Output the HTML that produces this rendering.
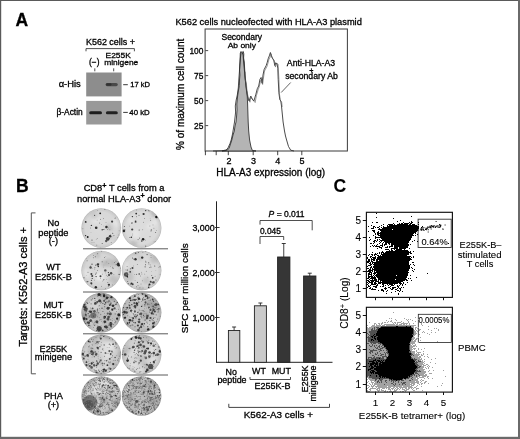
<!DOCTYPE html>
<html><head><meta charset="utf-8"><style>
html,body{margin:0;padding:0;background:#fff;}
body{width:520px;height:439px;overflow:hidden;}
svg{display:block;font-family:"Liberation Sans", Arial, Helvetica, sans-serif;}
text{fill:#000;stroke:#000;stroke-width:0.3px;}
text.lt{stroke-width:0.1px;}
</style></head><body>
<svg width="520" height="439" viewBox="0 0 520 439">
<rect x="0" y="0" width="520" height="439" fill="#fff"/>
<text x="15.6" y="25.7" font-size="17.5" text-anchor="start" font-weight="bold" >A</text><text x="86" y="44.8" font-size="8.95" text-anchor="start" font-weight="normal" >K562 cells +</text><polyline points="86.00,51.30 86.00,48.60 134.40,48.60 134.40,51.30" stroke="#222" stroke-width="0.8" fill="none" stroke-linejoin="round"/><text transform="translate(118.2,57.7) scale(1,0.92)" font-size="8.4" text-anchor="middle" font-weight="normal" >E255K</text><text transform="translate(121.2,64.8) scale(1,0.88)" font-size="8.4" text-anchor="middle" font-weight="normal" >minigene</text><text x="94.2" y="65.0" font-size="8.4" text-anchor="middle" font-weight="normal" >(−)</text><line x1="94.8" y1="68.3" x2="94.8" y2="71.3" stroke="#222" stroke-width="0.8"/><line x1="113.7" y1="68.3" x2="113.7" y2="71.3" stroke="#222" stroke-width="0.8"/><rect x="86.2" y="72.5" width="35.4" height="23.9" fill="#8d8d8d"/><rect x="86.2" y="100.9" width="35.4" height="23.6" fill="#999"/><defs><radialGradient id="band" cx="0.5" cy="0.5" r="0.5"><stop offset="0" stop-color="#1a1a1a"/><stop offset="0.6" stop-color="#2a2a2a"/><stop offset="1" stop-color="#2a2a2a" stop-opacity="0"/></radialGradient><radialGradient id="band2" cx="0.5" cy="0.5" r="0.5"><stop offset="0" stop-color="#3a3a3a"/><stop offset="0.6" stop-color="#505050"/><stop offset="1" stop-color="#555" stop-opacity="0"/></radialGradient></defs><filter id="bb" x="-20%" y="-50%" width="140%" height="200%"><feGaussianBlur stdDeviation="0.7"/></filter><g filter="url(#bb)"><rect x="105.6" y="82.9" width="12.2" height="3.3" rx="1.6" fill="#4a4a4a"/><rect x="106" y="83.3" width="5.5" height="2.5" rx="1.2" fill="#333"/><rect x="89.2" y="111.2" width="12.8" height="3.1" rx="1.5" fill="#1c1c1c"/><rect x="105.9" y="111.3" width="11.9" height="3.0" rx="1.5" fill="#222"/></g><text x="80.8" y="87.2" font-size="9.4" text-anchor="end" font-weight="normal" >α-His</text><text x="82.7" y="115.4" font-size="8.4" text-anchor="end" font-weight="normal" >β-Actin</text><line x1="123.2" y1="84.7" x2="127.8" y2="84.7" stroke="#222" stroke-width="0.9"/><line x1="123.2" y1="112.4" x2="127.8" y2="112.4" stroke="#222" stroke-width="0.9"/><text x="130.2" y="87.3" font-size="7.6" text-anchor="start" font-weight="normal" >17 kD</text><text x="129.3" y="115.2" font-size="7.8" text-anchor="start" font-weight="normal" >40 kD</text><text x="175.4" y="24.5" font-size="9.28" text-anchor="start" font-weight="normal" >K562 cells nucleofected with HLA-A3 plasmid</text><rect x="205.1" y="29.0" width="142.3" height="122.0" fill="none" stroke="#444" stroke-width="1.05"/><text transform="translate(183.5,94.3) rotate(-90)" font-size="10" text-anchor="middle" font-weight="normal">% of maximum cell count</text><line x1="205.4" y1="50.6" x2="208.2" y2="50.6" stroke="#222" stroke-width="0.8"/><text x="203.4" y="53.7" font-size="8.4" text-anchor="end" font-weight="normal" >100</text><line x1="205.4" y1="75.6" x2="208.2" y2="75.6" stroke="#222" stroke-width="0.8"/><text x="203.4" y="78.69999999999999" font-size="8.4" text-anchor="end" font-weight="normal" >75</text><line x1="205.4" y1="100.6" x2="208.2" y2="100.6" stroke="#222" stroke-width="0.8"/><text x="203.4" y="103.69999999999999" font-size="8.4" text-anchor="end" font-weight="normal" >50</text><line x1="205.4" y1="125.6" x2="208.2" y2="125.6" stroke="#222" stroke-width="0.8"/><text x="203.4" y="128.7" font-size="8.4" text-anchor="end" font-weight="normal" >25</text><line x1="205.4" y1="151" x2="205.4" y2="155.2" stroke="#222" stroke-width="0.85"/><line x1="216.2" y1="151" x2="216.2" y2="155.2" stroke="#222" stroke-width="0.85"/><line x1="228.3" y1="151" x2="228.3" y2="155.2" stroke="#222" stroke-width="0.85"/><line x1="253.2" y1="151" x2="253.2" y2="155.2" stroke="#222" stroke-width="0.85"/><line x1="277.7" y1="151" x2="277.7" y2="155.2" stroke="#222" stroke-width="0.85"/><line x1="301.8" y1="151" x2="301.8" y2="155.2" stroke="#222" stroke-width="0.85"/><text x="228.9" y="163.8" font-size="9.0" text-anchor="middle" font-weight="normal" >2</text><text x="253.5" y="163.8" font-size="9.0" text-anchor="middle" font-weight="normal" >3</text><text x="277.8" y="163.8" font-size="9.0" text-anchor="middle" font-weight="normal" >4</text><text x="302" y="163.8" font-size="9.0" text-anchor="middle" font-weight="normal" >5</text><text x="216.25" y="175.5" font-size="10" text-anchor="start" font-weight="normal" >HLA-A3 expression (log)</text><text x="241.8" y="39.5" font-size="8.5" text-anchor="middle" font-weight="normal" >Secondary</text><text transform="translate(241.8,47.6) scale(1,0.93)" font-size="8.5" text-anchor="middle" font-weight="normal" >Ab only</text><text x="311" y="65.5" font-size="8.7" text-anchor="middle" font-weight="normal" >Anti-HLA-A3</text><text x="311.3" y="72.6" font-size="7.2" text-anchor="middle" font-weight="normal" >+</text><text x="311.5" y="78.9" font-size="8.7" text-anchor="middle" font-weight="normal" >secondary Ab</text><line x1="290.7" y1="82.5" x2="281.2" y2="92.5" stroke="#222" stroke-width="0.7"/><polygon points="222,151 226.4,150.6 229,148.5 231.8,140 233,135 234.3,131 235,126 236,122 236.6,116 237,110 236.8,104 237.5,97 238.2,92 239.3,85.7 239.5,80 239.9,75 239.6,70 240,62 240.3,53 241,51.5 242,52.5 243.3,51.5 243.8,54 243.6,58 244.3,62 244.6,68 245,75 245.6,80 246,85.7 246.8,91 247.3,97 247.6,104 247.8,110 248.2,122 248.7,131 249.6,140 251,147 252.4,150.5 256,151" fill="#b4b4b4" stroke="#2a2a2a" stroke-width="0.85"/><polyline points="213.00,151.00 222.00,150.80 226.00,150.00 228.00,148.00 230.00,143.50 231.20,140.00 232.50,134.00 233.20,130.00 234.50,122.00 235.20,116.00 235.60,112.00 235.30,106.00 236.20,100.00 237.30,95.00 238.30,88.00 238.80,80.00 239.40,72.00 239.80,65.00 240.40,58.00 241.00,53.50 241.60,52.50 242.30,53.00 243.10,55.00 243.60,62.00 244.40,70.00 245.00,78.00 245.80,84.00 246.40,90.10 247.70,96.90 249.10,101.00 250.70,96.20 252.10,99.00 253.90,101.00 255.90,94.20 257.30,88.70 258.70,86.00 260.00,79.20 261.10,77.50 262.10,83.30 263.00,75.00 264.10,69.60 266.20,65.50 267.10,62.80 268.20,58.70 269.30,55.90 270.40,52.50 271.40,55.90 272.30,58.00 273.70,60.00 274.80,65.50 275.70,62.80 277.10,64.10 277.80,68.20 278.20,79.20 278.90,92.80 279.80,99.60 280.80,101.00 281.50,106.00 282.30,114.00 283.10,122.00 284.50,131.00 285.50,136.00 286.60,140.00 288.50,146.50 290.70,150.20 294.00,151.00" stroke="#2a2a2a" stroke-width="0.85" fill="none" stroke-linejoin="round"/><polyline points="245.19,71.66 245.25,79.74 246.49,84.50 246.90,90.46 248.34,98.22 249.95,102.22 250.98,96.31 253.19,100.38 255.15,102.50 256.34,95.74 258.16,89.71 259.20,86.90 260.66,80.55 261.83,79.19 262.61,84.44 263.82,75.47 264.50,71.01 267.03,66.32 267.90,63.36 268.96,59.30 270.05,57.29 271.02,53.82 271.84,56.66 272.66,58.85 274.42,60.80 275.43,67.07 276.76,63.09 278.09,64.14 278.32,69.01 278.93,79.58 279.42,93.74 280.33,100.18 281.67,102.37 282.18,106.91" stroke="#555" stroke-width="0.6" fill="none" stroke-linejoin="round"/><text x="16.1" y="192.1" font-size="17.5" text-anchor="start" font-weight="bold" >B</text><text x="124.1" y="190.9" font-size="9.3" text-anchor="middle" font-weight="normal" >CD8<tspan font-size="7.2" font-weight="bold" dy="-3.1">+</tspan><tspan dy="3.1"> T cells from a</tspan></text><text x="124.1" y="201.5" font-size="9.3" text-anchor="middle" font-weight="normal" >normal HLA-A3<tspan font-size="7.2" font-weight="bold" dy="-3.1">+</tspan><tspan dy="3.1"> donor</tspan></text><text transform="translate(26.8,286.8) rotate(-90)" font-size="11" text-anchor="middle" font-weight="normal">Targets: K562-A3 cells +</text><polyline points="35.50,212.90 31.30,212.90 31.30,373.80 35.90,373.80" stroke="#555" stroke-width="1.0" fill="none" stroke-linejoin="round"/><text x="53.4" y="225.9" font-size="9.2" text-anchor="middle" font-weight="normal" >No</text><text x="53.4" y="235.7" font-size="9.2" text-anchor="middle" font-weight="normal" >peptide</text><text x="53.4" y="244.2" font-size="9.2" text-anchor="middle" font-weight="normal" >(-)</text><text x="53.4" y="269.6" font-size="9.2" text-anchor="middle" font-weight="normal" >WT</text><text x="53.4" y="279.7" font-size="9.2" text-anchor="middle" font-weight="normal" >E255K-B</text><text x="53.4" y="307.5" font-size="9.2" text-anchor="middle" font-weight="normal" >MUT</text><text x="53.4" y="317.9" font-size="9.2" text-anchor="middle" font-weight="normal" >E255K-B</text><text x="53.4" y="352.3" font-size="9.2" text-anchor="middle" font-weight="normal" >E255K</text><text x="53.4" y="360.3" font-size="9.2" text-anchor="middle" font-weight="normal" >minigene</text><text x="53.4" y="398.8" font-size="9.2" text-anchor="middle" font-weight="normal" >PHA</text><text x="53.4" y="407.8" font-size="9.2" text-anchor="middle" font-weight="normal" >(+)</text><defs><radialGradient id="well" cx="0.5" cy="0.5" r="0.5"><stop offset="0" stop-color="#fff" stop-opacity="0.12"/><stop offset="0.8" stop-color="#fff" stop-opacity="0.05"/><stop offset="0.95" stop-color="#000" stop-opacity="0.05"/><stop offset="1" stop-color="#000" stop-opacity="0.18"/></radialGradient><filter id="blur1" x="-10%" y="-10%" width="120%" height="120%"><feGaussianBlur stdDeviation="0.55"/></filter><filter id="blur2" x="-20%" y="-20%" width="140%" height="140%"><feGaussianBlur stdDeviation="1.6"/></filter><clipPath id="wc"><rect x="0" y="0" width="1" height="1"/></clipPath></defs><circle cx="101.2" cy="228.0" r="19.8" fill="#d6d6d6"/><clipPath id="c00"><circle cx="101.2" cy="228.0" r="19.5"/></clipPath><g clip-path="url(#c00)"><g filter="url(#blur2)"><circle cx="110.9" cy="238.1" r="2.6" fill="#000" fill-opacity="0.1"/><circle cx="112.6" cy="243.3" r="2.8" fill="#fff" fill-opacity="0.28"/><circle cx="116.0" cy="223.0" r="3.8" fill="#fff" fill-opacity="0.28"/><circle cx="95.8" cy="219.1" r="4.5" fill="#fff" fill-opacity="0.28"/><circle cx="94.4" cy="215.6" r="3.9" fill="#000" fill-opacity="0.1"/><circle cx="110.1" cy="226.9" r="3.7" fill="#000" fill-opacity="0.1"/></g><g filter="url(#blur1)"><circle cx="107.7" cy="238.8" r="1.9" fill="#111" fill-opacity="0.85"/><circle cx="106.2" cy="241.0" r="1.2" fill="#333" fill-opacity="0.85"/><circle cx="92.0" cy="240.1" r="0.54" fill="rgb(66,66,66)"/><circle cx="106.0" cy="222.7" r="0.38" fill="rgb(82,82,82)"/><circle cx="117.4" cy="237.3" r="0.34" fill="rgb(80,80,80)"/><circle cx="97.1" cy="220.1" r="0.37" fill="rgb(113,113,113)"/><circle cx="109.9" cy="229.8" r="0.44" fill="rgb(74,74,74)"/><circle cx="114.9" cy="218.8" r="0.31" fill="rgb(73,73,73)"/><circle cx="111.8" cy="244.7" r="0.51" fill="rgb(82,82,82)"/><circle cx="104.6" cy="229.2" r="0.48" fill="rgb(109,109,109)"/><circle cx="97.2" cy="238.4" r="0.35" fill="rgb(56,56,56)"/><circle cx="119.1" cy="230.8" r="0.34" fill="rgb(82,82,82)"/><circle cx="100.6" cy="219.3" r="0.48" fill="rgb(54,54,54)"/><circle cx="103.8" cy="226.0" r="0.36" fill="rgb(106,106,106)"/><circle cx="103.4" cy="229.5" r="0.52" fill="rgb(70,70,70)"/><circle cx="82.9" cy="228.8" r="0.39" fill="rgb(65,65,65)"/><circle cx="100.2" cy="247.6" r="0.40" fill="rgb(115,115,115)"/><circle cx="91.0" cy="232.3" r="0.31" fill="rgb(102,102,102)"/><circle cx="112.7" cy="233.2" r="0.55" fill="rgb(67,67,67)"/><circle cx="100.4" cy="213.4" r="0.51" fill="rgb(96,96,96)"/><circle cx="104.9" cy="209.3" r="0.49" fill="rgb(60,60,60)"/><circle cx="109.4" cy="238.3" r="0.57" fill="rgb(105,105,105)"/><circle cx="101.4" cy="224.3" r="0.35" fill="rgb(75,75,75)"/><circle cx="108.7" cy="227.9" r="0.41" fill="rgb(67,67,67)"/><circle cx="118.3" cy="234.9" r="0.35" fill="rgb(94,94,94)"/><circle cx="95.6" cy="228.1" r="0.37" fill="rgb(92,92,92)"/><circle cx="107.7" cy="229.6" r="0.49" fill="rgb(88,88,88)"/><circle cx="94.0" cy="242.2" r="0.34" fill="rgb(74,74,74)"/><circle cx="96.2" cy="239.4" r="0.33" fill="rgb(113,113,113)"/><circle cx="113.9" cy="235.6" r="0.57" fill="rgb(117,117,117)"/><circle cx="99.6" cy="223.1" r="0.51" fill="rgb(106,106,106)"/><circle cx="109.5" cy="238.6" r="0.54" fill="rgb(53,53,53)"/><circle cx="97.7" cy="210.6" r="0.38" fill="rgb(103,103,103)"/><circle cx="103.6" cy="218.4" r="0.42" fill="rgb(59,59,59)"/><circle cx="90.6" cy="228.1" r="0.48" fill="rgb(92,92,92)"/><circle cx="102.2" cy="243.6" r="0.52" fill="rgb(75,75,75)"/><circle cx="96.8" cy="245.1" r="0.47" fill="rgb(79,79,79)"/><circle cx="94.6" cy="215.4" r="0.59" fill="rgb(68,68,68)"/><circle cx="110.5" cy="234.4" r="0.31" fill="rgb(88,88,88)"/><circle cx="111.2" cy="242.6" r="0.49" fill="rgb(104,104,104)"/><circle cx="115.2" cy="218.0" r="0.49" fill="rgb(70,70,70)"/><circle cx="92.0" cy="242.5" r="0.35" fill="rgb(76,76,76)"/><circle cx="85.7" cy="221.9" r="0.9" fill="rgb(32,32,32)"/><circle cx="85.6" cy="235.6" r="0.7" fill="rgb(34,34,34)"/><circle cx="102.2" cy="229.8" r="0.7" fill="rgb(28,28,28)"/><circle cx="110.1" cy="236.3" r="1.3" fill="rgb(38,38,38)"/><circle cx="91.4" cy="225.4" r="0.7" fill="rgb(44,44,44)"/><circle cx="106.4" cy="227.0" r="1.3" fill="rgb(24,24,24)"/><circle cx="96.2" cy="227.8" r="1.3" fill="rgb(18,18,18)"/><circle cx="100.2" cy="213.3" r="0.9" fill="rgb(11,11,11)"/><circle cx="87.7" cy="237.0" r="0.9" fill="rgb(16,16,16)"/><circle cx="112.1" cy="221.6" r="1.1" fill="rgb(46,46,46)"/></g></g><circle cx="101.2" cy="228.0" r="19.8" fill="url(#well)"/><circle cx="141.6" cy="228.0" r="19.8" fill="#d8d8d8"/><clipPath id="c01"><circle cx="141.6" cy="228.0" r="19.5"/></clipPath><g clip-path="url(#c01)"><g filter="url(#blur2)"><circle cx="155.0" cy="213.8" r="4.2" fill="#000" fill-opacity="0.1"/><circle cx="135.7" cy="234.1" r="4.3" fill="#fff" fill-opacity="0.28"/><circle cx="134.1" cy="242.7" r="3.6" fill="#000" fill-opacity="0.1"/><circle cx="149.5" cy="226.4" r="2.9" fill="#fff" fill-opacity="0.28"/><circle cx="154.4" cy="222.7" r="2.9" fill="#fff" fill-opacity="0.28"/><circle cx="131.2" cy="221.0" r="2.6" fill="#fff" fill-opacity="0.28"/></g><g filter="url(#blur1)"><circle cx="129.9" cy="237.5" r="0.57" fill="rgb(86,86,86)"/><circle cx="157.9" cy="217.9" r="0.44" fill="rgb(105,105,105)"/><circle cx="129.3" cy="226.1" r="0.31" fill="rgb(77,77,77)"/><circle cx="144.6" cy="218.6" r="0.44" fill="rgb(52,52,52)"/><circle cx="139.0" cy="215.2" r="0.50" fill="rgb(75,75,75)"/><circle cx="142.7" cy="229.8" r="0.46" fill="rgb(91,91,91)"/><circle cx="150.1" cy="218.5" r="0.31" fill="rgb(105,105,105)"/><circle cx="156.7" cy="230.6" r="0.32" fill="rgb(65,65,65)"/><circle cx="150.0" cy="236.7" r="0.47" fill="rgb(73,73,73)"/><circle cx="150.7" cy="220.2" r="0.47" fill="rgb(62,62,62)"/><circle cx="153.9" cy="228.2" r="0.42" fill="rgb(72,72,72)"/><circle cx="155.6" cy="232.6" r="0.52" fill="rgb(93,93,93)"/><circle cx="153.0" cy="224.9" r="0.43" fill="rgb(95,95,95)"/><circle cx="145.7" cy="246.2" r="0.58" fill="rgb(102,102,102)"/><circle cx="149.8" cy="210.9" r="0.30" fill="rgb(58,58,58)"/><circle cx="145.6" cy="240.1" r="0.43" fill="rgb(98,98,98)"/><circle cx="124.4" cy="226.6" r="0.50" fill="rgb(54,54,54)"/><circle cx="151.0" cy="231.0" r="0.50" fill="rgb(100,100,100)"/><circle cx="132.7" cy="234.0" r="0.38" fill="rgb(107,107,107)"/><circle cx="151.3" cy="229.9" r="0.54" fill="rgb(51,51,51)"/><circle cx="155.7" cy="241.6" r="0.39" fill="rgb(64,64,64)"/><circle cx="132.1" cy="222.4" r="0.33" fill="rgb(76,76,76)"/><circle cx="139.2" cy="230.0" r="0.57" fill="rgb(65,65,65)"/><circle cx="139.6" cy="238.1" r="0.56" fill="rgb(97,97,97)"/><circle cx="138.1" cy="239.6" r="0.54" fill="rgb(100,100,100)"/><circle cx="135.3" cy="222.5" r="0.53" fill="rgb(62,62,62)"/><circle cx="136.6" cy="209.9" r="0.43" fill="rgb(104,104,104)"/><circle cx="154.1" cy="241.9" r="0.47" fill="rgb(98,98,98)"/><circle cx="136.5" cy="216.8" r="0.47" fill="rgb(74,74,74)"/><circle cx="125.0" cy="229.8" r="0.55" fill="rgb(115,115,115)"/><circle cx="132.4" cy="235.8" r="0.42" fill="rgb(114,114,114)"/><circle cx="143.5" cy="222.3" r="0.45" fill="rgb(81,81,81)"/><circle cx="148.3" cy="210.7" r="0.49" fill="rgb(60,60,60)"/><circle cx="136.3" cy="222.4" r="0.47" fill="rgb(108,108,108)"/><circle cx="149.9" cy="226.0" r="0.40" fill="rgb(86,86,86)"/><circle cx="132.4" cy="216.6" r="0.7" fill="rgb(22,22,22)"/><circle cx="132.2" cy="229.5" r="1.1" fill="rgb(48,48,48)"/><circle cx="143.6" cy="214.0" r="1.1" fill="rgb(38,38,38)"/><circle cx="135.6" cy="221.3" r="0.9" fill="rgb(37,37,37)"/><circle cx="123.9" cy="230.9" r="1.3" fill="rgb(42,42,42)"/><circle cx="156.4" cy="217.0" r="1.3" fill="rgb(16,16,16)"/><circle cx="143.1" cy="239.2" r="1.3" fill="rgb(16,16,16)"/><circle cx="131.4" cy="237.2" r="0.7" fill="rgb(21,21,21)"/><circle cx="131.9" cy="223.1" r="0.7" fill="rgb(43,43,43)"/><circle cx="141.8" cy="241.0" r="0.7" fill="rgb(21,21,21)"/><circle cx="145.7" cy="210.6" r="0.7" fill="rgb(49,49,49)"/><circle cx="136.2" cy="213.6" r="0.9" fill="rgb(35,35,35)"/></g></g><circle cx="141.6" cy="228.0" r="19.8" fill="url(#well)"/><circle cx="101.2" cy="270.5" r="19.8" fill="#d4d4d4"/><clipPath id="c10"><circle cx="101.2" cy="270.5" r="19.5"/></clipPath><g clip-path="url(#c10)"><g filter="url(#blur2)"><circle cx="115.5" cy="262.8" r="3.8" fill="#000" fill-opacity="0.1"/><circle cx="103.9" cy="263.6" r="3.6" fill="#000" fill-opacity="0.1"/><circle cx="109.2" cy="262.7" r="4.6" fill="#000" fill-opacity="0.1"/><circle cx="97.5" cy="255.4" r="2.7" fill="#000" fill-opacity="0.1"/><circle cx="113.0" cy="279.3" r="4.2" fill="#000" fill-opacity="0.1"/><circle cx="98.8" cy="276.5" r="3.7" fill="#fff" fill-opacity="0.28"/><circle cx="85.9" cy="273.6" r="4.7" fill="#fff" fill-opacity="0.28"/><circle cx="99.7" cy="276.8" r="4.8" fill="#fff" fill-opacity="0.28"/></g><g filter="url(#blur1)"><circle cx="118.7" cy="264.5" r="1.9" fill="#111" fill-opacity="0.85"/><circle cx="106.8" cy="279.3" r="0.40" fill="rgb(114,114,114)"/><circle cx="103.5" cy="267.0" r="0.37" fill="rgb(112,112,112)"/><circle cx="108.4" cy="286.0" r="0.59" fill="rgb(119,119,119)"/><circle cx="101.5" cy="251.6" r="0.47" fill="rgb(119,119,119)"/><circle cx="112.4" cy="284.9" r="0.39" fill="rgb(77,77,77)"/><circle cx="97.5" cy="270.5" r="0.38" fill="rgb(51,51,51)"/><circle cx="87.1" cy="260.8" r="0.55" fill="rgb(117,117,117)"/><circle cx="115.9" cy="264.8" r="0.48" fill="rgb(101,101,101)"/><circle cx="105.5" cy="272.9" r="0.36" fill="rgb(103,103,103)"/><circle cx="104.5" cy="257.4" r="0.47" fill="rgb(50,50,50)"/><circle cx="96.2" cy="272.4" r="0.39" fill="rgb(68,68,68)"/><circle cx="91.8" cy="284.2" r="0.43" fill="rgb(61,61,61)"/><circle cx="86.1" cy="258.5" r="0.32" fill="rgb(58,58,58)"/><circle cx="104.5" cy="279.2" r="0.32" fill="rgb(61,61,61)"/><circle cx="103.6" cy="279.6" r="0.49" fill="rgb(83,83,83)"/><circle cx="95.9" cy="276.6" r="0.38" fill="rgb(56,56,56)"/><circle cx="107.8" cy="282.6" r="0.51" fill="rgb(110,110,110)"/><circle cx="102.3" cy="274.1" r="0.43" fill="rgb(54,54,54)"/><circle cx="90.5" cy="282.9" r="0.38" fill="rgb(55,55,55)"/><circle cx="95.3" cy="256.8" r="0.57" fill="rgb(86,86,86)"/><circle cx="107.8" cy="276.2" r="0.47" fill="rgb(89,89,89)"/><circle cx="120.6" cy="268.1" r="0.53" fill="rgb(91,91,91)"/><circle cx="98.9" cy="263.7" r="0.39" fill="rgb(92,92,92)"/><circle cx="96.2" cy="276.6" r="0.56" fill="rgb(50,50,50)"/><circle cx="97.7" cy="253.7" r="0.43" fill="rgb(70,70,70)"/><circle cx="108.1" cy="284.2" r="0.53" fill="rgb(108,108,108)"/><circle cx="110.4" cy="266.4" r="0.34" fill="rgb(99,99,99)"/><circle cx="94.8" cy="269.0" r="0.46" fill="rgb(87,87,87)"/><circle cx="94.5" cy="280.1" r="0.44" fill="rgb(99,99,99)"/><circle cx="95.6" cy="274.1" r="0.55" fill="rgb(69,69,69)"/><circle cx="113.1" cy="268.4" r="0.56" fill="rgb(110,110,110)"/><circle cx="103.3" cy="280.7" r="0.39" fill="rgb(98,98,98)"/><circle cx="112.7" cy="267.2" r="0.51" fill="rgb(101,101,101)"/><circle cx="105.4" cy="288.4" r="0.33" fill="rgb(73,73,73)"/><circle cx="113.9" cy="274.6" r="0.38" fill="rgb(94,94,94)"/><circle cx="106.8" cy="261.9" r="0.31" fill="rgb(109,109,109)"/><circle cx="100.6" cy="278.4" r="0.41" fill="rgb(81,81,81)"/><circle cx="86.8" cy="281.7" r="0.48" fill="rgb(90,90,90)"/><circle cx="87.5" cy="281.8" r="0.52" fill="rgb(85,85,85)"/><circle cx="114.5" cy="262.5" r="0.38" fill="rgb(80,80,80)"/><circle cx="115.9" cy="261.4" r="0.37" fill="rgb(105,105,105)"/><circle cx="84.0" cy="277.7" r="0.54" fill="rgb(67,67,67)"/><circle cx="92.2" cy="268.3" r="0.32" fill="rgb(76,76,76)"/><circle cx="93.4" cy="255.6" r="0.39" fill="rgb(52,52,52)"/><circle cx="102.2" cy="261.7" r="0.54" fill="rgb(87,87,87)"/><circle cx="94.9" cy="267.6" r="0.52" fill="rgb(113,113,113)"/><circle cx="90.7" cy="266.0" r="0.42" fill="rgb(90,90,90)"/><circle cx="106.3" cy="275.2" r="0.35" fill="rgb(53,53,53)"/><circle cx="101.6" cy="286.3" r="0.48" fill="rgb(90,90,90)"/><circle cx="103.9" cy="265.0" r="0.32" fill="rgb(77,77,77)"/><circle cx="96.4" cy="273.2" r="0.33" fill="rgb(54,54,54)"/><circle cx="87.9" cy="281.5" r="0.52" fill="rgb(69,69,69)"/><circle cx="102.3" cy="281.1" r="0.32" fill="rgb(82,82,82)"/><circle cx="86.8" cy="275.3" r="0.32" fill="rgb(107,107,107)"/><circle cx="105.8" cy="256.3" r="0.32" fill="rgb(90,90,90)"/><circle cx="108.8" cy="263.4" r="0.46" fill="rgb(88,88,88)"/><circle cx="114.2" cy="262.3" r="0.37" fill="rgb(119,119,119)"/><circle cx="93.3" cy="257.7" r="0.49" fill="rgb(85,85,85)"/><circle cx="90.3" cy="266.9" r="0.33" fill="rgb(94,94,94)"/><circle cx="88.0" cy="272.3" r="0.47" fill="rgb(64,64,64)"/><circle cx="98.0" cy="264.7" r="0.6" fill="rgb(23,23,23)"/><circle cx="109.0" cy="274.9" r="1.0" fill="rgb(42,42,42)"/><circle cx="119.1" cy="274.3" r="0.6" fill="rgb(50,50,50)"/><circle cx="92.0" cy="264.2" r="0.6" fill="rgb(43,43,43)"/><circle cx="100.5" cy="276.2" r="1.0" fill="rgb(36,36,36)"/><circle cx="92.2" cy="275.9" r="1.0" fill="rgb(49,49,49)"/><circle cx="95.8" cy="265.2" r="0.6" fill="rgb(67,67,67)"/><circle cx="91.5" cy="280.3" r="0.6" fill="rgb(68,68,68)"/><circle cx="111.1" cy="273.3" r="1.2" fill="rgb(59,59,59)"/><circle cx="91.4" cy="274.0" r="1.0" fill="rgb(46,46,46)"/><circle cx="105.3" cy="270.4" r="1.2" fill="rgb(69,69,69)"/><circle cx="97.9" cy="264.4" r="1.2" fill="rgb(32,32,32)"/><circle cx="117.1" cy="264.7" r="0.6" fill="rgb(58,58,58)"/><circle cx="95.8" cy="287.2" r="1.2" fill="rgb(36,36,36)"/><circle cx="108.4" cy="272.6" r="0.6" fill="rgb(21,21,21)"/><circle cx="109.0" cy="284.8" r="1.0" fill="rgb(30,30,30)"/><circle cx="90.6" cy="267.5" r="1.2" fill="rgb(63,63,63)"/><circle cx="98.3" cy="266.5" r="0.8" fill="rgb(25,25,25)"/><circle cx="91.4" cy="283.3" r="1.0" fill="rgb(54,54,54)"/><circle cx="92.2" cy="278.5" r="0.6" fill="rgb(31,31,31)"/></g></g><circle cx="101.2" cy="270.5" r="19.8" fill="url(#well)"/><circle cx="141.6" cy="270.5" r="19.8" fill="#d6d6d6"/><clipPath id="c11"><circle cx="141.6" cy="270.5" r="19.5"/></clipPath><g clip-path="url(#c11)"><g filter="url(#blur2)"><circle cx="135.7" cy="252.9" r="2.6" fill="#000" fill-opacity="0.1"/><circle cx="130.0" cy="271.4" r="2.7" fill="#000" fill-opacity="0.1"/><circle cx="140.0" cy="257.8" r="2.5" fill="#000" fill-opacity="0.1"/><circle cx="129.6" cy="277.3" r="4.4" fill="#000" fill-opacity="0.1"/><circle cx="146.2" cy="280.5" r="3.5" fill="#000" fill-opacity="0.1"/><circle cx="140.0" cy="289.5" r="3.4" fill="#000" fill-opacity="0.1"/><circle cx="123.4" cy="264.7" r="4.8" fill="#fff" fill-opacity="0.28"/><circle cx="154.2" cy="259.3" r="4.2" fill="#000" fill-opacity="0.1"/></g><g filter="url(#blur1)"><circle cx="126.1" cy="274.5" r="2.2" fill="#333" fill-opacity="0.85"/><circle cx="127.1" cy="266.4" r="0.47" fill="rgb(63,63,63)"/><circle cx="135.2" cy="258.3" r="0.44" fill="rgb(97,97,97)"/><circle cx="147.1" cy="254.6" r="0.53" fill="rgb(56,56,56)"/><circle cx="140.4" cy="276.0" r="0.40" fill="rgb(58,58,58)"/><circle cx="130.4" cy="268.7" r="0.53" fill="rgb(64,64,64)"/><circle cx="128.6" cy="283.7" r="0.51" fill="rgb(67,67,67)"/><circle cx="130.2" cy="284.7" r="0.50" fill="rgb(95,95,95)"/><circle cx="155.9" cy="280.0" r="0.52" fill="rgb(74,74,74)"/><circle cx="145.5" cy="264.8" r="0.53" fill="rgb(51,51,51)"/><circle cx="160.0" cy="266.8" r="0.55" fill="rgb(80,80,80)"/><circle cx="146.3" cy="271.2" r="0.46" fill="rgb(90,90,90)"/><circle cx="145.9" cy="262.0" r="0.60" fill="rgb(82,82,82)"/><circle cx="137.5" cy="282.4" r="0.60" fill="rgb(92,92,92)"/><circle cx="148.4" cy="285.5" r="0.42" fill="rgb(78,78,78)"/><circle cx="141.0" cy="284.0" r="0.42" fill="rgb(90,90,90)"/><circle cx="125.8" cy="269.9" r="0.47" fill="rgb(109,109,109)"/><circle cx="127.2" cy="283.6" r="0.31" fill="rgb(62,62,62)"/><circle cx="150.2" cy="264.9" r="0.42" fill="rgb(60,60,60)"/><circle cx="135.1" cy="280.3" r="0.39" fill="rgb(109,109,109)"/><circle cx="147.8" cy="277.3" r="0.43" fill="rgb(116,116,116)"/><circle cx="130.4" cy="283.9" r="0.45" fill="rgb(115,115,115)"/><circle cx="145.6" cy="261.1" r="0.47" fill="rgb(74,74,74)"/><circle cx="142.5" cy="280.8" r="0.38" fill="rgb(63,63,63)"/><circle cx="151.0" cy="255.6" r="0.40" fill="rgb(57,57,57)"/><circle cx="138.4" cy="252.4" r="0.52" fill="rgb(89,89,89)"/><circle cx="143.0" cy="288.0" r="0.42" fill="rgb(107,107,107)"/><circle cx="141.9" cy="274.1" r="0.49" fill="rgb(94,94,94)"/><circle cx="155.9" cy="270.6" r="0.31" fill="rgb(115,115,115)"/><circle cx="144.7" cy="274.1" r="0.42" fill="rgb(80,80,80)"/><circle cx="145.1" cy="266.8" r="0.58" fill="rgb(64,64,64)"/><circle cx="151.6" cy="271.7" r="0.30" fill="rgb(77,77,77)"/><circle cx="138.0" cy="285.5" r="0.48" fill="rgb(93,93,93)"/><circle cx="132.5" cy="257.9" r="0.50" fill="rgb(52,52,52)"/><circle cx="133.6" cy="265.9" r="0.37" fill="rgb(79,79,79)"/><circle cx="148.7" cy="262.8" r="0.54" fill="rgb(61,61,61)"/><circle cx="142.9" cy="252.3" r="0.43" fill="rgb(97,97,97)"/><circle cx="127.0" cy="272.8" r="0.58" fill="rgb(91,91,91)"/><circle cx="139.9" cy="287.8" r="0.36" fill="rgb(51,51,51)"/><circle cx="150.9" cy="267.1" r="0.57" fill="rgb(85,85,85)"/><circle cx="133.8" cy="259.1" r="0.59" fill="rgb(99,99,99)"/><circle cx="149.5" cy="267.5" r="0.39" fill="rgb(59,59,59)"/><circle cx="152.2" cy="284.2" r="0.34" fill="rgb(108,108,108)"/><circle cx="151.7" cy="275.5" r="0.53" fill="rgb(98,98,98)"/><circle cx="126.3" cy="274.4" r="0.56" fill="rgb(114,114,114)"/><circle cx="154.0" cy="281.8" r="0.57" fill="rgb(104,104,104)"/><circle cx="134.8" cy="274.3" r="0.41" fill="rgb(83,83,83)"/><circle cx="127.7" cy="281.5" r="0.50" fill="rgb(95,95,95)"/><circle cx="137.3" cy="264.4" r="0.42" fill="rgb(54,54,54)"/><circle cx="151.0" cy="257.6" r="0.49" fill="rgb(105,105,105)"/><circle cx="145.8" cy="251.2" r="0.56" fill="rgb(99,99,99)"/><circle cx="158.4" cy="267.6" r="0.32" fill="rgb(106,106,106)"/><circle cx="160.1" cy="274.8" r="0.39" fill="rgb(66,66,66)"/><circle cx="152.0" cy="282.3" r="0.54" fill="rgb(52,52,52)"/><circle cx="136.5" cy="286.8" r="0.51" fill="rgb(113,113,113)"/><circle cx="127.7" cy="277.6" r="0.51" fill="rgb(109,109,109)"/><circle cx="141.6" cy="272.2" r="0.49" fill="rgb(111,111,111)"/><circle cx="155.1" cy="276.2" r="0.39" fill="rgb(91,91,91)"/><circle cx="148.9" cy="264.1" r="0.39" fill="rgb(60,60,60)"/><circle cx="131.8" cy="286.3" r="0.34" fill="rgb(95,95,95)"/><circle cx="136.6" cy="274.4" r="0.56" fill="rgb(99,99,99)"/><circle cx="152.7" cy="277.9" r="0.8" fill="rgb(34,34,34)"/><circle cx="150.7" cy="281.8" r="1.0" fill="rgb(58,58,58)"/><circle cx="131.5" cy="283.6" r="1.0" fill="rgb(42,42,42)"/><circle cx="132.7" cy="284.3" r="1.0" fill="rgb(57,57,57)"/><circle cx="135.7" cy="253.2" r="0.6" fill="rgb(37,37,37)"/><circle cx="135.5" cy="259.2" r="1.2" fill="rgb(34,34,34)"/><circle cx="127.3" cy="270.0" r="0.6" fill="rgb(26,26,26)"/><circle cx="148.7" cy="287.2" r="0.8" fill="rgb(39,39,39)"/><circle cx="132.5" cy="268.0" r="1.0" fill="rgb(47,47,47)"/><circle cx="154.7" cy="266.0" r="0.6" fill="rgb(69,69,69)"/><circle cx="149.5" cy="284.5" r="1.0" fill="rgb(32,32,32)"/><circle cx="130.2" cy="271.9" r="0.8" fill="rgb(40,40,40)"/><circle cx="127.3" cy="276.6" r="0.8" fill="rgb(22,22,22)"/><circle cx="153.4" cy="282.4" r="1.2" fill="rgb(68,68,68)"/><circle cx="139.2" cy="274.0" r="0.8" fill="rgb(47,47,47)"/><circle cx="142.2" cy="257.6" r="1.2" fill="rgb(26,26,26)"/></g></g><circle cx="141.6" cy="270.5" r="19.8" fill="url(#well)"/><circle cx="101.2" cy="312.6" r="19.8" fill="#b9b9b9"/><clipPath id="c20"><circle cx="101.2" cy="312.6" r="19.5"/></clipPath><g clip-path="url(#c20)"><g filter="url(#blur2)"><circle cx="102.7" cy="321.3" r="3.5" fill="#000" fill-opacity="0.1"/><circle cx="113.0" cy="323.2" r="2.6" fill="#fff" fill-opacity="0.28"/><circle cx="120.3" cy="310.2" r="4.6" fill="#fff" fill-opacity="0.28"/><circle cx="85.6" cy="317.1" r="4.3" fill="#000" fill-opacity="0.1"/><circle cx="94.1" cy="315.4" r="3.6" fill="#000" fill-opacity="0.1"/><circle cx="85.1" cy="318.7" r="5.0" fill="#000" fill-opacity="0.1"/><circle cx="89.2" cy="322.8" r="2.8" fill="#fff" fill-opacity="0.28"/><circle cx="100.9" cy="323.1" r="3.1" fill="#fff" fill-opacity="0.28"/><circle cx="113.1" cy="307.5" r="4.8" fill="#fff" fill-opacity="0.28"/><circle cx="106.1" cy="295.9" r="4.3" fill="#000" fill-opacity="0.1"/><circle cx="94.6" cy="330.8" r="4.7" fill="#fff" fill-opacity="0.28"/><circle cx="91.1" cy="318.2" r="3.5" fill="#fff" fill-opacity="0.28"/><circle cx="112.6" cy="298.9" r="3.1" fill="#000" fill-opacity="0.1"/><circle cx="96.2" cy="314.6" r="2.6" fill="#000" fill-opacity="0.1"/><circle cx="93.2" cy="304.6" r="7" fill="#fff" fill-opacity="0.3"/></g><g filter="url(#blur1)"><circle cx="99.2" cy="328.6" r="2.6" fill="#222" fill-opacity="0.85"/><circle cx="93.2" cy="315.6" r="3" fill="#555" fill-opacity="0.85"/><circle cx="95.1" cy="317.3" r="0.58" fill="rgb(109,109,109)"/><circle cx="96.7" cy="330.5" r="0.51" fill="rgb(62,62,62)"/><circle cx="101.1" cy="325.8" r="0.41" fill="rgb(92,92,92)"/><circle cx="106.1" cy="327.0" r="0.60" fill="rgb(105,105,105)"/><circle cx="96.8" cy="321.6" r="0.36" fill="rgb(55,55,55)"/><circle cx="111.0" cy="314.2" r="0.33" fill="rgb(100,100,100)"/><circle cx="94.7" cy="304.0" r="0.45" fill="rgb(66,66,66)"/><circle cx="89.0" cy="317.8" r="0.47" fill="rgb(58,58,58)"/><circle cx="102.8" cy="311.5" r="0.48" fill="rgb(55,55,55)"/><circle cx="97.1" cy="321.6" r="0.39" fill="rgb(119,119,119)"/><circle cx="114.9" cy="305.2" r="0.38" fill="rgb(52,52,52)"/><circle cx="114.1" cy="319.3" r="0.32" fill="rgb(113,113,113)"/><circle cx="104.5" cy="313.2" r="0.35" fill="rgb(69,69,69)"/><circle cx="118.3" cy="309.1" r="0.47" fill="rgb(115,115,115)"/><circle cx="108.4" cy="297.6" r="0.50" fill="rgb(70,70,70)"/><circle cx="97.9" cy="325.7" r="0.37" fill="rgb(107,107,107)"/><circle cx="109.5" cy="328.9" r="0.35" fill="rgb(82,82,82)"/><circle cx="96.9" cy="322.1" r="0.44" fill="rgb(112,112,112)"/><circle cx="113.1" cy="306.1" r="0.57" fill="rgb(115,115,115)"/><circle cx="85.2" cy="305.4" r="0.33" fill="rgb(70,70,70)"/><circle cx="97.5" cy="309.8" r="0.49" fill="rgb(82,82,82)"/><circle cx="103.3" cy="294.0" r="0.56" fill="rgb(64,64,64)"/><circle cx="85.6" cy="313.0" r="0.55" fill="rgb(82,82,82)"/><circle cx="100.6" cy="314.3" r="0.50" fill="rgb(108,108,108)"/><circle cx="99.7" cy="305.8" r="0.49" fill="rgb(64,64,64)"/><circle cx="100.9" cy="296.5" r="0.50" fill="rgb(91,91,91)"/><circle cx="109.2" cy="323.2" r="0.52" fill="rgb(73,73,73)"/><circle cx="84.5" cy="310.8" r="0.57" fill="rgb(98,98,98)"/><circle cx="104.0" cy="309.1" r="0.41" fill="rgb(96,96,96)"/><circle cx="112.2" cy="320.7" r="0.54" fill="rgb(109,109,109)"/><circle cx="108.2" cy="318.1" r="0.59" fill="rgb(98,98,98)"/><circle cx="106.4" cy="315.3" r="0.48" fill="rgb(98,98,98)"/><circle cx="104.5" cy="304.4" r="0.54" fill="rgb(84,84,84)"/><circle cx="91.9" cy="321.0" r="0.54" fill="rgb(52,52,52)"/><circle cx="89.7" cy="316.6" r="0.56" fill="rgb(95,95,95)"/><circle cx="108.9" cy="304.0" r="0.42" fill="rgb(92,92,92)"/><circle cx="110.5" cy="297.6" r="0.55" fill="rgb(96,96,96)"/><circle cx="86.3" cy="311.7" r="0.51" fill="rgb(61,61,61)"/><circle cx="97.7" cy="327.0" r="0.42" fill="rgb(50,50,50)"/><circle cx="89.5" cy="302.1" r="0.38" fill="rgb(89,89,89)"/><circle cx="92.1" cy="299.3" r="0.41" fill="rgb(91,91,91)"/><circle cx="109.7" cy="324.7" r="0.57" fill="rgb(53,53,53)"/><circle cx="94.9" cy="321.0" r="0.33" fill="rgb(81,81,81)"/><circle cx="115.8" cy="299.6" r="0.47" fill="rgb(107,107,107)"/><circle cx="111.8" cy="308.5" r="0.35" fill="rgb(82,82,82)"/><circle cx="84.2" cy="321.3" r="0.46" fill="rgb(96,96,96)"/><circle cx="85.8" cy="309.1" r="0.44" fill="rgb(92,92,92)"/><circle cx="94.9" cy="312.2" r="0.50" fill="rgb(81,81,81)"/><circle cx="102.9" cy="322.9" r="0.34" fill="rgb(106,106,106)"/><circle cx="107.2" cy="329.5" r="0.39" fill="rgb(58,58,58)"/><circle cx="112.0" cy="305.8" r="0.53" fill="rgb(107,107,107)"/><circle cx="110.4" cy="313.8" r="0.40" fill="rgb(113,113,113)"/><circle cx="85.4" cy="323.5" r="0.59" fill="rgb(57,57,57)"/><circle cx="91.7" cy="300.1" r="0.49" fill="rgb(50,50,50)"/><circle cx="106.6" cy="301.4" r="0.34" fill="rgb(55,55,55)"/><circle cx="112.5" cy="318.6" r="0.32" fill="rgb(107,107,107)"/><circle cx="90.8" cy="319.6" r="0.46" fill="rgb(77,77,77)"/><circle cx="92.5" cy="310.6" r="0.46" fill="rgb(105,105,105)"/><circle cx="89.6" cy="328.2" r="0.35" fill="rgb(99,99,99)"/><circle cx="116.0" cy="309.7" r="0.37" fill="rgb(73,73,73)"/><circle cx="110.1" cy="316.6" r="0.40" fill="rgb(70,70,70)"/><circle cx="116.4" cy="311.4" r="0.41" fill="rgb(63,63,63)"/><circle cx="96.0" cy="315.0" r="0.45" fill="rgb(82,82,82)"/><circle cx="112.2" cy="305.6" r="0.50" fill="rgb(98,98,98)"/><circle cx="108.0" cy="325.9" r="0.35" fill="rgb(81,81,81)"/><circle cx="120.7" cy="315.6" r="0.57" fill="rgb(56,56,56)"/><circle cx="97.4" cy="316.8" r="0.50" fill="rgb(117,117,117)"/><circle cx="86.2" cy="322.8" r="0.42" fill="rgb(99,99,99)"/><circle cx="97.8" cy="295.9" r="0.51" fill="rgb(62,62,62)"/><circle cx="115.4" cy="304.4" r="0.60" fill="rgb(105,105,105)"/><circle cx="105.1" cy="299.6" r="0.53" fill="rgb(89,89,89)"/><circle cx="97.6" cy="308.7" r="0.38" fill="rgb(54,54,54)"/><circle cx="105.1" cy="304.1" r="0.55" fill="rgb(72,72,72)"/><circle cx="108.4" cy="320.2" r="0.31" fill="rgb(67,67,67)"/><circle cx="100.7" cy="301.4" r="0.40" fill="rgb(78,78,78)"/><circle cx="117.9" cy="319.9" r="0.39" fill="rgb(59,59,59)"/><circle cx="99.1" cy="301.1" r="0.40" fill="rgb(85,85,85)"/><circle cx="90.8" cy="308.5" r="0.30" fill="rgb(81,81,81)"/><circle cx="115.2" cy="313.9" r="0.60" fill="rgb(107,107,107)"/><circle cx="105.9" cy="299.1" r="0.50" fill="rgb(95,95,95)"/><circle cx="98.7" cy="293.0" r="0.43" fill="rgb(74,74,74)"/><circle cx="102.9" cy="303.5" r="0.57" fill="rgb(56,56,56)"/><circle cx="119.8" cy="314.5" r="0.35" fill="rgb(114,114,114)"/><circle cx="101.5" cy="302.0" r="0.60" fill="rgb(68,68,68)"/><circle cx="114.3" cy="301.3" r="0.60" fill="rgb(80,80,80)"/><circle cx="83.5" cy="304.2" r="0.31" fill="rgb(100,100,100)"/><circle cx="106.6" cy="295.3" r="0.49" fill="rgb(111,111,111)"/><circle cx="119.1" cy="316.9" r="0.36" fill="rgb(79,79,79)"/><circle cx="103.5" cy="321.2" r="0.32" fill="rgb(107,107,107)"/><circle cx="103.4" cy="311.3" r="0.37" fill="rgb(100,100,100)"/><circle cx="92.9" cy="311.8" r="0.35" fill="rgb(112,112,112)"/><circle cx="86.1" cy="315.8" r="0.36" fill="rgb(81,81,81)"/><circle cx="96.4" cy="331.1" r="0.31" fill="rgb(58,58,58)"/><circle cx="116.9" cy="302.5" r="0.44" fill="rgb(97,97,97)"/><circle cx="113.4" cy="308.8" r="0.43" fill="rgb(50,50,50)"/><circle cx="86.8" cy="309.9" r="0.32" fill="rgb(112,112,112)"/><circle cx="109.9" cy="301.2" r="0.42" fill="rgb(101,101,101)"/><circle cx="97.9" cy="323.6" r="0.44" fill="rgb(69,69,69)"/><circle cx="86.5" cy="302.2" r="0.44" fill="rgb(62,62,62)"/><circle cx="83.7" cy="309.0" r="0.49" fill="rgb(99,99,99)"/><circle cx="95.1" cy="300.8" r="0.55" fill="rgb(106,106,106)"/><circle cx="95.0" cy="309.9" r="0.38" fill="rgb(79,79,79)"/><circle cx="105.1" cy="322.7" r="0.40" fill="rgb(107,107,107)"/><circle cx="90.1" cy="317.8" r="0.47" fill="rgb(62,62,62)"/><circle cx="84.6" cy="322.2" r="0.59" fill="rgb(93,93,93)"/><circle cx="110.0" cy="301.9" r="0.36" fill="rgb(51,51,51)"/><circle cx="113.6" cy="324.2" r="0.49" fill="rgb(59,59,59)"/><circle cx="95.2" cy="324.9" r="0.39" fill="rgb(102,102,102)"/><circle cx="106.2" cy="322.0" r="0.47" fill="rgb(116,116,116)"/><circle cx="99.5" cy="320.0" r="0.40" fill="rgb(54,54,54)"/><circle cx="91.1" cy="303.8" r="0.60" fill="rgb(106,106,106)"/><circle cx="90.7" cy="307.6" r="0.33" fill="rgb(105,105,105)"/><circle cx="102.3" cy="294.0" r="0.33" fill="rgb(104,104,104)"/><circle cx="85.7" cy="304.0" r="0.55" fill="rgb(78,78,78)"/><circle cx="108.5" cy="325.0" r="0.54" fill="rgb(89,89,89)"/><circle cx="92.6" cy="317.9" r="0.33" fill="rgb(99,99,99)"/><circle cx="92.1" cy="322.6" r="0.43" fill="rgb(105,105,105)"/><circle cx="86.1" cy="306.4" r="0.59" fill="rgb(97,97,97)"/><circle cx="86.6" cy="316.0" r="0.36" fill="rgb(51,51,51)"/><circle cx="101.3" cy="321.7" r="0.36" fill="rgb(86,86,86)"/><circle cx="84.9" cy="304.9" r="0.37" fill="rgb(55,55,55)"/><circle cx="96.9" cy="312.7" r="0.47" fill="rgb(60,60,60)"/><circle cx="86.0" cy="323.7" r="0.53" fill="rgb(89,89,89)"/><circle cx="94.3" cy="322.6" r="0.48" fill="rgb(109,109,109)"/><circle cx="109.7" cy="307.5" r="0.50" fill="rgb(58,58,58)"/><circle cx="105.1" cy="316.5" r="0.51" fill="rgb(77,77,77)"/><circle cx="90.2" cy="325.8" r="0.39" fill="rgb(81,81,81)"/><circle cx="86.2" cy="309.3" r="0.48" fill="rgb(60,60,60)"/><circle cx="110.7" cy="329.6" r="0.36" fill="rgb(87,87,87)"/><circle cx="110.0" cy="315.0" r="0.47" fill="rgb(72,72,72)"/><circle cx="92.6" cy="298.3" r="0.49" fill="rgb(80,80,80)"/><circle cx="91.0" cy="309.0" r="0.42" fill="rgb(65,65,65)"/><circle cx="98.5" cy="305.9" r="0.31" fill="rgb(94,94,94)"/><circle cx="107.8" cy="327.4" r="0.53" fill="rgb(106,106,106)"/><circle cx="97.1" cy="303.5" r="0.48" fill="rgb(119,119,119)"/><circle cx="117.4" cy="302.3" r="0.59" fill="rgb(66,66,66)"/><circle cx="115.0" cy="320.3" r="0.33" fill="rgb(67,67,67)"/><circle cx="92.9" cy="308.7" r="0.44" fill="rgb(105,105,105)"/><circle cx="100.9" cy="314.7" r="0.49" fill="rgb(98,98,98)"/><circle cx="105.4" cy="301.1" r="0.31" fill="rgb(114,114,114)"/><circle cx="116.3" cy="304.1" r="0.60" fill="rgb(57,57,57)"/><circle cx="115.7" cy="321.8" r="0.51" fill="rgb(67,67,67)"/><circle cx="104.7" cy="306.8" r="0.57" fill="rgb(72,72,72)"/><circle cx="93.5" cy="313.7" r="0.34" fill="rgb(56,56,56)"/><circle cx="110.5" cy="319.9" r="0.44" fill="rgb(104,104,104)"/><circle cx="110.8" cy="319.4" r="0.43" fill="rgb(83,83,83)"/><circle cx="90.9" cy="299.9" r="0.46" fill="rgb(102,102,102)"/><circle cx="118.3" cy="315.8" r="0.52" fill="rgb(104,104,104)"/><circle cx="84.0" cy="319.7" r="0.52" fill="rgb(56,56,56)"/><circle cx="87.6" cy="303.2" r="0.59" fill="rgb(54,54,54)"/><circle cx="109.4" cy="314.2" r="0.47" fill="rgb(86,86,86)"/><circle cx="105.8" cy="322.1" r="0.40" fill="rgb(114,114,114)"/><circle cx="95.0" cy="314.8" r="0.51" fill="rgb(89,89,89)"/><circle cx="100.7" cy="303.1" r="0.50" fill="rgb(75,75,75)"/><circle cx="118.3" cy="309.7" r="0.32" fill="rgb(65,65,65)"/><circle cx="94.4" cy="325.3" r="0.54" fill="rgb(69,69,69)"/><circle cx="100.9" cy="319.6" r="0.53" fill="rgb(92,92,92)"/><circle cx="104.4" cy="323.6" r="0.31" fill="rgb(68,68,68)"/><circle cx="99.4" cy="308.5" r="0.49" fill="rgb(92,92,92)"/><circle cx="97.2" cy="311.8" r="0.45" fill="rgb(52,52,52)"/><circle cx="98.7" cy="312.7" r="0.53" fill="rgb(50,50,50)"/><circle cx="93.6" cy="327.6" r="0.38" fill="rgb(63,63,63)"/><circle cx="108.3" cy="307.3" r="0.45" fill="rgb(78,78,78)"/><circle cx="98.5" cy="301.7" r="0.37" fill="rgb(95,95,95)"/><circle cx="100.0" cy="310.0" r="0.32" fill="rgb(63,63,63)"/><circle cx="114.9" cy="322.8" r="0.53" fill="rgb(82,82,82)"/><circle cx="109.6" cy="311.3" r="0.59" fill="rgb(103,103,103)"/><circle cx="99.2" cy="317.7" r="0.46" fill="rgb(82,82,82)"/><circle cx="95.5" cy="298.8" r="0.35" fill="rgb(71,71,71)"/><circle cx="93.9" cy="324.0" r="0.39" fill="rgb(62,62,62)"/><circle cx="110.3" cy="304.5" r="1.1" fill="rgb(61,61,61)"/><circle cx="89.5" cy="311.5" r="0.9" fill="rgb(65,65,65)"/><circle cx="84.2" cy="304.8" r="1.1" fill="rgb(56,56,56)"/><circle cx="86.5" cy="319.0" r="1.1" fill="rgb(46,46,46)"/><circle cx="110.7" cy="323.1" r="1.1" fill="rgb(27,27,27)"/><circle cx="90.3" cy="321.0" r="0.9" fill="rgb(59,59,59)"/><circle cx="105.7" cy="302.7" r="0.7" fill="rgb(33,33,33)"/><circle cx="94.4" cy="311.2" r="1.3" fill="rgb(70,70,70)"/><circle cx="94.5" cy="298.4" r="0.7" fill="rgb(79,79,79)"/><circle cx="111.1" cy="326.5" r="0.9" fill="rgb(74,74,74)"/><circle cx="113.0" cy="305.8" r="1.3" fill="rgb(36,36,36)"/><circle cx="111.0" cy="303.1" r="0.7" fill="rgb(34,34,34)"/><circle cx="85.1" cy="307.4" r="1.1" fill="rgb(33,33,33)"/><circle cx="100.6" cy="294.9" r="0.9" fill="rgb(79,79,79)"/><circle cx="108.0" cy="308.2" r="1.5" fill="rgb(41,41,41)"/><circle cx="97.4" cy="310.0" r="0.7" fill="rgb(67,67,67)"/><circle cx="96.9" cy="321.8" r="1.5" fill="rgb(51,51,51)"/><circle cx="118.8" cy="314.7" r="1.5" fill="rgb(40,40,40)"/><circle cx="109.7" cy="305.4" r="0.7" fill="rgb(47,47,47)"/><circle cx="108.0" cy="301.9" r="0.7" fill="rgb(59,59,59)"/><circle cx="106.9" cy="297.9" r="1.3" fill="rgb(41,41,41)"/><circle cx="84.6" cy="309.2" r="0.9" fill="rgb(58,58,58)"/><circle cx="109.0" cy="300.9" r="0.7" fill="rgb(51,51,51)"/><circle cx="87.9" cy="322.5" r="1.1" fill="rgb(55,55,55)"/><circle cx="104.8" cy="321.7" r="1.3" fill="rgb(32,32,32)"/><circle cx="111.2" cy="323.9" r="1.3" fill="rgb(63,63,63)"/><circle cx="98.8" cy="331.2" r="0.9" fill="rgb(79,79,79)"/><circle cx="85.8" cy="314.8" r="0.9" fill="rgb(47,47,47)"/><circle cx="83.7" cy="306.7" r="1.1" fill="rgb(58,58,58)"/><circle cx="104.1" cy="295.9" r="1.3" fill="rgb(27,27,27)"/><circle cx="84.1" cy="318.6" r="1.3" fill="rgb(32,32,32)"/><circle cx="111.5" cy="297.2" r="1.1" fill="rgb(45,45,45)"/><circle cx="104.1" cy="300.7" r="0.9" fill="rgb(66,66,66)"/><circle cx="104.3" cy="294.5" r="0.7" fill="rgb(68,68,68)"/><circle cx="107.8" cy="313.6" r="1.1" fill="rgb(79,79,79)"/><circle cx="89.2" cy="316.0" r="0.7" fill="rgb(78,78,78)"/><circle cx="102.7" cy="330.4" r="0.9" fill="rgb(64,64,64)"/><circle cx="104.7" cy="317.0" r="1.3" fill="rgb(30,30,30)"/><circle cx="104.4" cy="318.2" r="0.9" fill="rgb(65,65,65)"/><circle cx="86.2" cy="308.7" r="1.5" fill="rgb(51,51,51)"/><circle cx="108.6" cy="317.1" r="1.3" fill="rgb(56,56,56)"/><circle cx="98.4" cy="301.1" r="0.7" fill="rgb(77,77,77)"/><circle cx="95.4" cy="303.4" r="1.3" fill="rgb(51,51,51)"/><circle cx="90.8" cy="311.8" r="1.3" fill="rgb(37,37,37)"/><circle cx="99.7" cy="300.8" r="1.5" fill="rgb(50,50,50)"/><circle cx="108.0" cy="318.9" r="1.5" fill="rgb(64,64,64)"/><circle cx="114.6" cy="308.3" r="1.1" fill="rgb(78,78,78)"/><circle cx="112.3" cy="309.7" r="1.1" fill="rgb(28,28,28)"/><circle cx="90.7" cy="320.5" r="1.3" fill="rgb(60,60,60)"/><circle cx="106.0" cy="326.8" r="1.5" fill="rgb(71,71,71)"/><circle cx="99.0" cy="294.6" r="1.5" fill="rgb(34,34,34)"/><circle cx="117.1" cy="318.7" r="1.1" fill="rgb(32,32,32)"/><circle cx="110.6" cy="325.2" r="1.1" fill="rgb(48,48,48)"/><circle cx="102.0" cy="308.3" r="0.7" fill="rgb(67,67,67)"/><circle cx="97.2" cy="302.0" r="1.1" fill="rgb(61,61,61)"/><circle cx="85.9" cy="309.9" r="1.5" fill="rgb(68,68,68)"/><circle cx="88.9" cy="325.3" r="0.7" fill="rgb(25,25,25)"/><circle cx="104.8" cy="326.7" r="0.9" fill="rgb(37,37,37)"/><circle cx="106.6" cy="327.4" r="1.1" fill="rgb(45,45,45)"/><circle cx="93.5" cy="316.1" r="0.7" fill="rgb(49,49,49)"/><circle cx="88.8" cy="322.8" r="1.3" fill="rgb(59,59,59)"/><circle cx="88.2" cy="313.6" r="0.7" fill="rgb(68,68,68)"/><circle cx="104.2" cy="301.3" r="0.7" fill="rgb(79,79,79)"/><circle cx="92.6" cy="308.4" r="0.9" fill="rgb(67,67,67)"/><circle cx="110.3" cy="313.8" r="1.5" fill="rgb(67,67,67)"/></g></g><circle cx="101.2" cy="312.6" r="19.8" fill="url(#well)"/><circle cx="141.6" cy="312.6" r="19.8" fill="#bfbfbf"/><clipPath id="c21"><circle cx="141.6" cy="312.6" r="19.5"/></clipPath><g clip-path="url(#c21)"><g filter="url(#blur2)"><circle cx="157.7" cy="318.3" r="2.8" fill="#000" fill-opacity="0.1"/><circle cx="139.4" cy="297.1" r="3.9" fill="#fff" fill-opacity="0.28"/><circle cx="124.0" cy="312.3" r="3.4" fill="#000" fill-opacity="0.1"/><circle cx="151.7" cy="319.0" r="3.1" fill="#000" fill-opacity="0.1"/><circle cx="146.7" cy="320.1" r="4.3" fill="#000" fill-opacity="0.1"/><circle cx="149.2" cy="320.3" r="2.8" fill="#fff" fill-opacity="0.28"/><circle cx="147.2" cy="303.6" r="3.5" fill="#000" fill-opacity="0.1"/><circle cx="145.0" cy="314.2" r="4.1" fill="#000" fill-opacity="0.1"/><circle cx="133.3" cy="313.0" r="3.8" fill="#fff" fill-opacity="0.28"/><circle cx="144.8" cy="327.3" r="2.9" fill="#000" fill-opacity="0.1"/><circle cx="154.4" cy="306.7" r="4.9" fill="#000" fill-opacity="0.1"/><circle cx="156.6" cy="319.0" r="4.1" fill="#fff" fill-opacity="0.28"/><circle cx="151.9" cy="304.0" r="4.2" fill="#000" fill-opacity="0.1"/><circle cx="146.5" cy="324.5" r="3.7" fill="#fff" fill-opacity="0.28"/></g><g filter="url(#blur1)"><circle cx="142.2" cy="305.1" r="0.45" fill="rgb(88,88,88)"/><circle cx="128.0" cy="324.6" r="0.54" fill="rgb(74,74,74)"/><circle cx="153.5" cy="318.2" r="0.55" fill="rgb(57,57,57)"/><circle cx="136.9" cy="304.8" r="0.34" fill="rgb(76,76,76)"/><circle cx="155.6" cy="300.2" r="0.48" fill="rgb(112,112,112)"/><circle cx="140.4" cy="325.9" r="0.43" fill="rgb(96,96,96)"/><circle cx="155.0" cy="317.7" r="0.37" fill="rgb(56,56,56)"/><circle cx="147.9" cy="298.4" r="0.50" fill="rgb(105,105,105)"/><circle cx="136.2" cy="304.4" r="0.34" fill="rgb(99,99,99)"/><circle cx="153.1" cy="313.9" r="0.51" fill="rgb(60,60,60)"/><circle cx="140.8" cy="316.2" r="0.58" fill="rgb(104,104,104)"/><circle cx="136.9" cy="293.8" r="0.58" fill="rgb(104,104,104)"/><circle cx="133.4" cy="297.1" r="0.34" fill="rgb(105,105,105)"/><circle cx="135.0" cy="326.7" r="0.56" fill="rgb(72,72,72)"/><circle cx="148.3" cy="315.0" r="0.40" fill="rgb(72,72,72)"/><circle cx="142.8" cy="310.5" r="0.59" fill="rgb(107,107,107)"/><circle cx="160.0" cy="318.5" r="0.34" fill="rgb(96,96,96)"/><circle cx="144.9" cy="306.6" r="0.37" fill="rgb(76,76,76)"/><circle cx="136.0" cy="317.6" r="0.47" fill="rgb(76,76,76)"/><circle cx="127.7" cy="315.8" r="0.56" fill="rgb(112,112,112)"/><circle cx="154.5" cy="323.7" r="0.57" fill="rgb(105,105,105)"/><circle cx="126.7" cy="324.5" r="0.44" fill="rgb(88,88,88)"/><circle cx="128.9" cy="311.9" r="0.46" fill="rgb(98,98,98)"/><circle cx="151.4" cy="303.2" r="0.35" fill="rgb(53,53,53)"/><circle cx="130.0" cy="319.7" r="0.48" fill="rgb(106,106,106)"/><circle cx="146.9" cy="322.1" r="0.54" fill="rgb(87,87,87)"/><circle cx="137.5" cy="297.3" r="0.47" fill="rgb(67,67,67)"/><circle cx="141.7" cy="317.7" r="0.50" fill="rgb(103,103,103)"/><circle cx="158.7" cy="311.3" r="0.31" fill="rgb(67,67,67)"/><circle cx="131.1" cy="317.5" r="0.41" fill="rgb(86,86,86)"/><circle cx="146.5" cy="314.1" r="0.48" fill="rgb(75,75,75)"/><circle cx="145.4" cy="320.1" r="0.52" fill="rgb(66,66,66)"/><circle cx="142.8" cy="298.8" r="0.58" fill="rgb(53,53,53)"/><circle cx="149.0" cy="304.6" r="0.45" fill="rgb(50,50,50)"/><circle cx="147.6" cy="323.2" r="0.39" fill="rgb(77,77,77)"/><circle cx="152.2" cy="306.2" r="0.47" fill="rgb(57,57,57)"/><circle cx="148.9" cy="306.4" r="0.41" fill="rgb(85,85,85)"/><circle cx="136.6" cy="302.7" r="0.59" fill="rgb(67,67,67)"/><circle cx="149.0" cy="297.7" r="0.58" fill="rgb(95,95,95)"/><circle cx="153.9" cy="317.2" r="0.34" fill="rgb(93,93,93)"/><circle cx="158.0" cy="312.1" r="0.59" fill="rgb(103,103,103)"/><circle cx="124.9" cy="303.7" r="0.58" fill="rgb(76,76,76)"/><circle cx="124.2" cy="311.8" r="0.44" fill="rgb(69,69,69)"/><circle cx="128.3" cy="307.7" r="0.44" fill="rgb(114,114,114)"/><circle cx="146.3" cy="308.0" r="0.35" fill="rgb(64,64,64)"/><circle cx="147.8" cy="326.4" r="0.50" fill="rgb(57,57,57)"/><circle cx="154.8" cy="298.9" r="0.37" fill="rgb(53,53,53)"/><circle cx="139.4" cy="313.5" r="0.44" fill="rgb(97,97,97)"/><circle cx="134.6" cy="316.1" r="0.57" fill="rgb(54,54,54)"/><circle cx="132.1" cy="305.8" r="0.34" fill="rgb(111,111,111)"/><circle cx="137.3" cy="315.8" r="0.56" fill="rgb(105,105,105)"/><circle cx="137.7" cy="330.1" r="0.37" fill="rgb(116,116,116)"/><circle cx="152.8" cy="310.2" r="0.46" fill="rgb(99,99,99)"/><circle cx="132.6" cy="325.1" r="0.45" fill="rgb(50,50,50)"/><circle cx="125.8" cy="312.7" r="0.56" fill="rgb(103,103,103)"/><circle cx="147.5" cy="295.1" r="0.33" fill="rgb(76,76,76)"/><circle cx="139.1" cy="309.2" r="0.44" fill="rgb(116,116,116)"/><circle cx="141.5" cy="316.1" r="0.55" fill="rgb(109,109,109)"/><circle cx="153.2" cy="325.6" r="0.51" fill="rgb(56,56,56)"/><circle cx="126.1" cy="309.3" r="0.54" fill="rgb(59,59,59)"/><circle cx="145.8" cy="294.9" r="0.38" fill="rgb(78,78,78)"/><circle cx="125.9" cy="307.5" r="0.43" fill="rgb(103,103,103)"/><circle cx="129.3" cy="302.5" r="0.52" fill="rgb(91,91,91)"/><circle cx="138.1" cy="321.5" r="0.54" fill="rgb(70,70,70)"/><circle cx="152.5" cy="310.4" r="0.47" fill="rgb(95,95,95)"/><circle cx="143.4" cy="310.9" r="0.56" fill="rgb(93,93,93)"/><circle cx="154.1" cy="309.8" r="0.55" fill="rgb(83,83,83)"/><circle cx="150.4" cy="308.8" r="0.34" fill="rgb(112,112,112)"/><circle cx="145.0" cy="313.7" r="0.33" fill="rgb(55,55,55)"/><circle cx="142.6" cy="323.2" r="0.54" fill="rgb(117,117,117)"/><circle cx="148.5" cy="317.9" r="0.48" fill="rgb(98,98,98)"/><circle cx="129.4" cy="316.9" r="0.45" fill="rgb(102,102,102)"/><circle cx="141.2" cy="310.5" r="0.36" fill="rgb(57,57,57)"/><circle cx="129.0" cy="304.3" r="0.57" fill="rgb(110,110,110)"/><circle cx="145.7" cy="302.0" r="0.57" fill="rgb(54,54,54)"/><circle cx="144.4" cy="311.3" r="0.35" fill="rgb(50,50,50)"/><circle cx="130.9" cy="325.4" r="0.50" fill="rgb(81,81,81)"/><circle cx="144.8" cy="304.9" r="0.59" fill="rgb(71,71,71)"/><circle cx="128.2" cy="309.1" r="0.46" fill="rgb(88,88,88)"/><circle cx="138.7" cy="294.4" r="0.49" fill="rgb(93,93,93)"/><circle cx="133.1" cy="308.0" r="0.36" fill="rgb(103,103,103)"/><circle cx="141.1" cy="324.1" r="0.55" fill="rgb(86,86,86)"/><circle cx="132.1" cy="324.7" r="0.43" fill="rgb(80,80,80)"/><circle cx="157.2" cy="309.3" r="0.56" fill="rgb(51,51,51)"/><circle cx="122.2" cy="312.5" r="0.59" fill="rgb(58,58,58)"/><circle cx="132.9" cy="299.7" r="0.59" fill="rgb(84,84,84)"/><circle cx="149.0" cy="300.3" r="0.42" fill="rgb(76,76,76)"/><circle cx="133.3" cy="313.8" r="0.50" fill="rgb(66,66,66)"/><circle cx="144.1" cy="293.9" r="0.39" fill="rgb(61,61,61)"/><circle cx="147.8" cy="327.0" r="0.40" fill="rgb(71,71,71)"/><circle cx="157.5" cy="319.8" r="0.34" fill="rgb(115,115,115)"/><circle cx="124.1" cy="313.7" r="0.41" fill="rgb(110,110,110)"/><circle cx="157.7" cy="319.0" r="0.42" fill="rgb(99,99,99)"/><circle cx="158.3" cy="310.8" r="0.48" fill="rgb(89,89,89)"/><circle cx="158.6" cy="321.9" r="0.35" fill="rgb(119,119,119)"/><circle cx="143.4" cy="297.6" r="0.48" fill="rgb(77,77,77)"/><circle cx="150.1" cy="320.7" r="0.50" fill="rgb(73,73,73)"/><circle cx="138.4" cy="312.0" r="0.42" fill="rgb(70,70,70)"/><circle cx="130.1" cy="325.9" r="0.59" fill="rgb(108,108,108)"/><circle cx="154.5" cy="307.6" r="0.48" fill="rgb(89,89,89)"/><circle cx="137.7" cy="312.4" r="0.54" fill="rgb(57,57,57)"/><circle cx="141.8" cy="301.6" r="0.47" fill="rgb(63,63,63)"/><circle cx="144.3" cy="308.8" r="0.37" fill="rgb(95,95,95)"/><circle cx="141.1" cy="325.7" r="0.52" fill="rgb(61,61,61)"/><circle cx="153.1" cy="320.5" r="0.55" fill="rgb(96,96,96)"/><circle cx="134.9" cy="310.3" r="0.58" fill="rgb(106,106,106)"/><circle cx="160.2" cy="316.2" r="0.48" fill="rgb(93,93,93)"/><circle cx="135.5" cy="317.8" r="0.57" fill="rgb(92,92,92)"/><circle cx="156.2" cy="314.8" r="0.58" fill="rgb(94,94,94)"/><circle cx="153.6" cy="313.7" r="0.39" fill="rgb(58,58,58)"/><circle cx="148.6" cy="308.0" r="0.55" fill="rgb(75,75,75)"/><circle cx="141.5" cy="293.6" r="0.32" fill="rgb(58,58,58)"/><circle cx="144.0" cy="326.3" r="0.34" fill="rgb(97,97,97)"/><circle cx="135.1" cy="305.9" r="0.47" fill="rgb(117,117,117)"/><circle cx="153.1" cy="326.5" r="0.53" fill="rgb(84,84,84)"/><circle cx="123.6" cy="307.7" r="0.59" fill="rgb(69,69,69)"/><circle cx="153.7" cy="314.0" r="0.60" fill="rgb(61,61,61)"/><circle cx="152.2" cy="313.9" r="0.32" fill="rgb(77,77,77)"/><circle cx="156.7" cy="304.1" r="0.42" fill="rgb(87,87,87)"/><circle cx="144.4" cy="320.1" r="0.48" fill="rgb(78,78,78)"/><circle cx="147.5" cy="304.8" r="0.50" fill="rgb(110,110,110)"/><circle cx="143.5" cy="315.6" r="0.59" fill="rgb(51,51,51)"/><circle cx="141.7" cy="317.7" r="0.38" fill="rgb(96,96,96)"/><circle cx="156.7" cy="307.0" r="0.50" fill="rgb(112,112,112)"/><circle cx="140.1" cy="299.2" r="0.53" fill="rgb(79,79,79)"/><circle cx="143.7" cy="317.2" r="0.42" fill="rgb(113,113,113)"/><circle cx="130.0" cy="308.1" r="0.53" fill="rgb(102,102,102)"/><circle cx="148.7" cy="328.5" r="0.47" fill="rgb(72,72,72)"/><circle cx="123.5" cy="314.5" r="0.55" fill="rgb(79,79,79)"/><circle cx="155.6" cy="307.2" r="0.57" fill="rgb(107,107,107)"/><circle cx="143.4" cy="325.8" r="0.53" fill="rgb(113,113,113)"/><circle cx="150.4" cy="300.0" r="0.54" fill="rgb(76,76,76)"/><circle cx="133.1" cy="325.1" r="0.42" fill="rgb(64,64,64)"/><circle cx="135.3" cy="314.7" r="0.57" fill="rgb(57,57,57)"/><circle cx="149.5" cy="311.9" r="0.50" fill="rgb(75,75,75)"/><circle cx="144.8" cy="316.6" r="0.38" fill="rgb(113,113,113)"/><circle cx="155.3" cy="308.7" r="0.46" fill="rgb(91,91,91)"/><circle cx="131.4" cy="312.1" r="0.43" fill="rgb(93,93,93)"/><circle cx="147.8" cy="303.9" r="0.56" fill="rgb(63,63,63)"/><circle cx="132.4" cy="310.5" r="0.39" fill="rgb(104,104,104)"/><circle cx="138.5" cy="296.9" r="0.49" fill="rgb(70,70,70)"/><circle cx="138.2" cy="312.8" r="0.38" fill="rgb(118,118,118)"/><circle cx="127.7" cy="325.0" r="0.35" fill="rgb(98,98,98)"/><circle cx="139.8" cy="310.3" r="0.48" fill="rgb(102,102,102)"/><circle cx="133.8" cy="299.9" r="0.50" fill="rgb(74,74,74)"/><circle cx="125.0" cy="316.9" r="0.38" fill="rgb(52,52,52)"/><circle cx="149.5" cy="324.4" r="0.37" fill="rgb(93,93,93)"/><circle cx="153.0" cy="308.6" r="0.52" fill="rgb(50,50,50)"/><circle cx="143.4" cy="314.1" r="0.44" fill="rgb(70,70,70)"/><circle cx="142.3" cy="324.0" r="0.41" fill="rgb(59,59,59)"/><circle cx="144.8" cy="302.0" r="0.36" fill="rgb(90,90,90)"/><circle cx="149.5" cy="320.5" r="0.44" fill="rgb(52,52,52)"/><circle cx="138.0" cy="300.2" r="0.40" fill="rgb(65,65,65)"/><circle cx="145.7" cy="303.8" r="0.51" fill="rgb(73,73,73)"/><circle cx="141.7" cy="331.7" r="0.31" fill="rgb(62,62,62)"/><circle cx="128.6" cy="319.1" r="0.40" fill="rgb(89,89,89)"/><circle cx="145.1" cy="294.7" r="0.55" fill="rgb(84,84,84)"/><circle cx="144.4" cy="304.7" r="0.34" fill="rgb(59,59,59)"/><circle cx="156.6" cy="321.6" r="0.34" fill="rgb(76,76,76)"/><circle cx="131.3" cy="309.3" r="0.42" fill="rgb(53,53,53)"/><circle cx="149.3" cy="297.8" r="0.44" fill="rgb(118,118,118)"/><circle cx="153.5" cy="309.8" r="0.52" fill="rgb(84,84,84)"/><circle cx="133.8" cy="314.7" r="0.57" fill="rgb(99,99,99)"/><circle cx="133.7" cy="322.6" r="0.51" fill="rgb(71,71,71)"/><circle cx="132.1" cy="313.1" r="0.30" fill="rgb(112,112,112)"/><circle cx="151.0" cy="296.7" r="0.31" fill="rgb(56,56,56)"/><circle cx="132.5" cy="300.5" r="0.43" fill="rgb(62,62,62)"/><circle cx="152.1" cy="319.8" r="0.57" fill="rgb(86,86,86)"/><circle cx="136.0" cy="318.2" r="0.49" fill="rgb(116,116,116)"/><circle cx="144.8" cy="316.2" r="0.37" fill="rgb(76,76,76)"/><circle cx="147.5" cy="298.3" r="0.9" fill="rgb(68,68,68)"/><circle cx="127.6" cy="323.1" r="0.9" fill="rgb(33,33,33)"/><circle cx="135.2" cy="322.8" r="0.7" fill="rgb(31,31,31)"/><circle cx="134.4" cy="303.2" r="1.1" fill="rgb(79,79,79)"/><circle cx="136.1" cy="316.5" r="0.7" fill="rgb(27,27,27)"/><circle cx="142.8" cy="299.9" r="0.7" fill="rgb(41,41,41)"/><circle cx="125.3" cy="317.7" r="0.9" fill="rgb(34,34,34)"/><circle cx="145.0" cy="299.6" r="0.7" fill="rgb(27,27,27)"/><circle cx="135.3" cy="307.6" r="0.9" fill="rgb(46,46,46)"/><circle cx="129.9" cy="320.3" r="1.3" fill="rgb(34,34,34)"/><circle cx="142.6" cy="294.0" r="0.9" fill="rgb(73,73,73)"/><circle cx="127.2" cy="307.7" r="0.9" fill="rgb(43,43,43)"/><circle cx="153.5" cy="301.2" r="0.7" fill="rgb(62,62,62)"/><circle cx="137.9" cy="325.5" r="1.1" fill="rgb(49,49,49)"/><circle cx="131.0" cy="310.8" r="1.1" fill="rgb(50,50,50)"/><circle cx="154.3" cy="322.3" r="0.9" fill="rgb(70,70,70)"/><circle cx="126.6" cy="312.5" r="1.3" fill="rgb(61,61,61)"/><circle cx="152.4" cy="312.0" r="0.9" fill="rgb(78,78,78)"/><circle cx="136.1" cy="299.4" r="0.7" fill="rgb(76,76,76)"/><circle cx="151.2" cy="313.0" r="0.7" fill="rgb(48,48,48)"/><circle cx="150.5" cy="309.9" r="1.1" fill="rgb(65,65,65)"/><circle cx="138.4" cy="330.1" r="1.3" fill="rgb(76,76,76)"/><circle cx="153.5" cy="327.0" r="1.3" fill="rgb(51,51,51)"/><circle cx="151.9" cy="313.5" r="0.9" fill="rgb(29,29,29)"/><circle cx="136.9" cy="303.7" r="1.3" fill="rgb(29,29,29)"/><circle cx="134.6" cy="316.6" r="0.7" fill="rgb(68,68,68)"/><circle cx="129.8" cy="307.9" r="0.9" fill="rgb(72,72,72)"/><circle cx="152.7" cy="299.5" r="0.9" fill="rgb(48,48,48)"/><circle cx="154.8" cy="311.5" r="1.1" fill="rgb(51,51,51)"/><circle cx="124.5" cy="317.8" r="0.9" fill="rgb(41,41,41)"/><circle cx="129.8" cy="298.2" r="1.1" fill="rgb(27,27,27)"/><circle cx="134.9" cy="296.1" r="0.9" fill="rgb(41,41,41)"/><circle cx="155.3" cy="304.8" r="1.1" fill="rgb(64,64,64)"/><circle cx="138.8" cy="302.1" r="0.7" fill="rgb(58,58,58)"/><circle cx="147.7" cy="297.3" r="0.7" fill="rgb(43,43,43)"/><circle cx="138.9" cy="298.8" r="1.3" fill="rgb(34,34,34)"/><circle cx="135.0" cy="306.3" r="1.3" fill="rgb(51,51,51)"/><circle cx="130.7" cy="300.3" r="0.9" fill="rgb(38,38,38)"/><circle cx="146.9" cy="318.3" r="1.1" fill="rgb(55,55,55)"/><circle cx="145.5" cy="302.4" r="0.9" fill="rgb(64,64,64)"/><circle cx="150.5" cy="318.0" r="1.1" fill="rgb(57,57,57)"/><circle cx="141.1" cy="327.1" r="1.1" fill="rgb(54,54,54)"/><circle cx="129.4" cy="322.7" r="0.7" fill="rgb(33,33,33)"/><circle cx="153.6" cy="309.9" r="1.1" fill="rgb(48,48,48)"/><circle cx="135.1" cy="300.0" r="0.9" fill="rgb(60,60,60)"/><circle cx="141.6" cy="306.4" r="0.7" fill="rgb(34,34,34)"/><circle cx="137.2" cy="315.1" r="0.7" fill="rgb(25,25,25)"/><circle cx="124.5" cy="312.1" r="1.3" fill="rgb(44,44,44)"/><circle cx="153.3" cy="306.5" r="0.9" fill="rgb(75,75,75)"/><circle cx="158.8" cy="308.8" r="0.9" fill="rgb(74,74,74)"/><circle cx="134.9" cy="311.6" r="1.1" fill="rgb(72,72,72)"/><circle cx="132.4" cy="320.7" r="1.1" fill="rgb(74,74,74)"/><circle cx="145.8" cy="296.1" r="1.1" fill="rgb(43,43,43)"/><circle cx="144.3" cy="323.8" r="0.7" fill="rgb(40,40,40)"/><circle cx="147.1" cy="317.5" r="0.9" fill="rgb(46,46,46)"/><circle cx="158.1" cy="304.4" r="0.9" fill="rgb(57,57,57)"/><circle cx="134.1" cy="299.7" r="0.7" fill="rgb(40,40,40)"/><circle cx="139.4" cy="328.0" r="0.7" fill="rgb(33,33,33)"/><circle cx="148.2" cy="329.5" r="1.3" fill="rgb(42,42,42)"/><circle cx="147.1" cy="296.3" r="0.7" fill="rgb(58,58,58)"/><circle cx="139.1" cy="322.0" r="1.3" fill="rgb(62,62,62)"/><circle cx="129.5" cy="305.6" r="0.9" fill="rgb(63,63,63)"/><circle cx="131.8" cy="304.6" r="0.7" fill="rgb(53,53,53)"/><circle cx="153.1" cy="323.4" r="1.1" fill="rgb(41,41,41)"/><circle cx="133.0" cy="317.6" r="0.7" fill="rgb(44,44,44)"/><circle cx="147.4" cy="316.0" r="1.3" fill="rgb(55,55,55)"/><circle cx="145.9" cy="295.5" r="0.7" fill="rgb(35,35,35)"/><circle cx="141.0" cy="313.7" r="1.3" fill="rgb(59,59,59)"/><circle cx="137.2" cy="305.1" r="1.1" fill="rgb(64,64,64)"/><circle cx="149.0" cy="307.4" r="0.7" fill="rgb(28,28,28)"/><circle cx="139.8" cy="314.3" r="0.7" fill="rgb(72,72,72)"/><circle cx="139.2" cy="319.5" r="1.1" fill="rgb(55,55,55)"/><circle cx="133.2" cy="318.3" r="0.9" fill="rgb(40,40,40)"/><circle cx="142.1" cy="324.2" r="1.1" fill="rgb(48,48,48)"/><circle cx="156.1" cy="304.6" r="1.3" fill="rgb(66,66,66)"/></g></g><circle cx="141.6" cy="312.6" r="19.8" fill="url(#well)"/><circle cx="101.2" cy="354.4" r="19.8" fill="#c8c8c8"/><clipPath id="c30"><circle cx="101.2" cy="354.4" r="19.5"/></clipPath><g clip-path="url(#c30)"><g filter="url(#blur2)"><circle cx="94.9" cy="343.3" r="2.5" fill="#000" fill-opacity="0.1"/><circle cx="82.6" cy="353.8" r="3.5" fill="#000" fill-opacity="0.1"/><circle cx="107.9" cy="359.8" r="5.0" fill="#fff" fill-opacity="0.28"/><circle cx="90.7" cy="351.1" r="4.0" fill="#000" fill-opacity="0.1"/><circle cx="96.8" cy="369.8" r="3.8" fill="#fff" fill-opacity="0.28"/><circle cx="96.1" cy="353.5" r="2.6" fill="#000" fill-opacity="0.1"/><circle cx="107.1" cy="370.4" r="4.3" fill="#fff" fill-opacity="0.28"/><circle cx="88.1" cy="351.1" r="2.6" fill="#000" fill-opacity="0.1"/><circle cx="120.4" cy="354.8" r="3.0" fill="#000" fill-opacity="0.1"/><circle cx="94.5" cy="336.5" r="4.1" fill="#000" fill-opacity="0.1"/><circle cx="85.8" cy="352.0" r="3.6" fill="#fff" fill-opacity="0.28"/><circle cx="109.7" cy="346.0" r="3.8" fill="#fff" fill-opacity="0.28"/><circle cx="108.3" cy="337.2" r="4.9" fill="#000" fill-opacity="0.1"/><circle cx="111.6" cy="362.8" r="4.2" fill="#000" fill-opacity="0.1"/><circle cx="107.2" cy="348.4" r="8" fill="#fff" fill-opacity="0.3"/></g><g filter="url(#blur1)"><circle cx="110.3" cy="362.1" r="0.48" fill="rgb(76,76,76)"/><circle cx="93.6" cy="362.5" r="0.50" fill="rgb(63,63,63)"/><circle cx="98.0" cy="362.8" r="0.42" fill="rgb(113,113,113)"/><circle cx="99.9" cy="360.2" r="0.40" fill="rgb(86,86,86)"/><circle cx="91.7" cy="348.8" r="0.34" fill="rgb(82,82,82)"/><circle cx="118.9" cy="361.7" r="0.43" fill="rgb(101,101,101)"/><circle cx="106.3" cy="369.7" r="0.49" fill="rgb(92,92,92)"/><circle cx="112.8" cy="352.8" r="0.43" fill="rgb(114,114,114)"/><circle cx="120.5" cy="351.4" r="0.45" fill="rgb(79,79,79)"/><circle cx="116.0" cy="342.9" r="0.45" fill="rgb(56,56,56)"/><circle cx="116.1" cy="364.9" r="0.40" fill="rgb(68,68,68)"/><circle cx="94.1" cy="369.6" r="0.43" fill="rgb(72,72,72)"/><circle cx="110.4" cy="345.0" r="0.58" fill="rgb(114,114,114)"/><circle cx="92.1" cy="357.1" r="0.47" fill="rgb(115,115,115)"/><circle cx="98.2" cy="358.2" r="0.31" fill="rgb(82,82,82)"/><circle cx="92.5" cy="345.5" r="0.37" fill="rgb(70,70,70)"/><circle cx="102.0" cy="335.6" r="0.46" fill="rgb(50,50,50)"/><circle cx="104.5" cy="356.2" r="0.39" fill="rgb(118,118,118)"/><circle cx="82.8" cy="350.4" r="0.40" fill="rgb(94,94,94)"/><circle cx="96.0" cy="337.7" r="0.42" fill="rgb(95,95,95)"/><circle cx="101.6" cy="342.3" r="0.38" fill="rgb(75,75,75)"/><circle cx="108.0" cy="353.3" r="0.39" fill="rgb(53,53,53)"/><circle cx="109.8" cy="362.8" r="0.58" fill="rgb(115,115,115)"/><circle cx="102.7" cy="365.1" r="0.58" fill="rgb(78,78,78)"/><circle cx="99.6" cy="371.6" r="0.56" fill="rgb(94,94,94)"/><circle cx="98.0" cy="373.2" r="0.42" fill="rgb(119,119,119)"/><circle cx="116.8" cy="347.7" r="0.43" fill="rgb(65,65,65)"/><circle cx="101.1" cy="373.2" r="0.56" fill="rgb(66,66,66)"/><circle cx="98.0" cy="372.8" r="0.52" fill="rgb(105,105,105)"/><circle cx="99.2" cy="371.0" r="0.40" fill="rgb(93,93,93)"/><circle cx="120.5" cy="352.7" r="0.57" fill="rgb(95,95,95)"/><circle cx="97.1" cy="361.4" r="0.47" fill="rgb(73,73,73)"/><circle cx="116.0" cy="343.9" r="0.55" fill="rgb(66,66,66)"/><circle cx="112.5" cy="344.4" r="0.44" fill="rgb(84,84,84)"/><circle cx="104.5" cy="363.9" r="0.45" fill="rgb(85,85,85)"/><circle cx="88.2" cy="351.8" r="0.35" fill="rgb(109,109,109)"/><circle cx="109.6" cy="371.6" r="0.49" fill="rgb(90,90,90)"/><circle cx="88.4" cy="356.7" r="0.46" fill="rgb(74,74,74)"/><circle cx="103.1" cy="350.7" r="0.36" fill="rgb(115,115,115)"/><circle cx="83.2" cy="355.6" r="0.50" fill="rgb(59,59,59)"/><circle cx="89.6" cy="345.3" r="0.34" fill="rgb(108,108,108)"/><circle cx="104.7" cy="373.0" r="0.34" fill="rgb(116,116,116)"/><circle cx="98.2" cy="349.0" r="0.58" fill="rgb(115,115,115)"/><circle cx="96.2" cy="341.6" r="0.47" fill="rgb(95,95,95)"/><circle cx="109.4" cy="338.3" r="0.55" fill="rgb(110,110,110)"/><circle cx="102.8" cy="363.2" r="0.47" fill="rgb(98,98,98)"/><circle cx="105.8" cy="353.5" r="0.56" fill="rgb(78,78,78)"/><circle cx="94.3" cy="356.7" r="0.59" fill="rgb(72,72,72)"/><circle cx="103.6" cy="336.4" r="0.54" fill="rgb(68,68,68)"/><circle cx="110.5" cy="354.7" r="0.50" fill="rgb(93,93,93)"/><circle cx="82.6" cy="359.7" r="0.38" fill="rgb(75,75,75)"/><circle cx="106.1" cy="370.8" r="0.55" fill="rgb(107,107,107)"/><circle cx="98.5" cy="351.8" r="0.35" fill="rgb(79,79,79)"/><circle cx="100.5" cy="357.6" r="0.38" fill="rgb(98,98,98)"/><circle cx="83.3" cy="346.9" r="0.39" fill="rgb(66,66,66)"/><circle cx="101.0" cy="359.5" r="0.47" fill="rgb(89,89,89)"/><circle cx="85.4" cy="343.1" r="0.48" fill="rgb(90,90,90)"/><circle cx="115.5" cy="342.6" r="0.48" fill="rgb(86,86,86)"/><circle cx="91.8" cy="364.8" r="0.46" fill="rgb(83,83,83)"/><circle cx="102.6" cy="369.7" r="0.39" fill="rgb(69,69,69)"/><circle cx="95.1" cy="370.8" r="0.60" fill="rgb(54,54,54)"/><circle cx="109.1" cy="367.8" r="0.51" fill="rgb(66,66,66)"/><circle cx="109.3" cy="344.2" r="0.60" fill="rgb(82,82,82)"/><circle cx="91.1" cy="348.0" r="0.55" fill="rgb(66,66,66)"/><circle cx="97.7" cy="343.9" r="0.34" fill="rgb(85,85,85)"/><circle cx="104.4" cy="335.9" r="0.51" fill="rgb(100,100,100)"/><circle cx="114.1" cy="368.2" r="0.57" fill="rgb(91,91,91)"/><circle cx="100.8" cy="335.7" r="0.52" fill="rgb(106,106,106)"/><circle cx="92.7" cy="348.3" r="0.57" fill="rgb(67,67,67)"/><circle cx="104.1" cy="344.9" r="0.56" fill="rgb(57,57,57)"/><circle cx="116.8" cy="355.7" r="0.43" fill="rgb(99,99,99)"/><circle cx="114.8" cy="346.2" r="0.51" fill="rgb(119,119,119)"/><circle cx="96.0" cy="352.4" r="0.34" fill="rgb(111,111,111)"/><circle cx="98.6" cy="370.1" r="0.58" fill="rgb(97,97,97)"/><circle cx="119.1" cy="348.1" r="0.41" fill="rgb(105,105,105)"/><circle cx="99.9" cy="346.7" r="0.60" fill="rgb(72,72,72)"/><circle cx="89.0" cy="339.7" r="0.48" fill="rgb(61,61,61)"/><circle cx="107.9" cy="369.6" r="0.43" fill="rgb(114,114,114)"/><circle cx="112.6" cy="355.7" r="0.44" fill="rgb(56,56,56)"/><circle cx="107.5" cy="335.8" r="0.34" fill="rgb(69,69,69)"/><circle cx="111.7" cy="357.6" r="0.36" fill="rgb(68,68,68)"/><circle cx="109.1" cy="347.4" r="0.35" fill="rgb(61,61,61)"/><circle cx="99.2" cy="341.6" r="0.51" fill="rgb(77,77,77)"/><circle cx="92.1" cy="344.5" r="0.39" fill="rgb(93,93,93)"/><circle cx="86.4" cy="361.1" r="0.42" fill="rgb(51,51,51)"/><circle cx="92.9" cy="362.0" r="0.51" fill="rgb(85,85,85)"/><circle cx="100.0" cy="337.1" r="0.30" fill="rgb(93,93,93)"/><circle cx="101.5" cy="370.6" r="0.47" fill="rgb(58,58,58)"/><circle cx="119.3" cy="356.1" r="0.43" fill="rgb(61,61,61)"/><circle cx="107.2" cy="360.1" r="0.46" fill="rgb(82,82,82)"/><circle cx="107.1" cy="347.6" r="0.37" fill="rgb(111,111,111)"/><circle cx="86.0" cy="366.4" r="0.38" fill="rgb(85,85,85)"/><circle cx="84.0" cy="359.6" r="0.33" fill="rgb(110,110,110)"/><circle cx="89.1" cy="353.2" r="0.43" fill="rgb(55,55,55)"/><circle cx="96.5" cy="370.7" r="0.44" fill="rgb(51,51,51)"/><circle cx="94.0" cy="365.0" r="0.59" fill="rgb(80,80,80)"/><circle cx="96.4" cy="343.1" r="0.43" fill="rgb(73,73,73)"/><circle cx="115.2" cy="348.2" r="0.36" fill="rgb(116,116,116)"/><circle cx="84.5" cy="352.2" r="0.33" fill="rgb(107,107,107)"/><circle cx="85.8" cy="364.7" r="0.34" fill="rgb(92,92,92)"/><circle cx="88.9" cy="361.1" r="0.43" fill="rgb(50,50,50)"/><circle cx="82.0" cy="357.5" r="0.46" fill="rgb(86,86,86)"/><circle cx="104.6" cy="356.2" r="0.49" fill="rgb(82,82,82)"/><circle cx="104.2" cy="369.1" r="0.38" fill="rgb(56,56,56)"/><circle cx="90.3" cy="352.9" r="0.51" fill="rgb(81,81,81)"/><circle cx="108.2" cy="368.8" r="0.55" fill="rgb(117,117,117)"/><circle cx="90.0" cy="365.6" r="0.52" fill="rgb(57,57,57)"/><circle cx="101.1" cy="345.1" r="0.48" fill="rgb(76,76,76)"/><circle cx="92.7" cy="341.3" r="0.56" fill="rgb(102,102,102)"/><circle cx="98.8" cy="354.9" r="0.33" fill="rgb(106,106,106)"/><circle cx="84.8" cy="351.3" r="0.46" fill="rgb(106,106,106)"/><circle cx="88.2" cy="340.0" r="0.39" fill="rgb(103,103,103)"/><circle cx="116.2" cy="347.9" r="0.38" fill="rgb(71,71,71)"/><circle cx="88.0" cy="359.4" r="0.44" fill="rgb(109,109,109)"/><circle cx="98.4" cy="343.3" r="0.40" fill="rgb(82,82,82)"/><circle cx="88.3" cy="364.8" r="0.45" fill="rgb(66,66,66)"/><circle cx="101.1" cy="352.4" r="0.53" fill="rgb(78,78,78)"/><circle cx="91.3" cy="339.5" r="0.48" fill="rgb(67,67,67)"/><circle cx="99.1" cy="359.8" r="0.39" fill="rgb(105,105,105)"/><circle cx="99.3" cy="337.1" r="0.39" fill="rgb(106,106,106)"/><circle cx="104.3" cy="345.1" r="0.30" fill="rgb(96,96,96)"/><circle cx="102.3" cy="349.6" r="0.49" fill="rgb(100,100,100)"/><circle cx="115.2" cy="360.2" r="0.54" fill="rgb(99,99,99)"/><circle cx="110.8" cy="353.3" r="0.41" fill="rgb(79,79,79)"/><circle cx="96.7" cy="347.1" r="0.37" fill="rgb(89,89,89)"/><circle cx="105.7" cy="371.0" r="0.53" fill="rgb(88,88,88)"/><circle cx="91.7" cy="338.8" r="0.30" fill="rgb(83,83,83)"/><circle cx="110.7" cy="354.4" r="0.36" fill="rgb(107,107,107)"/><circle cx="90.6" cy="353.7" r="0.32" fill="rgb(95,95,95)"/><circle cx="113.3" cy="360.3" r="0.44" fill="rgb(109,109,109)"/><circle cx="115.8" cy="367.7" r="0.39" fill="rgb(57,57,57)"/><circle cx="91.8" cy="350.3" r="0.43" fill="rgb(98,98,98)"/><circle cx="102.8" cy="348.9" r="0.57" fill="rgb(107,107,107)"/><circle cx="101.0" cy="364.0" r="0.42" fill="rgb(111,111,111)"/><circle cx="89.1" cy="363.5" r="0.54" fill="rgb(88,88,88)"/><circle cx="93.2" cy="339.8" r="0.45" fill="rgb(80,80,80)"/><circle cx="112.5" cy="339.8" r="0.48" fill="rgb(92,92,92)"/><circle cx="96.7" cy="367.4" r="0.45" fill="rgb(63,63,63)"/><circle cx="110.5" cy="358.1" r="0.44" fill="rgb(69,69,69)"/><circle cx="98.6" cy="348.8" r="0.53" fill="rgb(94,94,94)"/><circle cx="104.9" cy="360.8" r="0.49" fill="rgb(57,57,57)"/><circle cx="98.1" cy="356.8" r="0.41" fill="rgb(58,58,58)"/><circle cx="117.9" cy="360.1" r="0.54" fill="rgb(63,63,63)"/><circle cx="112.4" cy="356.9" r="0.35" fill="rgb(115,115,115)"/><circle cx="118.8" cy="358.5" r="0.45" fill="rgb(105,105,105)"/><circle cx="108.7" cy="362.0" r="0.59" fill="rgb(81,81,81)"/><circle cx="104.8" cy="370.1" r="0.56" fill="rgb(99,99,99)"/><circle cx="95.6" cy="343.6" r="0.44" fill="rgb(80,80,80)"/><circle cx="88.9" cy="346.8" r="0.53" fill="rgb(57,57,57)"/><circle cx="90.9" cy="366.2" r="0.43" fill="rgb(71,71,71)"/><circle cx="83.1" cy="353.7" r="0.9" fill="rgb(91,91,91)"/><circle cx="87.6" cy="355.4" r="1.3" fill="rgb(51,51,51)"/><circle cx="94.0" cy="364.4" r="0.7" fill="rgb(87,87,87)"/><circle cx="88.6" cy="341.3" r="0.9" fill="rgb(39,39,39)"/><circle cx="92.8" cy="354.6" r="0.9" fill="rgb(92,92,92)"/><circle cx="103.6" cy="369.7" r="0.9" fill="rgb(38,38,38)"/><circle cx="89.7" cy="366.0" r="1.1" fill="rgb(81,81,81)"/><circle cx="96.2" cy="354.7" r="0.9" fill="rgb(74,74,74)"/><circle cx="113.2" cy="364.1" r="1.1" fill="rgb(37,37,37)"/><circle cx="111.9" cy="351.5" r="0.9" fill="rgb(94,94,94)"/><circle cx="97.7" cy="347.8" r="1.1" fill="rgb(39,39,39)"/><circle cx="113.1" cy="344.1" r="0.7" fill="rgb(61,61,61)"/><circle cx="93.1" cy="353.6" r="0.9" fill="rgb(67,67,67)"/><circle cx="97.7" cy="348.5" r="0.7" fill="rgb(57,57,57)"/><circle cx="82.7" cy="353.8" r="0.9" fill="rgb(56,56,56)"/><circle cx="103.5" cy="371.4" r="1.1" fill="rgb(80,80,80)"/><circle cx="91.6" cy="351.5" r="1.3" fill="rgb(41,41,41)"/><circle cx="96.4" cy="354.0" r="1.1" fill="rgb(54,54,54)"/><circle cx="97.8" cy="342.0" r="1.1" fill="rgb(92,92,92)"/><circle cx="109.4" cy="351.1" r="1.1" fill="rgb(79,79,79)"/><circle cx="99.7" cy="362.0" r="0.7" fill="rgb(53,53,53)"/><circle cx="97.8" cy="363.8" r="1.1" fill="rgb(81,81,81)"/><circle cx="113.1" cy="344.3" r="0.7" fill="rgb(51,51,51)"/><circle cx="95.9" cy="354.5" r="1.1" fill="rgb(59,59,59)"/><circle cx="82.6" cy="354.0" r="1.3" fill="rgb(66,66,66)"/><circle cx="90.0" cy="342.0" r="0.7" fill="rgb(38,38,38)"/><circle cx="86.5" cy="362.2" r="0.9" fill="rgb(58,58,58)"/><circle cx="96.5" cy="372.5" r="1.1" fill="rgb(74,74,74)"/><circle cx="106.5" cy="360.7" r="0.7" fill="rgb(73,73,73)"/><circle cx="85.1" cy="356.1" r="0.7" fill="rgb(46,46,46)"/><circle cx="83.8" cy="358.5" r="0.9" fill="rgb(63,63,63)"/><circle cx="107.4" cy="365.2" r="0.9" fill="rgb(43,43,43)"/><circle cx="115.1" cy="357.5" r="0.7" fill="rgb(45,45,45)"/><circle cx="105.4" cy="353.0" r="0.9" fill="rgb(87,87,87)"/><circle cx="104.3" cy="369.4" r="0.9" fill="rgb(37,37,37)"/><circle cx="110.4" cy="368.8" r="1.1" fill="rgb(68,68,68)"/><circle cx="91.9" cy="354.2" r="0.9" fill="rgb(59,59,59)"/><circle cx="110.7" cy="354.0" r="0.9" fill="rgb(57,57,57)"/><circle cx="102.2" cy="363.2" r="0.7" fill="rgb(60,60,60)"/><circle cx="96.7" cy="361.0" r="0.7" fill="rgb(58,58,58)"/><circle cx="100.8" cy="338.6" r="1.1" fill="rgb(65,65,65)"/><circle cx="100.8" cy="360.5" r="0.9" fill="rgb(72,72,72)"/><circle cx="86.5" cy="365.2" r="1.1" fill="rgb(67,67,67)"/><circle cx="96.5" cy="365.4" r="0.9" fill="rgb(43,43,43)"/><circle cx="97.7" cy="363.3" r="1.1" fill="rgb(63,63,63)"/><circle cx="109.7" cy="358.9" r="0.9" fill="rgb(64,64,64)"/><circle cx="91.7" cy="363.4" r="1.1" fill="rgb(37,37,37)"/><circle cx="91.6" cy="367.4" r="1.3" fill="rgb(80,80,80)"/><circle cx="105.8" cy="370.5" r="0.9" fill="rgb(47,47,47)"/><circle cx="105.7" cy="370.7" r="0.9" fill="rgb(55,55,55)"/><circle cx="93.2" cy="352.5" r="1.1" fill="rgb(71,71,71)"/><circle cx="104.2" cy="363.5" r="0.7" fill="rgb(88,88,88)"/><circle cx="95.2" cy="351.9" r="0.7" fill="rgb(56,56,56)"/><circle cx="94.2" cy="365.6" r="1.1" fill="rgb(72,72,72)"/><circle cx="96.8" cy="342.3" r="0.7" fill="rgb(87,87,87)"/></g></g><circle cx="101.2" cy="354.4" r="19.8" fill="url(#well)"/><circle cx="141.6" cy="354.4" r="19.8" fill="#cdcdcd"/><clipPath id="c31"><circle cx="141.6" cy="354.4" r="19.5"/></clipPath><g clip-path="url(#c31)"><g filter="url(#blur2)"><circle cx="146.0" cy="337.6" r="4.7" fill="#000" fill-opacity="0.1"/><circle cx="129.4" cy="356.4" r="2.8" fill="#fff" fill-opacity="0.28"/><circle cx="147.5" cy="369.7" r="4.2" fill="#000" fill-opacity="0.1"/><circle cx="134.7" cy="350.7" r="4.9" fill="#fff" fill-opacity="0.28"/><circle cx="151.9" cy="351.2" r="3.0" fill="#fff" fill-opacity="0.28"/><circle cx="133.2" cy="364.7" r="4.8" fill="#fff" fill-opacity="0.28"/><circle cx="153.2" cy="360.5" r="3.4" fill="#fff" fill-opacity="0.28"/><circle cx="142.1" cy="348.1" r="3.9" fill="#000" fill-opacity="0.1"/><circle cx="128.9" cy="348.5" r="3.2" fill="#000" fill-opacity="0.1"/><circle cx="140.0" cy="371.8" r="4.6" fill="#fff" fill-opacity="0.28"/><circle cx="153.6" cy="345.4" r="3.6" fill="#fff" fill-opacity="0.28"/><circle cx="125.1" cy="353.2" r="3.6" fill="#000" fill-opacity="0.1"/><circle cx="144.6" cy="365.0" r="3.0" fill="#000" fill-opacity="0.1"/><circle cx="141.5" cy="357.9" r="3.7" fill="#000" fill-opacity="0.1"/></g><g filter="url(#blur1)"><circle cx="150.6" cy="366.4" r="2.6" fill="#333" fill-opacity="0.85"/><circle cx="148.8" cy="340.3" r="0.51" fill="rgb(95,95,95)"/><circle cx="131.2" cy="357.2" r="0.42" fill="rgb(51,51,51)"/><circle cx="150.7" cy="355.1" r="0.46" fill="rgb(76,76,76)"/><circle cx="134.9" cy="360.7" r="0.40" fill="rgb(102,102,102)"/><circle cx="135.9" cy="361.8" r="0.53" fill="rgb(54,54,54)"/><circle cx="127.5" cy="358.5" r="0.56" fill="rgb(111,111,111)"/><circle cx="124.7" cy="345.2" r="0.56" fill="rgb(87,87,87)"/><circle cx="131.6" cy="356.3" r="0.35" fill="rgb(84,84,84)"/><circle cx="134.7" cy="360.9" r="0.33" fill="rgb(81,81,81)"/><circle cx="127.9" cy="360.4" r="0.60" fill="rgb(119,119,119)"/><circle cx="134.4" cy="343.2" r="0.58" fill="rgb(102,102,102)"/><circle cx="138.5" cy="346.3" r="0.45" fill="rgb(92,92,92)"/><circle cx="155.5" cy="346.2" r="0.31" fill="rgb(117,117,117)"/><circle cx="138.7" cy="345.7" r="0.55" fill="rgb(82,82,82)"/><circle cx="150.9" cy="354.1" r="0.34" fill="rgb(110,110,110)"/><circle cx="138.5" cy="363.1" r="0.33" fill="rgb(118,118,118)"/><circle cx="146.2" cy="340.8" r="0.33" fill="rgb(100,100,100)"/><circle cx="127.3" cy="357.9" r="0.50" fill="rgb(70,70,70)"/><circle cx="146.5" cy="357.2" r="0.38" fill="rgb(95,95,95)"/><circle cx="151.0" cy="342.8" r="0.56" fill="rgb(111,111,111)"/><circle cx="136.2" cy="335.5" r="0.47" fill="rgb(67,67,67)"/><circle cx="153.1" cy="366.5" r="0.57" fill="rgb(107,107,107)"/><circle cx="122.9" cy="350.9" r="0.41" fill="rgb(76,76,76)"/><circle cx="139.7" cy="335.5" r="0.45" fill="rgb(55,55,55)"/><circle cx="138.2" cy="355.6" r="0.55" fill="rgb(57,57,57)"/><circle cx="155.7" cy="349.5" r="0.59" fill="rgb(66,66,66)"/><circle cx="135.2" cy="357.8" r="0.51" fill="rgb(105,105,105)"/><circle cx="137.1" cy="343.0" r="0.37" fill="rgb(69,69,69)"/><circle cx="132.7" cy="347.7" r="0.57" fill="rgb(100,100,100)"/><circle cx="143.7" cy="351.4" r="0.32" fill="rgb(95,95,95)"/><circle cx="138.4" cy="364.7" r="0.31" fill="rgb(88,88,88)"/><circle cx="144.0" cy="373.4" r="0.40" fill="rgb(52,52,52)"/><circle cx="135.1" cy="354.8" r="0.49" fill="rgb(70,70,70)"/><circle cx="134.4" cy="367.3" r="0.33" fill="rgb(116,116,116)"/><circle cx="140.1" cy="351.7" r="0.52" fill="rgb(77,77,77)"/><circle cx="154.6" cy="350.8" r="0.45" fill="rgb(94,94,94)"/><circle cx="146.0" cy="358.4" r="0.56" fill="rgb(88,88,88)"/><circle cx="140.9" cy="371.5" r="0.40" fill="rgb(93,93,93)"/><circle cx="138.8" cy="350.2" r="0.41" fill="rgb(67,67,67)"/><circle cx="139.2" cy="351.5" r="0.58" fill="rgb(52,52,52)"/><circle cx="123.2" cy="350.9" r="0.35" fill="rgb(119,119,119)"/><circle cx="127.5" cy="368.1" r="0.59" fill="rgb(50,50,50)"/><circle cx="158.8" cy="354.4" r="0.50" fill="rgb(77,77,77)"/><circle cx="153.2" cy="355.9" r="0.43" fill="rgb(52,52,52)"/><circle cx="140.5" cy="351.8" r="0.33" fill="rgb(112,112,112)"/><circle cx="142.6" cy="366.7" r="0.52" fill="rgb(57,57,57)"/><circle cx="135.1" cy="340.7" r="0.48" fill="rgb(80,80,80)"/><circle cx="130.1" cy="365.8" r="0.53" fill="rgb(112,112,112)"/><circle cx="129.1" cy="368.3" r="0.50" fill="rgb(71,71,71)"/><circle cx="140.8" cy="341.7" r="0.59" fill="rgb(110,110,110)"/><circle cx="144.7" cy="357.3" r="0.31" fill="rgb(70,70,70)"/><circle cx="151.8" cy="353.6" r="0.48" fill="rgb(60,60,60)"/><circle cx="159.4" cy="349.3" r="0.36" fill="rgb(111,111,111)"/><circle cx="140.9" cy="360.2" r="0.41" fill="rgb(98,98,98)"/><circle cx="139.7" cy="351.3" r="0.34" fill="rgb(101,101,101)"/><circle cx="151.8" cy="353.6" r="0.55" fill="rgb(84,84,84)"/><circle cx="137.8" cy="350.3" r="0.52" fill="rgb(114,114,114)"/><circle cx="141.9" cy="340.2" r="0.50" fill="rgb(61,61,61)"/><circle cx="134.9" cy="371.2" r="0.50" fill="rgb(72,72,72)"/><circle cx="134.1" cy="352.4" r="0.59" fill="rgb(97,97,97)"/><circle cx="155.7" cy="360.0" r="0.55" fill="rgb(95,95,95)"/><circle cx="134.1" cy="370.8" r="0.36" fill="rgb(101,101,101)"/><circle cx="141.3" cy="341.1" r="0.37" fill="rgb(64,64,64)"/><circle cx="133.0" cy="369.1" r="0.49" fill="rgb(60,60,60)"/><circle cx="147.4" cy="341.4" r="0.52" fill="rgb(113,113,113)"/><circle cx="122.2" cy="352.5" r="0.34" fill="rgb(88,88,88)"/><circle cx="145.6" cy="371.9" r="0.42" fill="rgb(109,109,109)"/><circle cx="135.9" cy="361.3" r="0.60" fill="rgb(109,109,109)"/><circle cx="153.9" cy="349.5" r="0.36" fill="rgb(112,112,112)"/><circle cx="155.0" cy="360.8" r="0.44" fill="rgb(74,74,74)"/><circle cx="149.0" cy="358.0" r="0.45" fill="rgb(84,84,84)"/><circle cx="137.9" cy="337.8" r="0.44" fill="rgb(76,76,76)"/><circle cx="140.0" cy="362.1" r="0.47" fill="rgb(78,78,78)"/><circle cx="158.6" cy="354.2" r="0.55" fill="rgb(106,106,106)"/><circle cx="158.9" cy="346.7" r="0.40" fill="rgb(62,62,62)"/><circle cx="139.8" cy="372.0" r="0.58" fill="rgb(84,84,84)"/><circle cx="138.6" cy="352.9" r="0.42" fill="rgb(66,66,66)"/><circle cx="151.5" cy="365.5" r="0.37" fill="rgb(53,53,53)"/><circle cx="148.4" cy="354.9" r="0.45" fill="rgb(99,99,99)"/><circle cx="148.6" cy="352.6" r="0.32" fill="rgb(63,63,63)"/><circle cx="145.0" cy="364.6" r="0.37" fill="rgb(80,80,80)"/><circle cx="147.5" cy="365.1" r="0.55" fill="rgb(53,53,53)"/><circle cx="128.8" cy="348.4" r="0.47" fill="rgb(82,82,82)"/><circle cx="153.8" cy="353.9" r="0.36" fill="rgb(89,89,89)"/><circle cx="136.8" cy="358.1" r="0.50" fill="rgb(110,110,110)"/><circle cx="143.6" cy="337.2" r="0.49" fill="rgb(59,59,59)"/><circle cx="151.0" cy="366.8" r="0.35" fill="rgb(59,59,59)"/><circle cx="151.9" cy="364.6" r="0.41" fill="rgb(58,58,58)"/><circle cx="124.1" cy="363.3" r="0.48" fill="rgb(104,104,104)"/><circle cx="141.4" cy="352.3" r="0.39" fill="rgb(75,75,75)"/><circle cx="137.8" cy="348.4" r="0.40" fill="rgb(116,116,116)"/><circle cx="154.4" cy="341.4" r="0.30" fill="rgb(82,82,82)"/><circle cx="150.6" cy="362.8" r="0.44" fill="rgb(101,101,101)"/><circle cx="159.0" cy="347.1" r="0.60" fill="rgb(72,72,72)"/><circle cx="136.3" cy="353.5" r="0.41" fill="rgb(52,52,52)"/><circle cx="134.4" cy="358.7" r="0.39" fill="rgb(113,113,113)"/><circle cx="142.9" cy="345.3" r="0.41" fill="rgb(80,80,80)"/><circle cx="142.8" cy="342.5" r="0.55" fill="rgb(65,65,65)"/><circle cx="136.8" cy="347.8" r="0.33" fill="rgb(66,66,66)"/><circle cx="148.0" cy="343.3" r="0.48" fill="rgb(108,108,108)"/><circle cx="146.3" cy="337.8" r="0.38" fill="rgb(82,82,82)"/><circle cx="130.5" cy="363.6" r="0.39" fill="rgb(119,119,119)"/><circle cx="140.7" cy="344.4" r="0.52" fill="rgb(94,94,94)"/><circle cx="158.5" cy="354.5" r="0.57" fill="rgb(110,110,110)"/><circle cx="150.2" cy="345.7" r="0.40" fill="rgb(60,60,60)"/><circle cx="153.5" cy="343.3" r="0.30" fill="rgb(85,85,85)"/><circle cx="154.9" cy="360.8" r="0.48" fill="rgb(110,110,110)"/><circle cx="140.6" cy="355.6" r="0.48" fill="rgb(64,64,64)"/><circle cx="137.8" cy="368.4" r="0.46" fill="rgb(52,52,52)"/><circle cx="138.8" cy="355.1" r="0.54" fill="rgb(107,107,107)"/><circle cx="153.3" cy="364.8" r="0.45" fill="rgb(110,110,110)"/><circle cx="141.7" cy="347.5" r="0.37" fill="rgb(54,54,54)"/><circle cx="142.7" cy="343.8" r="0.32" fill="rgb(109,109,109)"/><circle cx="128.6" cy="355.9" r="0.50" fill="rgb(106,106,106)"/><circle cx="140.9" cy="339.0" r="0.53" fill="rgb(61,61,61)"/><circle cx="138.4" cy="337.8" r="0.43" fill="rgb(82,82,82)"/><circle cx="152.3" cy="368.7" r="0.59" fill="rgb(80,80,80)"/><circle cx="139.7" cy="368.0" r="0.48" fill="rgb(74,74,74)"/><circle cx="150.7" cy="352.5" r="0.39" fill="rgb(76,76,76)"/><circle cx="144.7" cy="356.5" r="0.40" fill="rgb(119,119,119)"/><circle cx="136.9" cy="337.5" r="0.38" fill="rgb(94,94,94)"/><circle cx="132.5" cy="337.7" r="0.57" fill="rgb(82,82,82)"/><circle cx="152.8" cy="341.1" r="0.59" fill="rgb(98,98,98)"/><circle cx="122.6" cy="354.3" r="0.51" fill="rgb(56,56,56)"/><circle cx="150.4" cy="362.6" r="0.51" fill="rgb(90,90,90)"/><circle cx="138.1" cy="346.8" r="0.34" fill="rgb(56,56,56)"/><circle cx="135.4" cy="348.7" r="0.50" fill="rgb(114,114,114)"/><circle cx="136.6" cy="369.3" r="0.48" fill="rgb(55,55,55)"/><circle cx="150.5" cy="367.4" r="0.47" fill="rgb(69,69,69)"/><circle cx="138.9" cy="345.5" r="0.34" fill="rgb(54,54,54)"/><circle cx="151.7" cy="337.9" r="0.33" fill="rgb(90,90,90)"/><circle cx="132.2" cy="347.7" r="0.52" fill="rgb(62,62,62)"/><circle cx="151.2" cy="343.6" r="0.58" fill="rgb(90,90,90)"/><circle cx="159.9" cy="354.7" r="0.55" fill="rgb(115,115,115)"/><circle cx="123.9" cy="348.5" r="0.41" fill="rgb(84,84,84)"/><circle cx="137.5" cy="354.4" r="0.46" fill="rgb(52,52,52)"/><circle cx="137.2" cy="351.6" r="0.35" fill="rgb(103,103,103)"/><circle cx="144.7" cy="367.7" r="0.45" fill="rgb(104,104,104)"/><circle cx="155.6" cy="344.3" r="0.56" fill="rgb(89,89,89)"/><circle cx="133.0" cy="366.8" r="0.33" fill="rgb(95,95,95)"/><circle cx="145.2" cy="352.1" r="1.3" fill="rgb(48,48,48)"/><circle cx="157.6" cy="354.6" r="1.3" fill="rgb(70,70,70)"/><circle cx="129.8" cy="348.5" r="0.7" fill="rgb(82,82,82)"/><circle cx="149.4" cy="356.6" r="1.3" fill="rgb(72,72,72)"/><circle cx="145.9" cy="357.9" r="1.3" fill="rgb(86,86,86)"/><circle cx="135.4" cy="336.8" r="0.7" fill="rgb(46,46,46)"/><circle cx="131.3" cy="339.0" r="0.9" fill="rgb(40,40,40)"/><circle cx="146.7" cy="348.4" r="0.7" fill="rgb(43,43,43)"/><circle cx="148.0" cy="348.6" r="1.1" fill="rgb(36,36,36)"/><circle cx="138.8" cy="347.8" r="0.9" fill="rgb(68,68,68)"/><circle cx="142.1" cy="351.0" r="0.9" fill="rgb(46,46,46)"/><circle cx="149.5" cy="352.5" r="1.3" fill="rgb(52,52,52)"/><circle cx="148.4" cy="342.8" r="1.1" fill="rgb(75,75,75)"/><circle cx="134.0" cy="362.4" r="0.9" fill="rgb(87,87,87)"/><circle cx="151.1" cy="343.5" r="1.1" fill="rgb(37,37,37)"/><circle cx="146.8" cy="364.6" r="0.9" fill="rgb(56,56,56)"/><circle cx="140.5" cy="344.9" r="1.3" fill="rgb(55,55,55)"/><circle cx="138.2" cy="345.1" r="0.7" fill="rgb(61,61,61)"/><circle cx="133.4" cy="347.0" r="1.3" fill="rgb(42,42,42)"/><circle cx="143.9" cy="346.5" r="1.3" fill="rgb(54,54,54)"/><circle cx="140.6" cy="338.3" r="1.1" fill="rgb(39,39,39)"/><circle cx="138.5" cy="352.1" r="0.7" fill="rgb(50,50,50)"/><circle cx="127.6" cy="360.6" r="1.3" fill="rgb(35,35,35)"/><circle cx="154.1" cy="362.7" r="0.9" fill="rgb(84,84,84)"/><circle cx="136.1" cy="337.6" r="1.3" fill="rgb(36,36,36)"/><circle cx="141.0" cy="356.2" r="0.9" fill="rgb(88,88,88)"/><circle cx="137.2" cy="346.2" r="0.9" fill="rgb(45,45,45)"/><circle cx="134.6" cy="350.2" r="0.7" fill="rgb(61,61,61)"/><circle cx="133.6" cy="346.8" r="0.7" fill="rgb(76,76,76)"/><circle cx="140.8" cy="360.7" r="1.1" fill="rgb(48,48,48)"/><circle cx="155.8" cy="355.2" r="0.9" fill="rgb(85,85,85)"/><circle cx="143.1" cy="341.8" r="1.1" fill="rgb(91,91,91)"/><circle cx="145.7" cy="350.7" r="1.3" fill="rgb(63,63,63)"/><circle cx="139.1" cy="362.9" r="0.7" fill="rgb(45,45,45)"/><circle cx="153.7" cy="345.8" r="1.3" fill="rgb(94,94,94)"/><circle cx="125.2" cy="354.5" r="1.3" fill="rgb(60,60,60)"/><circle cx="135.4" cy="336.8" r="0.7" fill="rgb(51,51,51)"/><circle cx="139.0" cy="337.9" r="1.3" fill="rgb(63,63,63)"/><circle cx="159.9" cy="351.4" r="1.3" fill="rgb(57,57,57)"/><circle cx="153.8" cy="361.9" r="1.1" fill="rgb(51,51,51)"/><circle cx="146.1" cy="371.5" r="1.1" fill="rgb(57,57,57)"/><circle cx="153.8" cy="353.1" r="1.3" fill="rgb(54,54,54)"/><circle cx="147.3" cy="369.9" r="1.3" fill="rgb(49,49,49)"/><circle cx="138.9" cy="342.3" r="1.1" fill="rgb(46,46,46)"/><circle cx="144.7" cy="353.2" r="1.3" fill="rgb(61,61,61)"/></g></g><circle cx="141.6" cy="354.4" r="19.8" fill="url(#well)"/><circle cx="101.2" cy="396.0" r="19.8" fill="#bcbcbc"/><clipPath id="c40"><circle cx="101.2" cy="396.0" r="19.5"/></clipPath><g clip-path="url(#c40)"><g filter="url(#blur2)"><circle cx="103.1" cy="399.1" r="4.6" fill="#000" fill-opacity="0.1"/><circle cx="109.3" cy="388.8" r="4.9" fill="#000" fill-opacity="0.1"/><circle cx="104.5" cy="384.8" r="3.8" fill="#fff" fill-opacity="0.28"/><circle cx="113.2" cy="388.8" r="2.7" fill="#fff" fill-opacity="0.28"/><circle cx="97.1" cy="404.1" r="3.7" fill="#fff" fill-opacity="0.28"/><circle cx="103.2" cy="401.4" r="3.1" fill="#000" fill-opacity="0.1"/><circle cx="93.5" cy="383.2" r="3.2" fill="#000" fill-opacity="0.1"/><circle cx="119.1" cy="392.8" r="3.4" fill="#fff" fill-opacity="0.28"/><circle cx="105.0" cy="410.4" r="3.4" fill="#fff" fill-opacity="0.28"/><circle cx="116.1" cy="402.3" r="4.2" fill="#000" fill-opacity="0.1"/><circle cx="109.4" cy="383.8" r="3.1" fill="#fff" fill-opacity="0.28"/><circle cx="88.2" cy="394.3" r="3.2" fill="#fff" fill-opacity="0.28"/><circle cx="107.0" cy="412.7" r="4.2" fill="#000" fill-opacity="0.1"/><circle cx="94.7" cy="391.0" r="4.9" fill="#fff" fill-opacity="0.28"/><circle cx="101.2" cy="386.0" r="9" fill="#fff" fill-opacity="0.3"/></g><g filter="url(#blur1)"><circle cx="89.8" cy="402.6" r="7.5" fill="#5a5a5a" fill-opacity="0.85"/><circle cx="89.2" cy="404.0" r="4" fill="#444" fill-opacity="0.85"/><circle cx="106.4" cy="394.7" r="0.37" fill="rgb(127,127,127)"/><circle cx="110.1" cy="392.8" r="0.59" fill="rgb(121,121,121)"/><circle cx="103.3" cy="396.6" r="0.43" fill="rgb(102,102,102)"/><circle cx="111.2" cy="392.1" r="0.56" fill="rgb(61,61,61)"/><circle cx="89.8" cy="387.5" r="0.57" fill="rgb(110,110,110)"/><circle cx="100.4" cy="405.9" r="0.46" fill="rgb(139,139,139)"/><circle cx="118.1" cy="399.7" r="0.31" fill="rgb(105,105,105)"/><circle cx="90.5" cy="406.8" r="0.50" fill="rgb(129,129,129)"/><circle cx="90.1" cy="383.0" r="0.54" fill="rgb(93,93,93)"/><circle cx="100.2" cy="390.0" r="0.57" fill="rgb(117,117,117)"/><circle cx="113.5" cy="391.4" r="0.47" fill="rgb(69,69,69)"/><circle cx="113.4" cy="404.7" r="0.48" fill="rgb(119,119,119)"/><circle cx="95.3" cy="379.9" r="0.38" fill="rgb(98,98,98)"/><circle cx="104.5" cy="382.3" r="0.42" fill="rgb(115,115,115)"/><circle cx="111.5" cy="389.0" r="0.49" fill="rgb(108,108,108)"/><circle cx="83.8" cy="392.8" r="0.32" fill="rgb(81,81,81)"/><circle cx="108.5" cy="406.7" r="0.35" fill="rgb(116,116,116)"/><circle cx="87.4" cy="403.6" r="0.49" fill="rgb(76,76,76)"/><circle cx="95.6" cy="388.3" r="0.59" fill="rgb(131,131,131)"/><circle cx="109.7" cy="392.0" r="0.46" fill="rgb(85,85,85)"/><circle cx="102.4" cy="393.2" r="0.50" fill="rgb(80,80,80)"/><circle cx="102.6" cy="405.2" r="0.48" fill="rgb(139,139,139)"/><circle cx="99.0" cy="390.5" r="0.34" fill="rgb(83,83,83)"/><circle cx="101.3" cy="403.2" r="0.53" fill="rgb(69,69,69)"/><circle cx="98.1" cy="414.5" r="0.40" fill="rgb(60,60,60)"/><circle cx="97.2" cy="407.9" r="0.45" fill="rgb(106,106,106)"/><circle cx="94.6" cy="405.4" r="0.39" fill="rgb(116,116,116)"/><circle cx="96.5" cy="382.8" r="0.53" fill="rgb(79,79,79)"/><circle cx="85.9" cy="392.1" r="0.44" fill="rgb(66,66,66)"/><circle cx="88.5" cy="394.9" r="0.34" fill="rgb(89,89,89)"/><circle cx="83.8" cy="396.4" r="0.39" fill="rgb(106,106,106)"/><circle cx="105.4" cy="407.3" r="0.36" fill="rgb(85,85,85)"/><circle cx="91.2" cy="402.3" r="0.55" fill="rgb(102,102,102)"/><circle cx="91.0" cy="408.7" r="0.37" fill="rgb(73,73,73)"/><circle cx="112.1" cy="382.8" r="0.55" fill="rgb(117,117,117)"/><circle cx="116.2" cy="384.1" r="0.58" fill="rgb(118,118,118)"/><circle cx="99.6" cy="409.6" r="0.33" fill="rgb(75,75,75)"/><circle cx="92.0" cy="403.0" r="0.42" fill="rgb(110,110,110)"/><circle cx="109.0" cy="407.6" r="0.53" fill="rgb(86,86,86)"/><circle cx="93.9" cy="378.1" r="0.47" fill="rgb(137,137,137)"/><circle cx="100.2" cy="410.8" r="0.46" fill="rgb(83,83,83)"/><circle cx="102.2" cy="379.2" r="0.39" fill="rgb(96,96,96)"/><circle cx="119.2" cy="399.4" r="0.48" fill="rgb(126,126,126)"/><circle cx="104.3" cy="387.9" r="0.39" fill="rgb(112,112,112)"/><circle cx="106.6" cy="384.7" r="0.41" fill="rgb(98,98,98)"/><circle cx="84.6" cy="404.1" r="0.38" fill="rgb(137,137,137)"/><circle cx="107.4" cy="377.7" r="0.48" fill="rgb(101,101,101)"/><circle cx="108.3" cy="381.5" r="0.57" fill="rgb(102,102,102)"/><circle cx="84.9" cy="389.5" r="0.40" fill="rgb(133,133,133)"/><circle cx="105.5" cy="388.6" r="0.50" fill="rgb(103,103,103)"/><circle cx="108.2" cy="387.3" r="0.53" fill="rgb(137,137,137)"/><circle cx="110.1" cy="391.3" r="0.44" fill="rgb(103,103,103)"/><circle cx="118.5" cy="391.7" r="0.57" fill="rgb(73,73,73)"/><circle cx="92.4" cy="406.4" r="0.45" fill="rgb(64,64,64)"/><circle cx="112.4" cy="388.5" r="0.55" fill="rgb(62,62,62)"/><circle cx="95.0" cy="397.2" r="0.36" fill="rgb(115,115,115)"/><circle cx="91.3" cy="387.8" r="0.43" fill="rgb(79,79,79)"/><circle cx="97.1" cy="408.9" r="0.45" fill="rgb(106,106,106)"/><circle cx="115.3" cy="401.1" r="0.56" fill="rgb(135,135,135)"/><circle cx="85.8" cy="404.1" r="0.51" fill="rgb(73,73,73)"/><circle cx="103.7" cy="401.0" r="0.41" fill="rgb(113,113,113)"/><circle cx="96.8" cy="395.6" r="0.32" fill="rgb(78,78,78)"/><circle cx="107.3" cy="393.0" r="0.32" fill="rgb(133,133,133)"/><circle cx="106.1" cy="411.9" r="0.32" fill="rgb(110,110,110)"/><circle cx="97.7" cy="402.2" r="0.41" fill="rgb(86,86,86)"/><circle cx="84.5" cy="391.9" r="0.50" fill="rgb(62,62,62)"/><circle cx="111.6" cy="391.1" r="0.43" fill="rgb(112,112,112)"/><circle cx="97.2" cy="409.9" r="0.50" fill="rgb(64,64,64)"/><circle cx="91.3" cy="393.6" r="0.58" fill="rgb(62,62,62)"/><circle cx="98.8" cy="392.5" r="0.33" fill="rgb(123,123,123)"/><circle cx="94.6" cy="397.8" r="0.49" fill="rgb(133,133,133)"/><circle cx="96.7" cy="385.3" r="0.32" fill="rgb(86,86,86)"/><circle cx="106.5" cy="391.1" r="0.36" fill="rgb(108,108,108)"/><circle cx="104.8" cy="398.4" r="0.33" fill="rgb(86,86,86)"/><circle cx="109.5" cy="383.0" r="0.31" fill="rgb(74,74,74)"/><circle cx="83.3" cy="399.4" r="0.47" fill="rgb(79,79,79)"/><circle cx="102.1" cy="415.5" r="0.36" fill="rgb(79,79,79)"/><circle cx="93.2" cy="389.0" r="0.53" fill="rgb(129,129,129)"/><circle cx="94.4" cy="377.9" r="0.31" fill="rgb(94,94,94)"/><circle cx="97.3" cy="405.1" r="0.42" fill="rgb(74,74,74)"/><circle cx="102.1" cy="396.3" r="0.34" fill="rgb(102,102,102)"/><circle cx="104.2" cy="390.1" r="0.48" fill="rgb(67,67,67)"/><circle cx="107.1" cy="379.5" r="0.44" fill="rgb(128,128,128)"/><circle cx="101.2" cy="399.1" r="0.48" fill="rgb(135,135,135)"/><circle cx="118.1" cy="389.5" r="0.53" fill="rgb(112,112,112)"/><circle cx="110.2" cy="412.5" r="0.44" fill="rgb(128,128,128)"/><circle cx="88.3" cy="401.3" r="0.35" fill="rgb(105,105,105)"/><circle cx="112.4" cy="392.3" r="0.48" fill="rgb(62,62,62)"/><circle cx="113.5" cy="411.5" r="0.53" fill="rgb(134,134,134)"/><circle cx="117.8" cy="403.4" r="0.49" fill="rgb(74,74,74)"/><circle cx="109.1" cy="410.8" r="0.40" fill="rgb(116,116,116)"/><circle cx="102.4" cy="414.1" r="0.35" fill="rgb(135,135,135)"/><circle cx="116.1" cy="395.6" r="0.45" fill="rgb(85,85,85)"/><circle cx="114.2" cy="401.6" r="0.46" fill="rgb(108,108,108)"/><circle cx="117.9" cy="399.4" r="0.35" fill="rgb(99,99,99)"/><circle cx="109.1" cy="382.6" r="0.43" fill="rgb(61,61,61)"/><circle cx="102.5" cy="380.1" r="0.54" fill="rgb(90,90,90)"/><circle cx="93.4" cy="397.4" r="0.57" fill="rgb(71,71,71)"/><circle cx="100.1" cy="411.2" r="0.40" fill="rgb(79,79,79)"/><circle cx="100.1" cy="398.1" r="0.33" fill="rgb(60,60,60)"/><circle cx="99.6" cy="385.7" r="0.49" fill="rgb(95,95,95)"/><circle cx="82.5" cy="394.8" r="0.56" fill="rgb(122,122,122)"/><circle cx="94.6" cy="414.5" r="0.50" fill="rgb(136,136,136)"/><circle cx="103.9" cy="388.0" r="0.36" fill="rgb(137,137,137)"/><circle cx="102.2" cy="392.5" r="0.47" fill="rgb(121,121,121)"/><circle cx="92.7" cy="401.9" r="0.39" fill="rgb(97,97,97)"/><circle cx="88.5" cy="411.1" r="0.56" fill="rgb(89,89,89)"/><circle cx="83.8" cy="401.9" r="0.56" fill="rgb(116,116,116)"/><circle cx="98.6" cy="380.6" r="0.50" fill="rgb(131,131,131)"/><circle cx="109.2" cy="381.8" r="0.39" fill="rgb(96,96,96)"/><circle cx="93.2" cy="412.2" r="0.39" fill="rgb(80,80,80)"/><circle cx="117.3" cy="393.6" r="0.51" fill="rgb(86,86,86)"/><circle cx="96.5" cy="397.7" r="0.32" fill="rgb(132,132,132)"/><circle cx="113.2" cy="391.6" r="0.45" fill="rgb(103,103,103)"/><circle cx="83.5" cy="400.3" r="0.60" fill="rgb(86,86,86)"/><circle cx="85.4" cy="387.3" r="0.36" fill="rgb(73,73,73)"/><circle cx="94.3" cy="413.1" r="0.54" fill="rgb(92,92,92)"/><circle cx="97.6" cy="388.4" r="0.34" fill="rgb(99,99,99)"/><circle cx="93.1" cy="395.7" r="0.44" fill="rgb(113,113,113)"/><circle cx="90.1" cy="388.7" r="0.43" fill="rgb(105,105,105)"/><circle cx="95.3" cy="414.4" r="0.34" fill="rgb(102,102,102)"/><circle cx="90.8" cy="410.0" r="0.44" fill="rgb(103,103,103)"/><circle cx="86.1" cy="388.5" r="0.34" fill="rgb(138,138,138)"/><circle cx="113.6" cy="390.8" r="0.43" fill="rgb(109,109,109)"/><circle cx="89.1" cy="399.1" r="0.45" fill="rgb(121,121,121)"/><circle cx="102.0" cy="389.7" r="0.37" fill="rgb(62,62,62)"/><circle cx="102.3" cy="405.9" r="0.50" fill="rgb(95,95,95)"/><circle cx="117.4" cy="384.8" r="0.57" fill="rgb(111,111,111)"/><circle cx="84.2" cy="394.2" r="0.51" fill="rgb(131,131,131)"/><circle cx="86.3" cy="405.9" r="0.59" fill="rgb(121,121,121)"/><circle cx="107.5" cy="382.2" r="0.30" fill="rgb(78,78,78)"/><circle cx="103.1" cy="412.5" r="0.51" fill="rgb(71,71,71)"/><circle cx="100.5" cy="404.0" r="0.34" fill="rgb(129,129,129)"/><circle cx="110.4" cy="383.7" r="0.37" fill="rgb(81,81,81)"/><circle cx="92.6" cy="390.7" r="0.48" fill="rgb(108,108,108)"/><circle cx="111.2" cy="397.6" r="0.34" fill="rgb(118,118,118)"/><circle cx="101.2" cy="378.5" r="0.57" fill="rgb(125,125,125)"/><circle cx="88.7" cy="410.6" r="0.32" fill="rgb(63,63,63)"/><circle cx="97.0" cy="393.3" r="0.39" fill="rgb(101,101,101)"/><circle cx="96.0" cy="384.1" r="0.50" fill="rgb(86,86,86)"/><circle cx="110.6" cy="394.1" r="0.35" fill="rgb(65,65,65)"/><circle cx="115.7" cy="387.3" r="0.36" fill="rgb(60,60,60)"/><circle cx="102.1" cy="388.6" r="0.36" fill="rgb(98,98,98)"/><circle cx="98.4" cy="408.9" r="0.56" fill="rgb(98,98,98)"/><circle cx="82.0" cy="398.1" r="0.44" fill="rgb(101,101,101)"/><circle cx="98.1" cy="407.9" r="0.46" fill="rgb(137,137,137)"/><circle cx="104.1" cy="402.6" r="0.46" fill="rgb(111,111,111)"/><circle cx="85.7" cy="395.4" r="0.32" fill="rgb(65,65,65)"/><circle cx="99.2" cy="406.3" r="0.56" fill="rgb(117,117,117)"/><circle cx="85.4" cy="388.3" r="0.42" fill="rgb(123,123,123)"/><circle cx="85.0" cy="388.6" r="0.54" fill="rgb(136,136,136)"/><circle cx="95.9" cy="399.1" r="0.46" fill="rgb(79,79,79)"/><circle cx="105.5" cy="412.4" r="0.43" fill="rgb(81,81,81)"/><circle cx="85.3" cy="407.5" r="0.50" fill="rgb(93,93,93)"/><circle cx="117.6" cy="391.4" r="0.55" fill="rgb(117,117,117)"/><circle cx="93.3" cy="401.5" r="0.33" fill="rgb(78,78,78)"/><circle cx="117.6" cy="404.4" r="0.55" fill="rgb(133,133,133)"/><circle cx="101.8" cy="399.9" r="0.46" fill="rgb(118,118,118)"/><circle cx="90.4" cy="389.7" r="0.52" fill="rgb(107,107,107)"/><circle cx="88.2" cy="397.3" r="0.31" fill="rgb(95,95,95)"/><circle cx="92.8" cy="405.0" r="0.51" fill="rgb(80,80,80)"/><circle cx="105.2" cy="384.2" r="0.45" fill="rgb(118,118,118)"/><circle cx="100.0" cy="399.2" r="0.57" fill="rgb(84,84,84)"/><circle cx="111.1" cy="379.5" r="0.49" fill="rgb(123,123,123)"/><circle cx="106.2" cy="397.8" r="0.34" fill="rgb(127,127,127)"/><circle cx="114.5" cy="409.5" r="0.33" fill="rgb(93,93,93)"/><circle cx="102.6" cy="405.6" r="0.32" fill="rgb(99,99,99)"/><circle cx="90.0" cy="395.1" r="0.43" fill="rgb(66,66,66)"/><circle cx="91.9" cy="390.2" r="0.40" fill="rgb(86,86,86)"/><circle cx="118.9" cy="390.9" r="0.52" fill="rgb(85,85,85)"/><circle cx="110.5" cy="382.7" r="0.32" fill="rgb(115,115,115)"/><circle cx="102.9" cy="391.6" r="0.36" fill="rgb(138,138,138)"/><circle cx="103.5" cy="409.3" r="0.34" fill="rgb(90,90,90)"/><circle cx="111.1" cy="412.8" r="0.31" fill="rgb(76,76,76)"/><circle cx="95.6" cy="408.4" r="0.50" fill="rgb(65,65,65)"/><circle cx="83.4" cy="399.1" r="0.31" fill="rgb(79,79,79)"/><circle cx="82.5" cy="389.6" r="0.52" fill="rgb(62,62,62)"/><circle cx="85.7" cy="402.0" r="0.55" fill="rgb(88,88,88)"/><circle cx="90.7" cy="392.0" r="0.50" fill="rgb(86,86,86)"/><circle cx="98.9" cy="406.9" r="0.37" fill="rgb(135,135,135)"/><circle cx="98.2" cy="388.7" r="0.51" fill="rgb(75,75,75)"/><circle cx="91.5" cy="405.1" r="0.57" fill="rgb(78,78,78)"/><circle cx="99.2" cy="386.3" r="0.38" fill="rgb(88,88,88)"/><circle cx="105.1" cy="380.9" r="0.46" fill="rgb(85,85,85)"/><circle cx="102.6" cy="386.3" r="0.42" fill="rgb(91,91,91)"/><circle cx="97.3" cy="394.5" r="0.36" fill="rgb(86,86,86)"/><circle cx="108.8" cy="404.8" r="0.50" fill="rgb(78,78,78)"/><circle cx="115.6" cy="406.9" r="0.58" fill="rgb(129,129,129)"/><circle cx="105.2" cy="399.4" r="0.33" fill="rgb(136,136,136)"/><circle cx="107.4" cy="402.3" r="0.54" fill="rgb(108,108,108)"/><circle cx="112.0" cy="400.8" r="0.58" fill="rgb(90,90,90)"/><circle cx="91.2" cy="387.1" r="0.41" fill="rgb(90,90,90)"/><circle cx="100.8" cy="412.7" r="0.46" fill="rgb(72,72,72)"/><circle cx="103.5" cy="382.1" r="0.49" fill="rgb(95,95,95)"/><circle cx="106.4" cy="398.3" r="0.39" fill="rgb(67,67,67)"/><circle cx="92.0" cy="402.2" r="0.51" fill="rgb(87,87,87)"/><circle cx="106.2" cy="379.9" r="0.31" fill="rgb(116,116,116)"/><circle cx="94.9" cy="406.8" r="0.43" fill="rgb(109,109,109)"/><circle cx="86.6" cy="386.3" r="0.37" fill="rgb(105,105,105)"/><circle cx="116.6" cy="386.1" r="0.52" fill="rgb(98,98,98)"/><circle cx="115.2" cy="402.4" r="0.58" fill="rgb(107,107,107)"/><circle cx="100.7" cy="393.4" r="0.59" fill="rgb(99,99,99)"/><circle cx="111.8" cy="408.1" r="0.42" fill="rgb(88,88,88)"/><circle cx="116.6" cy="386.6" r="0.50" fill="rgb(88,88,88)"/><circle cx="99.1" cy="410.6" r="0.53" fill="rgb(74,74,74)"/><circle cx="104.6" cy="400.0" r="0.55" fill="rgb(61,61,61)"/><circle cx="95.1" cy="381.1" r="0.51" fill="rgb(133,133,133)"/><circle cx="106.3" cy="397.3" r="0.33" fill="rgb(64,64,64)"/><circle cx="108.9" cy="402.4" r="0.47" fill="rgb(85,85,85)"/><circle cx="84.6" cy="399.7" r="0.60" fill="rgb(93,93,93)"/><circle cx="101.1" cy="395.4" r="0.39" fill="rgb(93,93,93)"/><circle cx="102.0" cy="391.2" r="0.49" fill="rgb(129,129,129)"/><circle cx="109.3" cy="387.9" r="0.32" fill="rgb(133,133,133)"/><circle cx="99.9" cy="389.5" r="0.39" fill="rgb(132,132,132)"/><circle cx="93.0" cy="388.8" r="0.44" fill="rgb(111,111,111)"/><circle cx="101.1" cy="401.4" r="0.44" fill="rgb(133,133,133)"/><circle cx="90.7" cy="409.8" r="0.55" fill="rgb(116,116,116)"/><circle cx="102.8" cy="377.4" r="0.49" fill="rgb(122,122,122)"/><circle cx="104.6" cy="377.4" r="0.42" fill="rgb(73,73,73)"/><circle cx="85.2" cy="399.5" r="0.47" fill="rgb(77,77,77)"/><circle cx="95.2" cy="401.3" r="0.59" fill="rgb(77,77,77)"/><circle cx="102.6" cy="405.2" r="0.33" fill="rgb(89,89,89)"/><circle cx="95.7" cy="414.0" r="0.47" fill="rgb(91,91,91)"/><circle cx="83.1" cy="395.1" r="0.50" fill="rgb(117,117,117)"/><circle cx="92.6" cy="407.1" r="0.34" fill="rgb(63,63,63)"/><circle cx="83.6" cy="392.3" r="0.32" fill="rgb(92,92,92)"/><circle cx="99.3" cy="384.5" r="0.57" fill="rgb(86,86,86)"/><circle cx="82.2" cy="392.7" r="0.31" fill="rgb(139,139,139)"/><circle cx="100.5" cy="381.6" r="0.50" fill="rgb(63,63,63)"/><circle cx="88.5" cy="405.2" r="0.34" fill="rgb(68,68,68)"/><circle cx="95.5" cy="382.4" r="0.49" fill="rgb(71,71,71)"/><circle cx="93.9" cy="383.4" r="0.34" fill="rgb(115,115,115)"/><circle cx="108.4" cy="393.6" r="0.47" fill="rgb(66,66,66)"/><circle cx="109.2" cy="379.6" r="0.41" fill="rgb(95,95,95)"/><circle cx="99.0" cy="389.9" r="0.31" fill="rgb(113,113,113)"/><circle cx="116.1" cy="398.2" r="0.42" fill="rgb(105,105,105)"/><circle cx="101.2" cy="414.1" r="0.38" fill="rgb(110,110,110)"/><circle cx="111.4" cy="408.9" r="0.53" fill="rgb(136,136,136)"/><circle cx="102.6" cy="402.6" r="0.33" fill="rgb(108,108,108)"/><circle cx="102.6" cy="390.3" r="0.33" fill="rgb(84,84,84)"/><circle cx="110.6" cy="397.9" r="0.51" fill="rgb(82,82,82)"/><circle cx="82.6" cy="396.3" r="0.45" fill="rgb(91,91,91)"/><circle cx="93.3" cy="384.6" r="0.52" fill="rgb(90,90,90)"/><circle cx="107.2" cy="378.6" r="0.44" fill="rgb(76,76,76)"/><circle cx="84.4" cy="402.3" r="0.38" fill="rgb(78,78,78)"/><circle cx="97.0" cy="378.3" r="0.32" fill="rgb(125,125,125)"/><circle cx="89.8" cy="399.4" r="0.43" fill="rgb(121,121,121)"/><circle cx="101.7" cy="398.2" r="0.56" fill="rgb(135,135,135)"/><circle cx="86.3" cy="390.4" r="0.41" fill="rgb(104,104,104)"/><circle cx="96.7" cy="409.3" r="0.47" fill="rgb(84,84,84)"/><circle cx="88.2" cy="397.7" r="0.53" fill="rgb(64,64,64)"/><circle cx="98.7" cy="378.2" r="0.44" fill="rgb(74,74,74)"/><circle cx="89.2" cy="384.3" r="0.43" fill="rgb(97,97,97)"/><circle cx="114.1" cy="394.1" r="0.44" fill="rgb(137,137,137)"/><circle cx="100.7" cy="407.9" r="0.45" fill="rgb(118,118,118)"/><circle cx="103.5" cy="379.1" r="0.53" fill="rgb(101,101,101)"/><circle cx="100.4" cy="404.8" r="0.32" fill="rgb(122,122,122)"/><circle cx="106.9" cy="398.5" r="0.33" fill="rgb(90,90,90)"/><circle cx="108.1" cy="411.1" r="0.44" fill="rgb(70,70,70)"/><circle cx="84.5" cy="386.6" r="0.33" fill="rgb(86,86,86)"/><circle cx="104.1" cy="388.0" r="0.34" fill="rgb(121,121,121)"/><circle cx="119.5" cy="397.6" r="0.33" fill="rgb(112,112,112)"/><circle cx="100.5" cy="413.6" r="0.56" fill="rgb(68,68,68)"/><circle cx="112.4" cy="405.4" r="0.46" fill="rgb(74,74,74)"/><circle cx="104.2" cy="402.0" r="0.51" fill="rgb(89,89,89)"/><circle cx="86.7" cy="393.5" r="0.47" fill="rgb(100,100,100)"/><circle cx="109.4" cy="406.5" r="0.33" fill="rgb(66,66,66)"/><circle cx="101.6" cy="399.4" r="0.42" fill="rgb(72,72,72)"/><circle cx="120.6" cy="398.6" r="0.52" fill="rgb(130,130,130)"/><circle cx="100.2" cy="411.7" r="0.60" fill="rgb(74,74,74)"/><circle cx="98.4" cy="383.7" r="0.42" fill="rgb(96,96,96)"/><circle cx="111.1" cy="383.9" r="0.33" fill="rgb(68,68,68)"/><circle cx="104.1" cy="385.7" r="0.48" fill="rgb(94,94,94)"/><circle cx="96.6" cy="412.6" r="0.32" fill="rgb(116,116,116)"/><circle cx="84.8" cy="386.2" r="0.37" fill="rgb(112,112,112)"/><circle cx="98.8" cy="414.2" r="0.38" fill="rgb(122,122,122)"/><circle cx="89.7" cy="395.8" r="0.32" fill="rgb(125,125,125)"/><circle cx="120.7" cy="399.5" r="0.37" fill="rgb(78,78,78)"/><circle cx="111.3" cy="380.2" r="0.35" fill="rgb(107,107,107)"/><circle cx="101.6" cy="404.5" r="0.31" fill="rgb(60,60,60)"/><circle cx="87.0" cy="401.1" r="0.31" fill="rgb(70,70,70)"/><circle cx="103.7" cy="401.9" r="0.38" fill="rgb(66,66,66)"/><circle cx="100.7" cy="402.6" r="0.31" fill="rgb(69,69,69)"/><circle cx="96.1" cy="396.8" r="0.57" fill="rgb(111,111,111)"/><circle cx="103.6" cy="404.9" r="0.46" fill="rgb(118,118,118)"/><circle cx="119.3" cy="402.4" r="0.47" fill="rgb(62,62,62)"/><circle cx="106.4" cy="412.4" r="0.46" fill="rgb(71,71,71)"/><circle cx="88.6" cy="397.9" r="0.43" fill="rgb(97,97,97)"/><circle cx="98.8" cy="409.3" r="0.34" fill="rgb(71,71,71)"/><circle cx="89.0" cy="390.2" r="0.46" fill="rgb(106,106,106)"/><circle cx="92.9" cy="389.8" r="0.38" fill="rgb(138,138,138)"/><circle cx="101.1" cy="406.4" r="0.60" fill="rgb(62,62,62)"/><circle cx="112.5" cy="380.1" r="0.55" fill="rgb(96,96,96)"/><circle cx="103.7" cy="387.2" r="0.32" fill="rgb(103,103,103)"/><circle cx="105.2" cy="385.0" r="0.49" fill="rgb(126,126,126)"/><circle cx="91.7" cy="391.9" r="0.36" fill="rgb(122,122,122)"/><circle cx="108.7" cy="404.3" r="0.52" fill="rgb(113,113,113)"/><circle cx="117.7" cy="405.3" r="0.56" fill="rgb(76,76,76)"/><circle cx="82.7" cy="389.6" r="0.48" fill="rgb(66,66,66)"/><circle cx="92.6" cy="397.0" r="0.44" fill="rgb(119,119,119)"/><circle cx="113.1" cy="382.3" r="0.40" fill="rgb(78,78,78)"/><circle cx="100.4" cy="413.1" r="0.54" fill="rgb(126,126,126)"/><circle cx="116.6" cy="396.1" r="0.60" fill="rgb(62,62,62)"/><circle cx="110.5" cy="388.6" r="0.33" fill="rgb(87,87,87)"/><circle cx="86.0" cy="391.1" r="0.34" fill="rgb(118,118,118)"/><circle cx="85.4" cy="391.0" r="0.31" fill="rgb(125,125,125)"/><circle cx="90.4" cy="397.0" r="0.46" fill="rgb(103,103,103)"/><circle cx="85.9" cy="407.9" r="0.40" fill="rgb(110,110,110)"/><circle cx="112.0" cy="391.8" r="0.52" fill="rgb(122,122,122)"/><circle cx="108.8" cy="404.9" r="0.59" fill="rgb(78,78,78)"/><circle cx="84.2" cy="403.5" r="0.53" fill="rgb(109,109,109)"/><circle cx="102.6" cy="408.1" r="0.51" fill="rgb(125,125,125)"/><circle cx="116.8" cy="388.1" r="0.50" fill="rgb(113,113,113)"/><circle cx="100.1" cy="403.4" r="0.48" fill="rgb(107,107,107)"/><circle cx="107.9" cy="388.6" r="0.58" fill="rgb(79,79,79)"/><circle cx="87.5" cy="397.6" r="0.30" fill="rgb(111,111,111)"/><circle cx="108.7" cy="413.4" r="0.58" fill="rgb(70,70,70)"/><circle cx="105.5" cy="393.7" r="0.39" fill="rgb(101,101,101)"/><circle cx="91.7" cy="379.4" r="0.34" fill="rgb(84,84,84)"/><circle cx="117.2" cy="389.1" r="0.56" fill="rgb(89,89,89)"/><circle cx="94.9" cy="395.0" r="0.52" fill="rgb(90,90,90)"/><circle cx="95.0" cy="410.7" r="0.53" fill="rgb(74,74,74)"/><circle cx="104.4" cy="407.0" r="0.36" fill="rgb(121,121,121)"/><circle cx="84.1" cy="401.1" r="0.32" fill="rgb(111,111,111)"/><circle cx="115.2" cy="406.4" r="0.35" fill="rgb(64,64,64)"/><circle cx="109.2" cy="399.3" r="0.39" fill="rgb(109,109,109)"/><circle cx="117.0" cy="398.6" r="0.46" fill="rgb(106,106,106)"/><circle cx="88.5" cy="386.6" r="0.30" fill="rgb(75,75,75)"/><circle cx="99.2" cy="397.6" r="0.55" fill="rgb(93,93,93)"/><circle cx="113.9" cy="406.3" r="0.55" fill="rgb(108,108,108)"/><circle cx="85.0" cy="393.4" r="0.48" fill="rgb(121,121,121)"/><circle cx="106.3" cy="414.4" r="0.37" fill="rgb(98,98,98)"/><circle cx="110.2" cy="383.2" r="0.52" fill="rgb(89,89,89)"/><circle cx="85.4" cy="399.0" r="0.31" fill="rgb(130,130,130)"/><circle cx="101.5" cy="377.0" r="0.60" fill="rgb(126,126,126)"/><circle cx="92.5" cy="400.3" r="0.31" fill="rgb(88,88,88)"/><circle cx="97.0" cy="390.2" r="0.60" fill="rgb(128,128,128)"/><circle cx="85.9" cy="403.7" r="0.60" fill="rgb(82,82,82)"/><circle cx="115.4" cy="388.3" r="0.31" fill="rgb(103,103,103)"/><circle cx="102.5" cy="395.8" r="0.44" fill="rgb(133,133,133)"/><circle cx="113.6" cy="395.4" r="0.49" fill="rgb(87,87,87)"/><circle cx="99.8" cy="381.0" r="0.35" fill="rgb(62,62,62)"/><circle cx="91.8" cy="402.3" r="0.59" fill="rgb(111,111,111)"/><circle cx="90.6" cy="385.3" r="0.39" fill="rgb(64,64,64)"/><circle cx="107.4" cy="379.1" r="0.51" fill="rgb(73,73,73)"/><circle cx="112.8" cy="380.9" r="0.42" fill="rgb(97,97,97)"/><circle cx="110.8" cy="400.5" r="0.46" fill="rgb(67,67,67)"/><circle cx="104.9" cy="414.2" r="0.32" fill="rgb(73,73,73)"/><circle cx="114.0" cy="387.4" r="0.50" fill="rgb(108,108,108)"/><circle cx="106.2" cy="397.8" r="0.43" fill="rgb(85,85,85)"/><circle cx="84.3" cy="395.6" r="0.45" fill="rgb(107,107,107)"/><circle cx="104.6" cy="381.7" r="0.45" fill="rgb(64,64,64)"/><circle cx="93.3" cy="405.0" r="0.51" fill="rgb(76,76,76)"/><circle cx="102.6" cy="402.9" r="0.54" fill="rgb(112,112,112)"/><circle cx="109.1" cy="391.0" r="0.46" fill="rgb(60,60,60)"/><circle cx="110.7" cy="394.9" r="0.57" fill="rgb(88,88,88)"/><circle cx="92.8" cy="383.1" r="0.35" fill="rgb(118,118,118)"/><circle cx="92.4" cy="398.5" r="0.49" fill="rgb(108,108,108)"/><circle cx="84.1" cy="393.9" r="0.44" fill="rgb(72,72,72)"/><circle cx="110.8" cy="396.6" r="0.39" fill="rgb(67,67,67)"/><circle cx="116.7" cy="385.2" r="0.47" fill="rgb(83,83,83)"/><circle cx="99.7" cy="405.7" r="0.58" fill="rgb(98,98,98)"/><circle cx="116.9" cy="385.8" r="0.56" fill="rgb(134,134,134)"/><circle cx="102.7" cy="398.1" r="0.32" fill="rgb(85,85,85)"/><circle cx="102.1" cy="404.6" r="0.58" fill="rgb(100,100,100)"/><circle cx="94.5" cy="381.0" r="0.56" fill="rgb(97,97,97)"/><circle cx="91.6" cy="379.0" r="0.40" fill="rgb(64,64,64)"/><circle cx="94.3" cy="386.8" r="0.41" fill="rgb(90,90,90)"/><circle cx="105.1" cy="387.5" r="0.36" fill="rgb(118,118,118)"/><circle cx="90.8" cy="385.2" r="0.48" fill="rgb(75,75,75)"/><circle cx="109.4" cy="408.4" r="0.38" fill="rgb(115,115,115)"/><circle cx="101.9" cy="406.0" r="0.47" fill="rgb(63,63,63)"/><circle cx="86.8" cy="383.6" r="0.40" fill="rgb(67,67,67)"/><circle cx="115.6" cy="393.8" r="0.43" fill="rgb(98,98,98)"/><circle cx="84.4" cy="391.7" r="0.44" fill="rgb(64,64,64)"/><circle cx="106.8" cy="398.8" r="0.35" fill="rgb(90,90,90)"/><circle cx="105.0" cy="408.7" r="0.58" fill="rgb(129,129,129)"/><circle cx="91.5" cy="396.6" r="0.40" fill="rgb(103,103,103)"/><circle cx="110.8" cy="379.2" r="0.31" fill="rgb(61,61,61)"/><circle cx="96.2" cy="377.2" r="0.49" fill="rgb(81,81,81)"/><circle cx="118.2" cy="397.8" r="0.59" fill="rgb(99,99,99)"/><circle cx="107.6" cy="393.5" r="0.49" fill="rgb(76,76,76)"/><circle cx="110.6" cy="408.2" r="0.46" fill="rgb(121,121,121)"/><circle cx="82.8" cy="403.0" r="0.52" fill="rgb(129,129,129)"/><circle cx="96.4" cy="389.5" r="0.49" fill="rgb(76,76,76)"/><circle cx="100.4" cy="384.7" r="0.39" fill="rgb(103,103,103)"/><circle cx="110.7" cy="386.3" r="0.55" fill="rgb(82,82,82)"/><circle cx="86.9" cy="405.4" r="0.48" fill="rgb(79,79,79)"/><circle cx="95.0" cy="402.0" r="0.53" fill="rgb(113,113,113)"/><circle cx="90.3" cy="388.1" r="0.33" fill="rgb(119,119,119)"/><circle cx="110.3" cy="397.7" r="0.46" fill="rgb(118,118,118)"/><circle cx="95.5" cy="411.3" r="0.40" fill="rgb(87,87,87)"/><circle cx="104.8" cy="376.8" r="0.38" fill="rgb(139,139,139)"/><circle cx="93.6" cy="390.6" r="0.37" fill="rgb(74,74,74)"/><circle cx="99.4" cy="378.8" r="0.39" fill="rgb(95,95,95)"/><circle cx="97.5" cy="406.8" r="0.42" fill="rgb(124,124,124)"/><circle cx="103.7" cy="414.0" r="0.58" fill="rgb(72,72,72)"/><circle cx="86.9" cy="406.3" r="0.51" fill="rgb(101,101,101)"/><circle cx="93.0" cy="383.3" r="0.47" fill="rgb(134,134,134)"/><circle cx="84.6" cy="390.8" r="0.41" fill="rgb(96,96,96)"/><circle cx="93.3" cy="385.5" r="0.47" fill="rgb(74,74,74)"/><circle cx="92.9" cy="407.5" r="0.59" fill="rgb(126,126,126)"/><circle cx="107.1" cy="395.8" r="0.59" fill="rgb(132,132,132)"/><circle cx="90.5" cy="401.8" r="0.33" fill="rgb(96,96,96)"/><circle cx="97.3" cy="387.1" r="0.44" fill="rgb(76,76,76)"/><circle cx="103.8" cy="391.4" r="0.58" fill="rgb(104,104,104)"/><circle cx="106.4" cy="390.4" r="0.31" fill="rgb(81,81,81)"/><circle cx="102.2" cy="391.1" r="0.55" fill="rgb(108,108,108)"/><circle cx="93.8" cy="379.4" r="0.31" fill="rgb(108,108,108)"/><circle cx="109.7" cy="412.6" r="0.41" fill="rgb(70,70,70)"/><circle cx="86.6" cy="404.7" r="0.53" fill="rgb(139,139,139)"/><circle cx="104.5" cy="399.7" r="0.34" fill="rgb(98,98,98)"/><circle cx="89.0" cy="405.7" r="0.41" fill="rgb(99,99,99)"/><circle cx="84.6" cy="406.8" r="0.34" fill="rgb(122,122,122)"/><circle cx="84.6" cy="398.5" r="0.39" fill="rgb(137,137,137)"/><circle cx="107.5" cy="380.1" r="0.31" fill="rgb(69,69,69)"/><circle cx="106.8" cy="398.8" r="0.31" fill="rgb(115,115,115)"/><circle cx="102.5" cy="381.0" r="0.39" fill="rgb(134,134,134)"/><circle cx="115.3" cy="383.1" r="0.42" fill="rgb(99,99,99)"/><circle cx="83.7" cy="392.2" r="0.49" fill="rgb(130,130,130)"/><circle cx="102.0" cy="398.6" r="0.54" fill="rgb(125,125,125)"/><circle cx="95.7" cy="405.0" r="0.41" fill="rgb(128,128,128)"/><circle cx="110.2" cy="409.2" r="0.49" fill="rgb(139,139,139)"/><circle cx="109.3" cy="399.7" r="0.60" fill="rgb(85,85,85)"/><circle cx="104.3" cy="406.4" r="0.39" fill="rgb(63,63,63)"/><circle cx="107.7" cy="387.3" r="0.60" fill="rgb(119,119,119)"/><circle cx="108.1" cy="403.3" r="0.31" fill="rgb(90,90,90)"/><circle cx="119.8" cy="400.0" r="0.43" fill="rgb(138,138,138)"/><circle cx="109.1" cy="391.4" r="0.50" fill="rgb(92,92,92)"/><circle cx="96.9" cy="411.6" r="0.59" fill="rgb(108,108,108)"/><circle cx="106.0" cy="385.5" r="0.45" fill="rgb(106,106,106)"/><circle cx="86.7" cy="394.5" r="0.31" fill="rgb(96,96,96)"/><circle cx="107.1" cy="403.8" r="0.58" fill="rgb(136,136,136)"/><circle cx="92.0" cy="379.6" r="0.49" fill="rgb(122,122,122)"/><circle cx="100.2" cy="404.5" r="0.58" fill="rgb(62,62,62)"/><circle cx="92.1" cy="413.4" r="0.46" fill="rgb(62,62,62)"/><circle cx="105.4" cy="394.6" r="0.53" fill="rgb(139,139,139)"/><circle cx="96.9" cy="415.1" r="0.38" fill="rgb(123,123,123)"/><circle cx="109.8" cy="391.5" r="0.55" fill="rgb(129,129,129)"/><circle cx="94.3" cy="383.4" r="0.35" fill="rgb(84,84,84)"/><circle cx="94.4" cy="399.3" r="0.48" fill="rgb(102,102,102)"/><circle cx="100.2" cy="383.8" r="0.52" fill="rgb(94,94,94)"/><circle cx="96.9" cy="400.5" r="0.35" fill="rgb(130,130,130)"/><circle cx="110.3" cy="399.4" r="0.53" fill="rgb(127,127,127)"/><circle cx="113.2" cy="406.5" r="0.58" fill="rgb(129,129,129)"/><circle cx="83.3" cy="391.5" r="0.31" fill="rgb(88,88,88)"/><circle cx="106.9" cy="404.5" r="0.59" fill="rgb(63,63,63)"/><circle cx="119.9" cy="396.0" r="0.43" fill="rgb(102,102,102)"/><circle cx="94.3" cy="409.2" r="0.53" fill="rgb(70,70,70)"/><circle cx="91.5" cy="410.8" r="0.38" fill="rgb(68,68,68)"/><circle cx="109.5" cy="380.5" r="0.47" fill="rgb(112,112,112)"/><circle cx="117.2" cy="394.5" r="0.36" fill="rgb(85,85,85)"/><circle cx="83.9" cy="404.0" r="0.56" fill="rgb(73,73,73)"/><circle cx="101.6" cy="387.9" r="0.32" fill="rgb(61,61,61)"/><circle cx="91.3" cy="394.8" r="0.47" fill="rgb(117,117,117)"/><circle cx="90.2" cy="405.9" r="0.51" fill="rgb(117,117,117)"/><circle cx="107.7" cy="403.6" r="0.48" fill="rgb(76,76,76)"/><circle cx="114.1" cy="391.9" r="0.42" fill="rgb(64,64,64)"/><circle cx="97.8" cy="408.9" r="0.59" fill="rgb(137,137,137)"/><circle cx="85.3" cy="390.2" r="0.47" fill="rgb(61,61,61)"/><circle cx="87.8" cy="383.8" r="0.43" fill="rgb(94,94,94)"/><circle cx="105.6" cy="390.2" r="0.51" fill="rgb(136,136,136)"/><circle cx="113.8" cy="382.4" r="0.58" fill="rgb(91,91,91)"/><circle cx="98.4" cy="380.6" r="0.45" fill="rgb(70,70,70)"/><circle cx="94.1" cy="393.1" r="0.44" fill="rgb(86,86,86)"/><circle cx="103.0" cy="405.7" r="0.34" fill="rgb(91,91,91)"/><circle cx="96.6" cy="407.6" r="0.37" fill="rgb(80,80,80)"/><circle cx="87.0" cy="403.7" r="0.40" fill="rgb(64,64,64)"/><circle cx="98.0" cy="410.8" r="0.34" fill="rgb(67,67,67)"/><circle cx="114.9" cy="390.7" r="0.35" fill="rgb(107,107,107)"/><circle cx="106.9" cy="396.6" r="0.41" fill="rgb(63,63,63)"/><circle cx="102.1" cy="415.4" r="0.30" fill="rgb(63,63,63)"/><circle cx="102.7" cy="396.9" r="0.42" fill="rgb(98,98,98)"/><circle cx="94.5" cy="414.2" r="0.36" fill="rgb(119,119,119)"/><circle cx="116.6" cy="406.4" r="0.32" fill="rgb(128,128,128)"/><circle cx="109.5" cy="383.0" r="0.52" fill="rgb(122,122,122)"/><circle cx="93.5" cy="412.6" r="0.58" fill="rgb(63,63,63)"/><circle cx="116.5" cy="401.2" r="0.49" fill="rgb(97,97,97)"/><circle cx="116.5" cy="388.9" r="0.51" fill="rgb(99,99,99)"/><circle cx="96.1" cy="401.5" r="0.38" fill="rgb(70,70,70)"/><circle cx="111.8" cy="388.4" r="0.40" fill="rgb(115,115,115)"/><circle cx="108.6" cy="382.1" r="0.32" fill="rgb(80,80,80)"/><circle cx="102.5" cy="387.7" r="0.34" fill="rgb(120,120,120)"/><circle cx="107.2" cy="380.6" r="0.43" fill="rgb(74,74,74)"/><circle cx="96.5" cy="389.0" r="0.35" fill="rgb(75,75,75)"/><circle cx="118.9" cy="403.8" r="0.46" fill="rgb(77,77,77)"/><circle cx="105.6" cy="405.3" r="0.36" fill="rgb(131,131,131)"/><circle cx="117.5" cy="403.9" r="0.43" fill="rgb(100,100,100)"/><circle cx="112.2" cy="391.5" r="0.42" fill="rgb(122,122,122)"/><circle cx="85.8" cy="403.1" r="0.31" fill="rgb(91,91,91)"/><circle cx="99.6" cy="414.4" r="0.48" fill="rgb(85,85,85)"/><circle cx="87.3" cy="385.0" r="0.50" fill="rgb(90,90,90)"/><circle cx="94.4" cy="403.4" r="0.54" fill="rgb(65,65,65)"/><circle cx="112.0" cy="401.8" r="0.38" fill="rgb(111,111,111)"/><circle cx="83.2" cy="395.9" r="0.40" fill="rgb(119,119,119)"/><circle cx="116.4" cy="385.6" r="0.37" fill="rgb(125,125,125)"/><circle cx="85.2" cy="407.6" r="0.37" fill="rgb(107,107,107)"/><circle cx="89.9" cy="399.9" r="0.39" fill="rgb(105,105,105)"/><circle cx="114.4" cy="391.4" r="0.31" fill="rgb(99,99,99)"/><circle cx="102.2" cy="404.9" r="0.32" fill="rgb(93,93,93)"/><circle cx="95.2" cy="413.1" r="0.57" fill="rgb(99,99,99)"/><circle cx="88.6" cy="404.4" r="0.41" fill="rgb(129,129,129)"/><circle cx="88.7" cy="398.5" r="0.38" fill="rgb(102,102,102)"/><circle cx="99.5" cy="386.9" r="0.34" fill="rgb(65,65,65)"/><circle cx="108.9" cy="407.6" r="0.43" fill="rgb(121,121,121)"/><circle cx="104.5" cy="401.5" r="0.42" fill="rgb(121,121,121)"/><circle cx="117.4" cy="398.5" r="0.59" fill="rgb(125,125,125)"/><circle cx="103.6" cy="393.4" r="0.47" fill="rgb(114,114,114)"/><circle cx="96.3" cy="400.5" r="0.53" fill="rgb(71,71,71)"/><circle cx="94.4" cy="410.2" r="0.52" fill="rgb(106,106,106)"/><circle cx="98.1" cy="384.2" r="0.45" fill="rgb(71,71,71)"/><circle cx="100.3" cy="413.1" r="0.48" fill="rgb(104,104,104)"/><circle cx="99.7" cy="379.3" r="0.55" fill="rgb(98,98,98)"/><circle cx="103.3" cy="378.5" r="0.54" fill="rgb(67,67,67)"/><circle cx="88.5" cy="391.2" r="0.56" fill="rgb(121,121,121)"/><circle cx="103.1" cy="391.9" r="0.35" fill="rgb(130,130,130)"/><circle cx="83.2" cy="390.0" r="0.50" fill="rgb(77,77,77)"/><circle cx="97.2" cy="402.9" r="0.54" fill="rgb(128,128,128)"/><circle cx="105.5" cy="393.4" r="0.32" fill="rgb(76,76,76)"/><circle cx="113.7" cy="402.0" r="0.55" fill="rgb(125,125,125)"/><circle cx="112.4" cy="396.7" r="0.59" fill="rgb(85,85,85)"/><circle cx="97.8" cy="413.0" r="0.36" fill="rgb(73,73,73)"/><circle cx="92.8" cy="383.7" r="0.35" fill="rgb(105,105,105)"/><circle cx="110.7" cy="380.5" r="0.47" fill="rgb(79,79,79)"/><circle cx="97.0" cy="403.6" r="0.47" fill="rgb(135,135,135)"/><circle cx="112.0" cy="403.4" r="0.59" fill="rgb(80,80,80)"/><circle cx="98.2" cy="409.4" r="0.33" fill="rgb(86,86,86)"/><circle cx="113.8" cy="385.2" r="0.56" fill="rgb(133,133,133)"/><circle cx="89.2" cy="386.8" r="0.42" fill="rgb(115,115,115)"/><circle cx="100.1" cy="388.8" r="0.51" fill="rgb(106,106,106)"/><circle cx="103.9" cy="399.2" r="0.53" fill="rgb(93,93,93)"/><circle cx="98.1" cy="403.5" r="0.52" fill="rgb(116,116,116)"/><circle cx="99.6" cy="403.8" r="0.35" fill="rgb(94,94,94)"/><circle cx="119.2" cy="397.3" r="0.36" fill="rgb(102,102,102)"/><circle cx="98.1" cy="406.8" r="0.58" fill="rgb(94,94,94)"/><circle cx="103.4" cy="389.8" r="0.44" fill="rgb(116,116,116)"/><circle cx="101.1" cy="401.1" r="0.59" fill="rgb(109,109,109)"/><circle cx="119.7" cy="399.8" r="0.40" fill="rgb(128,128,128)"/><circle cx="97.7" cy="379.7" r="0.49" fill="rgb(115,115,115)"/><circle cx="108.1" cy="378.9" r="0.45" fill="rgb(79,79,79)"/><circle cx="106.5" cy="392.6" r="0.54" fill="rgb(104,104,104)"/><circle cx="114.2" cy="386.6" r="0.45" fill="rgb(101,101,101)"/><circle cx="100.1" cy="407.5" r="0.57" fill="rgb(115,115,115)"/><circle cx="119.3" cy="390.0" r="0.37" fill="rgb(81,81,81)"/><circle cx="117.5" cy="405.2" r="0.40" fill="rgb(104,104,104)"/><circle cx="90.6" cy="381.5" r="0.36" fill="rgb(118,118,118)"/><circle cx="98.7" cy="395.0" r="0.47" fill="rgb(82,82,82)"/><circle cx="95.5" cy="388.9" r="0.41" fill="rgb(114,114,114)"/><circle cx="119.5" cy="403.2" r="0.48" fill="rgb(104,104,104)"/><circle cx="110.2" cy="410.7" r="0.35" fill="rgb(65,65,65)"/><circle cx="109.8" cy="381.0" r="0.35" fill="rgb(95,95,95)"/><circle cx="90.9" cy="397.0" r="0.35" fill="rgb(89,89,89)"/><circle cx="116.5" cy="386.6" r="0.40" fill="rgb(138,138,138)"/><circle cx="86.2" cy="402.7" r="0.34" fill="rgb(133,133,133)"/><circle cx="104.5" cy="399.9" r="0.37" fill="rgb(63,63,63)"/><circle cx="97.1" cy="408.6" r="0.53" fill="rgb(114,114,114)"/><circle cx="115.4" cy="385.5" r="0.60" fill="rgb(84,84,84)"/><circle cx="97.1" cy="402.1" r="0.57" fill="rgb(131,131,131)"/><circle cx="93.4" cy="399.7" r="0.58" fill="rgb(85,85,85)"/><circle cx="114.9" cy="405.8" r="0.49" fill="rgb(62,62,62)"/><circle cx="106.8" cy="381.7" r="0.32" fill="rgb(60,60,60)"/><circle cx="84.0" cy="397.1" r="0.42" fill="rgb(70,70,70)"/><circle cx="103.0" cy="395.5" r="0.36" fill="rgb(138,138,138)"/><circle cx="108.1" cy="412.9" r="0.52" fill="rgb(137,137,137)"/><circle cx="109.3" cy="396.4" r="0.47" fill="rgb(137,137,137)"/><circle cx="106.4" cy="378.9" r="0.37" fill="rgb(105,105,105)"/><circle cx="94.3" cy="413.0" r="0.36" fill="rgb(137,137,137)"/><circle cx="94.1" cy="380.1" r="0.47" fill="rgb(74,74,74)"/><circle cx="95.2" cy="385.2" r="0.40" fill="rgb(90,90,90)"/><circle cx="99.9" cy="377.3" r="0.33" fill="rgb(107,107,107)"/><circle cx="100.1" cy="383.9" r="0.44" fill="rgb(133,133,133)"/><circle cx="89.1" cy="386.6" r="0.50" fill="rgb(131,131,131)"/><circle cx="86.8" cy="391.2" r="0.51" fill="rgb(108,108,108)"/><circle cx="112.5" cy="390.2" r="0.52" fill="rgb(99,99,99)"/><circle cx="113.6" cy="383.1" r="0.48" fill="rgb(116,116,116)"/><circle cx="104.4" cy="399.6" r="0.53" fill="rgb(69,69,69)"/><circle cx="110.0" cy="399.2" r="0.42" fill="rgb(111,111,111)"/><circle cx="120.3" cy="399.1" r="0.30" fill="rgb(129,129,129)"/><circle cx="84.6" cy="386.7" r="0.44" fill="rgb(69,69,69)"/><circle cx="87.2" cy="410.0" r="0.32" fill="rgb(65,65,65)"/><circle cx="88.5" cy="400.9" r="0.48" fill="rgb(91,91,91)"/><circle cx="97.9" cy="412.7" r="0.59" fill="rgb(94,94,94)"/><circle cx="115.1" cy="403.4" r="0.49" fill="rgb(76,76,76)"/><circle cx="91.6" cy="393.4" r="0.46" fill="rgb(91,91,91)"/><circle cx="88.1" cy="382.5" r="0.57" fill="rgb(106,106,106)"/><circle cx="88.5" cy="388.3" r="0.50" fill="rgb(71,71,71)"/><circle cx="110.4" cy="395.7" r="0.48" fill="rgb(124,124,124)"/><circle cx="109.7" cy="400.5" r="0.34" fill="rgb(98,98,98)"/><circle cx="111.7" cy="402.1" r="0.38" fill="rgb(137,137,137)"/><circle cx="109.5" cy="394.6" r="0.56" fill="rgb(91,91,91)"/><circle cx="86.0" cy="406.6" r="0.48" fill="rgb(105,105,105)"/><circle cx="107.9" cy="379.9" r="0.46" fill="rgb(70,70,70)"/><circle cx="111.1" cy="391.7" r="0.58" fill="rgb(72,72,72)"/><circle cx="91.4" cy="381.4" r="0.33" fill="rgb(111,111,111)"/><circle cx="108.9" cy="390.8" r="0.45" fill="rgb(127,127,127)"/><circle cx="94.8" cy="402.9" r="0.55" fill="rgb(132,132,132)"/><circle cx="113.1" cy="411.5" r="0.59" fill="rgb(75,75,75)"/><circle cx="90.9" cy="386.2" r="0.55" fill="rgb(119,119,119)"/><circle cx="85.5" cy="405.5" r="0.43" fill="rgb(130,130,130)"/><circle cx="100.1" cy="380.3" r="0.48" fill="rgb(106,106,106)"/><circle cx="111.1" cy="411.4" r="0.33" fill="rgb(112,112,112)"/><circle cx="92.1" cy="394.1" r="0.53" fill="rgb(96,96,96)"/><circle cx="117.6" cy="400.6" r="0.33" fill="rgb(92,92,92)"/><circle cx="116.8" cy="407.7" r="0.38" fill="rgb(93,93,93)"/><circle cx="101.3" cy="394.8" r="0.46" fill="rgb(136,136,136)"/><circle cx="114.7" cy="402.4" r="0.46" fill="rgb(128,128,128)"/><circle cx="112.8" cy="399.0" r="0.30" fill="rgb(72,72,72)"/><circle cx="96.6" cy="380.1" r="0.42" fill="rgb(67,67,67)"/><circle cx="99.4" cy="387.5" r="0.34" fill="rgb(103,103,103)"/><circle cx="116.1" cy="403.9" r="0.50" fill="rgb(85,85,85)"/><circle cx="88.6" cy="382.8" r="0.44" fill="rgb(68,68,68)"/><circle cx="117.8" cy="401.9" r="0.51" fill="rgb(97,97,97)"/><circle cx="113.0" cy="385.0" r="0.40" fill="rgb(73,73,73)"/><circle cx="105.2" cy="385.2" r="0.44" fill="rgb(108,108,108)"/><circle cx="93.1" cy="380.3" r="0.56" fill="rgb(112,112,112)"/><circle cx="107.6" cy="412.6" r="0.48" fill="rgb(75,75,75)"/><circle cx="110.9" cy="382.7" r="0.55" fill="rgb(63,63,63)"/><circle cx="97.7" cy="402.2" r="0.41" fill="rgb(137,137,137)"/><circle cx="113.1" cy="409.8" r="0.33" fill="rgb(111,111,111)"/><circle cx="119.9" cy="399.3" r="0.57" fill="rgb(136,136,136)"/><circle cx="103.2" cy="391.8" r="0.39" fill="rgb(133,133,133)"/><circle cx="94.8" cy="401.7" r="0.31" fill="rgb(82,82,82)"/><circle cx="106.1" cy="394.3" r="0.32" fill="rgb(139,139,139)"/><circle cx="101.5" cy="401.8" r="0.34" fill="rgb(135,135,135)"/><circle cx="98.7" cy="378.8" r="0.36" fill="rgb(117,117,117)"/><circle cx="105.8" cy="386.3" r="0.32" fill="rgb(130,130,130)"/><circle cx="107.0" cy="398.3" r="0.58" fill="rgb(75,75,75)"/><circle cx="100.9" cy="398.0" r="0.46" fill="rgb(104,104,104)"/><circle cx="103.4" cy="412.6" r="0.30" fill="rgb(93,93,93)"/><circle cx="93.6" cy="405.6" r="0.35" fill="rgb(81,81,81)"/><circle cx="82.9" cy="399.2" r="0.57" fill="rgb(75,75,75)"/><circle cx="114.8" cy="403.6" r="0.49" fill="rgb(69,69,69)"/><circle cx="97.0" cy="412.0" r="0.38" fill="rgb(127,127,127)"/><circle cx="105.6" cy="387.5" r="0.32" fill="rgb(96,96,96)"/><circle cx="83.5" cy="403.5" r="0.45" fill="rgb(73,73,73)"/><circle cx="116.8" cy="402.5" r="0.53" fill="rgb(78,78,78)"/><circle cx="88.0" cy="381.7" r="0.51" fill="rgb(76,76,76)"/><circle cx="97.0" cy="392.4" r="0.59" fill="rgb(101,101,101)"/><circle cx="107.2" cy="386.1" r="0.40" fill="rgb(109,109,109)"/><circle cx="104.2" cy="379.4" r="0.53" fill="rgb(73,73,73)"/><circle cx="116.3" cy="391.4" r="0.41" fill="rgb(125,125,125)"/><circle cx="114.8" cy="405.8" r="0.49" fill="rgb(119,119,119)"/><circle cx="107.1" cy="390.8" r="0.33" fill="rgb(102,102,102)"/><circle cx="104.5" cy="387.3" r="0.54" fill="rgb(69,69,69)"/><circle cx="85.0" cy="395.3" r="0.53" fill="rgb(125,125,125)"/><circle cx="119.0" cy="393.6" r="0.35" fill="rgb(131,131,131)"/><circle cx="117.9" cy="404.0" r="0.55" fill="rgb(94,94,94)"/><circle cx="112.4" cy="383.6" r="0.50" fill="rgb(94,94,94)"/><circle cx="85.3" cy="391.0" r="0.39" fill="rgb(65,65,65)"/><circle cx="86.0" cy="392.8" r="0.40" fill="rgb(85,85,85)"/><circle cx="100.9" cy="405.9" r="0.7" fill="rgb(81,81,81)"/><circle cx="93.6" cy="411.9" r="0.7" fill="rgb(59,59,59)"/><circle cx="93.9" cy="410.7" r="0.5" fill="rgb(63,63,63)"/><circle cx="97.4" cy="410.9" r="0.9" fill="rgb(60,60,60)"/><circle cx="99.8" cy="380.6" r="0.9" fill="rgb(96,96,96)"/><circle cx="112.4" cy="387.7" r="0.5" fill="rgb(73,73,73)"/><circle cx="112.1" cy="391.6" r="0.5" fill="rgb(65,65,65)"/><circle cx="116.4" cy="398.6" r="0.5" fill="rgb(55,55,55)"/><circle cx="96.2" cy="402.1" r="0.7" fill="rgb(63,63,63)"/><circle cx="102.6" cy="398.4" r="0.7" fill="rgb(83,83,83)"/><circle cx="117.4" cy="386.8" r="0.5" fill="rgb(67,67,67)"/><circle cx="112.1" cy="410.2" r="0.9" fill="rgb(66,66,66)"/><circle cx="103.3" cy="384.9" r="0.9" fill="rgb(85,85,85)"/><circle cx="86.1" cy="397.8" r="0.5" fill="rgb(74,74,74)"/><circle cx="103.9" cy="385.4" r="0.5" fill="rgb(76,76,76)"/><circle cx="115.9" cy="385.4" r="0.7" fill="rgb(42,42,42)"/><circle cx="88.1" cy="407.7" r="0.5" fill="rgb(86,86,86)"/><circle cx="108.2" cy="385.7" r="0.9" fill="rgb(50,50,50)"/><circle cx="94.8" cy="406.9" r="0.9" fill="rgb(65,65,65)"/><circle cx="116.9" cy="386.8" r="0.5" fill="rgb(89,89,89)"/><circle cx="94.6" cy="385.8" r="0.5" fill="rgb(67,67,67)"/><circle cx="102.4" cy="385.9" r="0.9" fill="rgb(64,64,64)"/><circle cx="103.6" cy="393.3" r="0.5" fill="rgb(56,56,56)"/><circle cx="115.4" cy="395.6" r="0.9" fill="rgb(43,43,43)"/><circle cx="86.7" cy="397.4" r="0.5" fill="rgb(79,79,79)"/><circle cx="102.0" cy="387.0" r="0.5" fill="rgb(70,70,70)"/><circle cx="109.5" cy="387.3" r="0.9" fill="rgb(47,47,47)"/><circle cx="100.8" cy="406.3" r="0.5" fill="rgb(59,59,59)"/><circle cx="89.8" cy="409.8" r="0.5" fill="rgb(47,47,47)"/><circle cx="99.5" cy="406.5" r="0.9" fill="rgb(84,84,84)"/><circle cx="99.9" cy="378.3" r="0.5" fill="rgb(88,88,88)"/><circle cx="94.4" cy="402.8" r="0.5" fill="rgb(57,57,57)"/><circle cx="100.6" cy="397.3" r="0.5" fill="rgb(90,90,90)"/><circle cx="106.9" cy="390.0" r="0.7" fill="rgb(84,84,84)"/><circle cx="97.9" cy="392.8" r="0.7" fill="rgb(83,83,83)"/><circle cx="114.2" cy="385.6" r="0.9" fill="rgb(64,64,64)"/><circle cx="103.4" cy="399.7" r="0.7" fill="rgb(59,59,59)"/><circle cx="102.5" cy="397.8" r="0.9" fill="rgb(59,59,59)"/><circle cx="109.6" cy="409.1" r="0.5" fill="rgb(80,80,80)"/><circle cx="111.2" cy="396.5" r="0.9" fill="rgb(71,71,71)"/><circle cx="98.1" cy="411.4" r="0.9" fill="rgb(43,43,43)"/><circle cx="93.9" cy="403.0" r="0.7" fill="rgb(89,89,89)"/><circle cx="99.3" cy="394.2" r="0.9" fill="rgb(66,66,66)"/><circle cx="89.8" cy="402.4" r="0.5" fill="rgb(62,62,62)"/><circle cx="94.2" cy="404.8" r="0.5" fill="rgb(89,89,89)"/></g></g><circle cx="101.2" cy="396.0" r="19.8" fill="url(#well)"/><circle cx="141.6" cy="396.0" r="19.8" fill="#b6b6b6"/><clipPath id="c41"><circle cx="141.6" cy="396.0" r="19.5"/></clipPath><g clip-path="url(#c41)"><g filter="url(#blur2)"><circle cx="125.2" cy="390.5" r="4.3" fill="#fff" fill-opacity="0.28"/><circle cx="128.0" cy="399.6" r="4.7" fill="#000" fill-opacity="0.1"/><circle cx="133.5" cy="413.8" r="2.6" fill="#000" fill-opacity="0.1"/><circle cx="123.7" cy="403.8" r="4.3" fill="#fff" fill-opacity="0.28"/><circle cx="148.7" cy="382.0" r="4.8" fill="#000" fill-opacity="0.1"/><circle cx="152.0" cy="401.2" r="4.9" fill="#000" fill-opacity="0.1"/><circle cx="154.6" cy="399.1" r="2.8" fill="#000" fill-opacity="0.1"/><circle cx="147.1" cy="400.1" r="2.9" fill="#fff" fill-opacity="0.28"/><circle cx="140.9" cy="413.9" r="4.2" fill="#fff" fill-opacity="0.28"/><circle cx="146.7" cy="377.3" r="4.1" fill="#fff" fill-opacity="0.28"/><circle cx="147.3" cy="398.8" r="4.6" fill="#000" fill-opacity="0.1"/><circle cx="160.6" cy="392.0" r="3.8" fill="#fff" fill-opacity="0.28"/><circle cx="158.2" cy="395.1" r="3.0" fill="#fff" fill-opacity="0.28"/><circle cx="129.3" cy="397.3" r="4.0" fill="#000" fill-opacity="0.1"/></g><g filter="url(#blur1)"><circle cx="136.8" cy="401.6" r="1.7" fill="#222" fill-opacity="0.85"/><circle cx="131.8" cy="393.1" r="0.45" fill="rgb(106,106,106)"/><circle cx="130.2" cy="400.0" r="0.44" fill="rgb(104,104,104)"/><circle cx="149.7" cy="396.9" r="0.43" fill="rgb(65,65,65)"/><circle cx="159.9" cy="390.7" r="0.59" fill="rgb(92,92,92)"/><circle cx="143.4" cy="408.1" r="0.45" fill="rgb(131,131,131)"/><circle cx="141.5" cy="411.6" r="0.47" fill="rgb(74,74,74)"/><circle cx="135.3" cy="403.9" r="0.47" fill="rgb(72,72,72)"/><circle cx="140.0" cy="378.9" r="0.40" fill="rgb(76,76,76)"/><circle cx="143.7" cy="412.4" r="0.50" fill="rgb(139,139,139)"/><circle cx="139.6" cy="387.6" r="0.42" fill="rgb(94,94,94)"/><circle cx="141.6" cy="393.0" r="0.45" fill="rgb(106,106,106)"/><circle cx="136.5" cy="380.0" r="0.43" fill="rgb(71,71,71)"/><circle cx="145.5" cy="384.3" r="0.58" fill="rgb(60,60,60)"/><circle cx="146.1" cy="409.9" r="0.54" fill="rgb(68,68,68)"/><circle cx="141.0" cy="399.6" r="0.37" fill="rgb(103,103,103)"/><circle cx="123.0" cy="401.6" r="0.34" fill="rgb(66,66,66)"/><circle cx="132.9" cy="399.1" r="0.33" fill="rgb(129,129,129)"/><circle cx="144.8" cy="393.4" r="0.30" fill="rgb(78,78,78)"/><circle cx="150.6" cy="404.0" r="0.34" fill="rgb(88,88,88)"/><circle cx="145.1" cy="407.6" r="0.58" fill="rgb(62,62,62)"/><circle cx="142.8" cy="392.3" r="0.38" fill="rgb(84,84,84)"/><circle cx="134.1" cy="380.5" r="0.50" fill="rgb(64,64,64)"/><circle cx="147.9" cy="396.2" r="0.34" fill="rgb(98,98,98)"/><circle cx="154.6" cy="408.8" r="0.53" fill="rgb(118,118,118)"/><circle cx="153.6" cy="403.9" r="0.56" fill="rgb(60,60,60)"/><circle cx="129.5" cy="390.3" r="0.49" fill="rgb(84,84,84)"/><circle cx="156.5" cy="404.8" r="0.53" fill="rgb(134,134,134)"/><circle cx="159.4" cy="396.5" r="0.59" fill="rgb(133,133,133)"/><circle cx="149.6" cy="397.4" r="0.39" fill="rgb(94,94,94)"/><circle cx="146.8" cy="411.5" r="0.44" fill="rgb(80,80,80)"/><circle cx="137.1" cy="379.1" r="0.32" fill="rgb(136,136,136)"/><circle cx="135.9" cy="413.5" r="0.54" fill="rgb(73,73,73)"/><circle cx="133.5" cy="412.9" r="0.57" fill="rgb(96,96,96)"/><circle cx="140.2" cy="391.2" r="0.39" fill="rgb(86,86,86)"/><circle cx="127.2" cy="395.7" r="0.47" fill="rgb(81,81,81)"/><circle cx="154.5" cy="409.5" r="0.38" fill="rgb(117,117,117)"/><circle cx="150.6" cy="409.5" r="0.54" fill="rgb(97,97,97)"/><circle cx="147.4" cy="393.2" r="0.44" fill="rgb(78,78,78)"/><circle cx="130.7" cy="412.4" r="0.49" fill="rgb(92,92,92)"/><circle cx="160.4" cy="398.6" r="0.51" fill="rgb(67,67,67)"/><circle cx="135.7" cy="403.4" r="0.56" fill="rgb(121,121,121)"/><circle cx="136.0" cy="405.9" r="0.40" fill="rgb(74,74,74)"/><circle cx="128.1" cy="397.5" r="0.35" fill="rgb(71,71,71)"/><circle cx="135.3" cy="391.7" r="0.55" fill="rgb(130,130,130)"/><circle cx="133.3" cy="394.0" r="0.46" fill="rgb(113,113,113)"/><circle cx="126.2" cy="402.9" r="0.48" fill="rgb(81,81,81)"/><circle cx="148.8" cy="388.8" r="0.48" fill="rgb(61,61,61)"/><circle cx="141.7" cy="401.4" r="0.43" fill="rgb(86,86,86)"/><circle cx="137.6" cy="408.9" r="0.41" fill="rgb(132,132,132)"/><circle cx="141.9" cy="402.2" r="0.56" fill="rgb(62,62,62)"/><circle cx="141.0" cy="386.6" r="0.59" fill="rgb(90,90,90)"/><circle cx="137.5" cy="402.3" r="0.59" fill="rgb(110,110,110)"/><circle cx="126.5" cy="405.6" r="0.49" fill="rgb(118,118,118)"/><circle cx="142.9" cy="402.6" r="0.50" fill="rgb(116,116,116)"/><circle cx="148.9" cy="391.9" r="0.58" fill="rgb(78,78,78)"/><circle cx="130.5" cy="408.2" r="0.46" fill="rgb(131,131,131)"/><circle cx="159.5" cy="396.7" r="0.51" fill="rgb(136,136,136)"/><circle cx="138.1" cy="408.6" r="0.36" fill="rgb(87,87,87)"/><circle cx="123.6" cy="392.9" r="0.54" fill="rgb(105,105,105)"/><circle cx="135.6" cy="396.5" r="0.32" fill="rgb(70,70,70)"/><circle cx="141.4" cy="383.3" r="0.58" fill="rgb(86,86,86)"/><circle cx="128.5" cy="391.1" r="0.54" fill="rgb(66,66,66)"/><circle cx="153.6" cy="406.6" r="0.42" fill="rgb(86,86,86)"/><circle cx="140.0" cy="378.3" r="0.50" fill="rgb(67,67,67)"/><circle cx="127.6" cy="391.7" r="0.52" fill="rgb(80,80,80)"/><circle cx="154.1" cy="388.1" r="0.58" fill="rgb(64,64,64)"/><circle cx="140.9" cy="387.9" r="0.52" fill="rgb(92,92,92)"/><circle cx="133.5" cy="387.9" r="0.57" fill="rgb(97,97,97)"/><circle cx="135.1" cy="381.2" r="0.31" fill="rgb(94,94,94)"/><circle cx="143.4" cy="410.1" r="0.48" fill="rgb(74,74,74)"/><circle cx="156.8" cy="392.7" r="0.48" fill="rgb(105,105,105)"/><circle cx="131.2" cy="400.5" r="0.43" fill="rgb(115,115,115)"/><circle cx="147.9" cy="401.1" r="0.53" fill="rgb(92,92,92)"/><circle cx="157.0" cy="400.7" r="0.33" fill="rgb(128,128,128)"/><circle cx="146.1" cy="380.5" r="0.31" fill="rgb(120,120,120)"/><circle cx="131.1" cy="409.2" r="0.46" fill="rgb(76,76,76)"/><circle cx="132.4" cy="386.5" r="0.30" fill="rgb(101,101,101)"/><circle cx="151.6" cy="403.8" r="0.45" fill="rgb(84,84,84)"/><circle cx="131.2" cy="382.0" r="0.54" fill="rgb(80,80,80)"/><circle cx="148.9" cy="394.5" r="0.36" fill="rgb(124,124,124)"/><circle cx="155.0" cy="396.7" r="0.56" fill="rgb(137,137,137)"/><circle cx="134.8" cy="400.0" r="0.53" fill="rgb(91,91,91)"/><circle cx="152.8" cy="403.4" r="0.50" fill="rgb(72,72,72)"/><circle cx="126.2" cy="387.6" r="0.45" fill="rgb(80,80,80)"/><circle cx="157.8" cy="398.5" r="0.36" fill="rgb(92,92,92)"/><circle cx="132.7" cy="412.7" r="0.46" fill="rgb(73,73,73)"/><circle cx="147.7" cy="414.3" r="0.31" fill="rgb(68,68,68)"/><circle cx="155.8" cy="409.3" r="0.55" fill="rgb(88,88,88)"/><circle cx="149.4" cy="402.6" r="0.43" fill="rgb(126,126,126)"/><circle cx="153.9" cy="407.9" r="0.52" fill="rgb(123,123,123)"/><circle cx="136.3" cy="413.7" r="0.52" fill="rgb(65,65,65)"/><circle cx="132.6" cy="385.8" r="0.50" fill="rgb(96,96,96)"/><circle cx="148.7" cy="381.5" r="0.56" fill="rgb(136,136,136)"/><circle cx="149.3" cy="378.3" r="0.53" fill="rgb(67,67,67)"/><circle cx="123.2" cy="390.3" r="0.51" fill="rgb(83,83,83)"/><circle cx="131.7" cy="389.3" r="0.55" fill="rgb(122,122,122)"/><circle cx="140.4" cy="379.9" r="0.44" fill="rgb(67,67,67)"/><circle cx="135.4" cy="379.9" r="0.30" fill="rgb(132,132,132)"/><circle cx="127.3" cy="407.5" r="0.34" fill="rgb(98,98,98)"/><circle cx="156.7" cy="401.4" r="0.43" fill="rgb(72,72,72)"/><circle cx="130.7" cy="401.5" r="0.48" fill="rgb(94,94,94)"/><circle cx="140.4" cy="377.5" r="0.58" fill="rgb(100,100,100)"/><circle cx="147.7" cy="397.4" r="0.38" fill="rgb(61,61,61)"/><circle cx="122.2" cy="394.4" r="0.33" fill="rgb(83,83,83)"/><circle cx="143.7" cy="401.5" r="0.37" fill="rgb(75,75,75)"/><circle cx="144.1" cy="409.1" r="0.36" fill="rgb(63,63,63)"/><circle cx="158.1" cy="396.5" r="0.60" fill="rgb(120,120,120)"/><circle cx="151.1" cy="380.7" r="0.56" fill="rgb(80,80,80)"/><circle cx="135.8" cy="411.2" r="0.46" fill="rgb(94,94,94)"/><circle cx="145.8" cy="389.4" r="0.48" fill="rgb(132,132,132)"/><circle cx="152.0" cy="405.1" r="0.34" fill="rgb(136,136,136)"/><circle cx="146.1" cy="396.6" r="0.38" fill="rgb(123,123,123)"/><circle cx="129.4" cy="403.3" r="0.36" fill="rgb(86,86,86)"/><circle cx="125.8" cy="395.2" r="0.55" fill="rgb(82,82,82)"/><circle cx="134.8" cy="394.6" r="0.41" fill="rgb(113,113,113)"/><circle cx="129.0" cy="383.8" r="0.42" fill="rgb(62,62,62)"/><circle cx="133.6" cy="400.6" r="0.39" fill="rgb(76,76,76)"/><circle cx="144.6" cy="400.2" r="0.39" fill="rgb(81,81,81)"/><circle cx="133.0" cy="382.8" r="0.49" fill="rgb(89,89,89)"/><circle cx="141.1" cy="409.4" r="0.32" fill="rgb(86,86,86)"/><circle cx="131.9" cy="411.4" r="0.36" fill="rgb(115,115,115)"/><circle cx="154.9" cy="386.0" r="0.36" fill="rgb(137,137,137)"/><circle cx="127.2" cy="388.3" r="0.42" fill="rgb(61,61,61)"/><circle cx="147.0" cy="378.6" r="0.39" fill="rgb(67,67,67)"/><circle cx="147.5" cy="410.0" r="0.55" fill="rgb(72,72,72)"/><circle cx="135.9" cy="389.8" r="0.34" fill="rgb(121,121,121)"/><circle cx="145.5" cy="387.6" r="0.31" fill="rgb(100,100,100)"/><circle cx="138.1" cy="405.2" r="0.51" fill="rgb(137,137,137)"/><circle cx="150.3" cy="381.0" r="0.47" fill="rgb(66,66,66)"/><circle cx="136.0" cy="406.7" r="0.52" fill="rgb(69,69,69)"/><circle cx="138.8" cy="404.1" r="0.52" fill="rgb(61,61,61)"/><circle cx="146.2" cy="391.3" r="0.46" fill="rgb(80,80,80)"/><circle cx="138.1" cy="382.5" r="0.54" fill="rgb(119,119,119)"/><circle cx="126.5" cy="402.9" r="0.34" fill="rgb(120,120,120)"/><circle cx="130.9" cy="394.1" r="0.57" fill="rgb(79,79,79)"/><circle cx="147.8" cy="392.3" r="0.53" fill="rgb(126,126,126)"/><circle cx="132.6" cy="404.1" r="0.57" fill="rgb(88,88,88)"/><circle cx="129.1" cy="402.5" r="0.34" fill="rgb(110,110,110)"/><circle cx="158.5" cy="397.7" r="0.54" fill="rgb(91,91,91)"/><circle cx="144.8" cy="391.0" r="0.40" fill="rgb(80,80,80)"/><circle cx="149.7" cy="389.8" r="0.49" fill="rgb(95,95,95)"/><circle cx="152.8" cy="392.5" r="0.53" fill="rgb(137,137,137)"/><circle cx="147.1" cy="383.7" r="0.32" fill="rgb(118,118,118)"/><circle cx="134.2" cy="386.4" r="0.57" fill="rgb(77,77,77)"/><circle cx="153.8" cy="398.8" r="0.59" fill="rgb(100,100,100)"/><circle cx="136.7" cy="390.2" r="0.54" fill="rgb(106,106,106)"/><circle cx="136.9" cy="382.1" r="0.42" fill="rgb(82,82,82)"/><circle cx="144.9" cy="392.9" r="0.38" fill="rgb(102,102,102)"/><circle cx="144.3" cy="404.4" r="0.56" fill="rgb(77,77,77)"/><circle cx="159.4" cy="395.5" r="0.35" fill="rgb(137,137,137)"/><circle cx="150.9" cy="394.1" r="0.40" fill="rgb(77,77,77)"/><circle cx="125.1" cy="404.2" r="0.34" fill="rgb(126,126,126)"/><circle cx="146.0" cy="380.9" r="0.50" fill="rgb(138,138,138)"/><circle cx="130.3" cy="403.6" r="0.31" fill="rgb(134,134,134)"/><circle cx="154.6" cy="391.9" r="0.57" fill="rgb(68,68,68)"/><circle cx="146.9" cy="386.6" r="0.39" fill="rgb(96,96,96)"/><circle cx="133.3" cy="410.2" r="0.35" fill="rgb(126,126,126)"/><circle cx="145.0" cy="403.8" r="0.34" fill="rgb(126,126,126)"/><circle cx="134.5" cy="398.4" r="0.33" fill="rgb(86,86,86)"/><circle cx="145.5" cy="413.4" r="0.49" fill="rgb(112,112,112)"/><circle cx="134.5" cy="404.6" r="0.42" fill="rgb(63,63,63)"/><circle cx="146.6" cy="387.0" r="0.30" fill="rgb(77,77,77)"/><circle cx="141.0" cy="388.8" r="0.32" fill="rgb(73,73,73)"/><circle cx="135.6" cy="391.4" r="0.48" fill="rgb(113,113,113)"/><circle cx="152.2" cy="391.3" r="0.58" fill="rgb(101,101,101)"/><circle cx="128.6" cy="385.4" r="0.57" fill="rgb(71,71,71)"/><circle cx="126.9" cy="402.5" r="0.40" fill="rgb(122,122,122)"/><circle cx="155.0" cy="394.8" r="0.44" fill="rgb(123,123,123)"/><circle cx="127.0" cy="393.6" r="0.42" fill="rgb(90,90,90)"/><circle cx="157.7" cy="402.0" r="0.58" fill="rgb(128,128,128)"/><circle cx="157.8" cy="397.0" r="0.50" fill="rgb(62,62,62)"/><circle cx="154.5" cy="390.3" r="0.48" fill="rgb(69,69,69)"/><circle cx="150.8" cy="383.8" r="0.45" fill="rgb(108,108,108)"/><circle cx="144.3" cy="409.1" r="0.30" fill="rgb(113,113,113)"/><circle cx="154.4" cy="408.8" r="0.41" fill="rgb(80,80,80)"/><circle cx="147.1" cy="401.0" r="0.46" fill="rgb(105,105,105)"/><circle cx="128.4" cy="403.9" r="0.47" fill="rgb(70,70,70)"/><circle cx="149.0" cy="401.8" r="0.38" fill="rgb(88,88,88)"/><circle cx="134.4" cy="407.6" r="0.34" fill="rgb(112,112,112)"/><circle cx="133.0" cy="388.3" r="0.34" fill="rgb(78,78,78)"/><circle cx="139.1" cy="396.4" r="0.40" fill="rgb(75,75,75)"/><circle cx="154.7" cy="394.5" r="0.56" fill="rgb(97,97,97)"/><circle cx="126.7" cy="390.5" r="0.34" fill="rgb(88,88,88)"/><circle cx="143.0" cy="401.2" r="0.33" fill="rgb(103,103,103)"/><circle cx="132.1" cy="399.4" r="0.51" fill="rgb(60,60,60)"/><circle cx="156.1" cy="398.6" r="0.56" fill="rgb(93,93,93)"/><circle cx="135.8" cy="400.6" r="0.44" fill="rgb(92,92,92)"/><circle cx="149.8" cy="400.5" r="0.36" fill="rgb(74,74,74)"/><circle cx="145.0" cy="385.6" r="0.31" fill="rgb(114,114,114)"/><circle cx="160.0" cy="395.7" r="0.32" fill="rgb(94,94,94)"/><circle cx="125.7" cy="399.0" r="0.30" fill="rgb(83,83,83)"/><circle cx="136.4" cy="410.6" r="0.45" fill="rgb(66,66,66)"/><circle cx="145.9" cy="380.7" r="0.53" fill="rgb(122,122,122)"/><circle cx="150.3" cy="386.7" r="0.59" fill="rgb(113,113,113)"/><circle cx="134.0" cy="377.7" r="0.41" fill="rgb(135,135,135)"/><circle cx="148.5" cy="403.9" r="0.33" fill="rgb(69,69,69)"/><circle cx="124.2" cy="404.1" r="0.49" fill="rgb(134,134,134)"/><circle cx="152.2" cy="394.4" r="0.57" fill="rgb(72,72,72)"/><circle cx="149.6" cy="388.9" r="0.34" fill="rgb(119,119,119)"/><circle cx="151.4" cy="392.0" r="0.59" fill="rgb(75,75,75)"/><circle cx="150.8" cy="398.9" r="0.44" fill="rgb(139,139,139)"/><circle cx="129.9" cy="406.1" r="0.31" fill="rgb(63,63,63)"/><circle cx="127.2" cy="408.2" r="0.55" fill="rgb(131,131,131)"/><circle cx="149.9" cy="385.6" r="0.49" fill="rgb(120,120,120)"/><circle cx="143.8" cy="400.5" r="0.43" fill="rgb(117,117,117)"/><circle cx="157.3" cy="384.3" r="0.33" fill="rgb(99,99,99)"/><circle cx="135.1" cy="407.7" r="0.42" fill="rgb(79,79,79)"/><circle cx="133.4" cy="381.1" r="0.34" fill="rgb(116,116,116)"/><circle cx="154.5" cy="392.7" r="0.55" fill="rgb(61,61,61)"/><circle cx="135.6" cy="414.8" r="0.57" fill="rgb(72,72,72)"/><circle cx="141.5" cy="390.5" r="0.33" fill="rgb(115,115,115)"/><circle cx="149.9" cy="403.4" r="0.44" fill="rgb(116,116,116)"/><circle cx="158.4" cy="404.4" r="0.33" fill="rgb(87,87,87)"/><circle cx="127.2" cy="407.4" r="0.56" fill="rgb(103,103,103)"/><circle cx="151.3" cy="382.5" r="0.38" fill="rgb(69,69,69)"/><circle cx="147.9" cy="409.1" r="0.36" fill="rgb(76,76,76)"/><circle cx="128.6" cy="392.4" r="0.50" fill="rgb(102,102,102)"/><circle cx="144.5" cy="389.6" r="0.37" fill="rgb(99,99,99)"/><circle cx="159.5" cy="390.0" r="0.60" fill="rgb(86,86,86)"/><circle cx="155.7" cy="385.1" r="0.38" fill="rgb(67,67,67)"/><circle cx="134.5" cy="388.1" r="0.30" fill="rgb(80,80,80)"/><circle cx="156.6" cy="407.7" r="0.36" fill="rgb(82,82,82)"/><circle cx="125.8" cy="398.6" r="0.53" fill="rgb(115,115,115)"/><circle cx="127.2" cy="409.3" r="0.35" fill="rgb(116,116,116)"/><circle cx="138.7" cy="379.6" r="0.40" fill="rgb(113,113,113)"/><circle cx="130.5" cy="405.0" r="0.55" fill="rgb(91,91,91)"/><circle cx="147.7" cy="399.4" r="0.58" fill="rgb(130,130,130)"/><circle cx="152.3" cy="397.3" r="0.49" fill="rgb(117,117,117)"/><circle cx="149.4" cy="410.5" r="0.35" fill="rgb(107,107,107)"/><circle cx="140.6" cy="377.3" r="0.52" fill="rgb(130,130,130)"/><circle cx="124.7" cy="385.8" r="0.48" fill="rgb(74,74,74)"/><circle cx="140.2" cy="396.5" r="0.48" fill="rgb(74,74,74)"/><circle cx="151.5" cy="408.0" r="0.55" fill="rgb(61,61,61)"/><circle cx="138.4" cy="413.2" r="0.40" fill="rgb(111,111,111)"/><circle cx="142.8" cy="414.6" r="0.50" fill="rgb(71,71,71)"/><circle cx="151.6" cy="408.3" r="0.44" fill="rgb(101,101,101)"/><circle cx="148.8" cy="395.8" r="0.32" fill="rgb(133,133,133)"/><circle cx="159.8" cy="399.4" r="0.45" fill="rgb(89,89,89)"/><circle cx="154.8" cy="405.5" r="0.43" fill="rgb(65,65,65)"/><circle cx="146.0" cy="414.9" r="0.47" fill="rgb(135,135,135)"/><circle cx="123.7" cy="404.3" r="0.47" fill="rgb(132,132,132)"/><circle cx="151.3" cy="398.0" r="0.54" fill="rgb(115,115,115)"/><circle cx="150.3" cy="378.7" r="0.57" fill="rgb(76,76,76)"/><circle cx="129.8" cy="403.7" r="0.44" fill="rgb(64,64,64)"/><circle cx="126.6" cy="390.6" r="0.34" fill="rgb(97,97,97)"/><circle cx="148.0" cy="391.0" r="0.39" fill="rgb(137,137,137)"/><circle cx="143.0" cy="385.9" r="0.43" fill="rgb(120,120,120)"/><circle cx="152.8" cy="405.4" r="0.53" fill="rgb(66,66,66)"/><circle cx="148.4" cy="413.4" r="0.33" fill="rgb(80,80,80)"/><circle cx="137.0" cy="386.7" r="0.58" fill="rgb(106,106,106)"/><circle cx="123.7" cy="403.8" r="0.50" fill="rgb(111,111,111)"/><circle cx="159.9" cy="399.3" r="0.32" fill="rgb(130,130,130)"/><circle cx="138.3" cy="390.8" r="0.53" fill="rgb(132,132,132)"/><circle cx="159.3" cy="397.8" r="0.49" fill="rgb(106,106,106)"/><circle cx="152.6" cy="412.1" r="0.53" fill="rgb(104,104,104)"/><circle cx="127.0" cy="398.7" r="0.30" fill="rgb(93,93,93)"/><circle cx="131.9" cy="413.2" r="0.31" fill="rgb(111,111,111)"/><circle cx="158.3" cy="393.9" r="0.35" fill="rgb(113,113,113)"/><circle cx="148.0" cy="390.7" r="0.30" fill="rgb(138,138,138)"/><circle cx="137.1" cy="386.7" r="0.56" fill="rgb(113,113,113)"/><circle cx="125.1" cy="392.6" r="0.55" fill="rgb(78,78,78)"/><circle cx="154.1" cy="402.2" r="0.35" fill="rgb(74,74,74)"/><circle cx="150.0" cy="402.0" r="0.33" fill="rgb(73,73,73)"/><circle cx="148.6" cy="384.2" r="0.53" fill="rgb(129,129,129)"/><circle cx="147.3" cy="412.3" r="0.33" fill="rgb(126,126,126)"/><circle cx="147.6" cy="394.3" r="0.54" fill="rgb(120,120,120)"/><circle cx="129.5" cy="385.8" r="0.56" fill="rgb(113,113,113)"/><circle cx="131.3" cy="398.2" r="0.33" fill="rgb(86,86,86)"/><circle cx="150.5" cy="400.3" r="0.58" fill="rgb(99,99,99)"/><circle cx="130.2" cy="382.7" r="0.46" fill="rgb(119,119,119)"/><circle cx="136.9" cy="401.9" r="0.43" fill="rgb(74,74,74)"/><circle cx="131.0" cy="379.4" r="0.32" fill="rgb(107,107,107)"/><circle cx="151.0" cy="389.0" r="0.32" fill="rgb(78,78,78)"/><circle cx="150.1" cy="385.9" r="0.39" fill="rgb(78,78,78)"/><circle cx="147.6" cy="379.1" r="0.41" fill="rgb(133,133,133)"/><circle cx="135.6" cy="398.7" r="0.57" fill="rgb(83,83,83)"/><circle cx="153.0" cy="382.4" r="0.45" fill="rgb(128,128,128)"/><circle cx="139.9" cy="399.4" r="0.50" fill="rgb(120,120,120)"/><circle cx="146.7" cy="381.3" r="0.57" fill="rgb(135,135,135)"/><circle cx="145.6" cy="414.8" r="0.45" fill="rgb(114,114,114)"/><circle cx="154.5" cy="384.0" r="0.48" fill="rgb(109,109,109)"/><circle cx="132.3" cy="384.0" r="0.44" fill="rgb(64,64,64)"/><circle cx="141.9" cy="394.5" r="0.55" fill="rgb(75,75,75)"/><circle cx="142.4" cy="400.6" r="0.33" fill="rgb(88,88,88)"/><circle cx="158.4" cy="405.0" r="0.55" fill="rgb(109,109,109)"/><circle cx="155.7" cy="403.6" r="0.31" fill="rgb(64,64,64)"/><circle cx="151.0" cy="398.8" r="0.39" fill="rgb(123,123,123)"/><circle cx="138.1" cy="386.7" r="0.37" fill="rgb(77,77,77)"/><circle cx="134.8" cy="411.8" r="0.37" fill="rgb(125,125,125)"/><circle cx="144.8" cy="388.0" r="0.35" fill="rgb(134,134,134)"/><circle cx="154.1" cy="381.6" r="0.45" fill="rgb(75,75,75)"/><circle cx="134.5" cy="384.9" r="0.30" fill="rgb(138,138,138)"/><circle cx="124.4" cy="404.2" r="0.52" fill="rgb(90,90,90)"/><circle cx="155.6" cy="396.2" r="0.43" fill="rgb(67,67,67)"/><circle cx="150.8" cy="406.2" r="0.52" fill="rgb(73,73,73)"/><circle cx="125.4" cy="395.3" r="0.42" fill="rgb(116,116,116)"/><circle cx="158.5" cy="398.1" r="0.44" fill="rgb(87,87,87)"/><circle cx="124.6" cy="386.4" r="0.56" fill="rgb(123,123,123)"/><circle cx="126.5" cy="395.1" r="0.43" fill="rgb(86,86,86)"/><circle cx="142.4" cy="382.3" r="0.48" fill="rgb(127,127,127)"/><circle cx="144.5" cy="380.7" r="0.43" fill="rgb(110,110,110)"/><circle cx="142.4" cy="387.3" r="0.36" fill="rgb(129,129,129)"/><circle cx="128.2" cy="402.8" r="0.58" fill="rgb(80,80,80)"/><circle cx="152.2" cy="397.3" r="0.42" fill="rgb(107,107,107)"/><circle cx="122.2" cy="393.6" r="0.38" fill="rgb(81,81,81)"/><circle cx="138.9" cy="405.2" r="0.43" fill="rgb(93,93,93)"/><circle cx="139.0" cy="379.6" r="0.60" fill="rgb(83,83,83)"/><circle cx="140.6" cy="413.9" r="0.57" fill="rgb(98,98,98)"/><circle cx="141.9" cy="407.9" r="0.54" fill="rgb(83,83,83)"/><circle cx="147.7" cy="389.9" r="0.31" fill="rgb(107,107,107)"/><circle cx="142.7" cy="386.1" r="0.60" fill="rgb(67,67,67)"/><circle cx="139.8" cy="386.7" r="0.31" fill="rgb(125,125,125)"/><circle cx="136.1" cy="402.2" r="0.47" fill="rgb(103,103,103)"/><circle cx="143.2" cy="377.0" r="0.31" fill="rgb(87,87,87)"/><circle cx="127.1" cy="403.6" r="0.38" fill="rgb(97,97,97)"/><circle cx="131.2" cy="385.6" r="0.58" fill="rgb(106,106,106)"/><circle cx="145.6" cy="391.0" r="0.41" fill="rgb(119,119,119)"/><circle cx="132.7" cy="386.8" r="0.54" fill="rgb(137,137,137)"/><circle cx="137.6" cy="386.9" r="0.34" fill="rgb(69,69,69)"/><circle cx="130.5" cy="390.7" r="0.42" fill="rgb(138,138,138)"/><circle cx="147.3" cy="414.5" r="0.54" fill="rgb(101,101,101)"/><circle cx="141.4" cy="410.7" r="0.59" fill="rgb(120,120,120)"/><circle cx="155.6" cy="400.9" r="0.39" fill="rgb(123,123,123)"/><circle cx="134.9" cy="403.0" r="0.39" fill="rgb(73,73,73)"/><circle cx="139.3" cy="387.1" r="0.36" fill="rgb(127,127,127)"/><circle cx="124.4" cy="404.5" r="0.57" fill="rgb(122,122,122)"/><circle cx="152.2" cy="399.5" r="0.55" fill="rgb(78,78,78)"/><circle cx="151.5" cy="399.1" r="0.41" fill="rgb(126,126,126)"/><circle cx="138.4" cy="406.8" r="0.50" fill="rgb(89,89,89)"/><circle cx="134.5" cy="405.7" r="0.44" fill="rgb(123,123,123)"/><circle cx="149.1" cy="387.9" r="0.54" fill="rgb(73,73,73)"/><circle cx="135.2" cy="405.3" r="0.56" fill="rgb(70,70,70)"/><circle cx="155.3" cy="390.7" r="0.34" fill="rgb(63,63,63)"/><circle cx="154.2" cy="392.9" r="0.46" fill="rgb(101,101,101)"/><circle cx="134.2" cy="384.3" r="0.51" fill="rgb(137,137,137)"/><circle cx="138.2" cy="413.1" r="0.31" fill="rgb(86,86,86)"/><circle cx="127.2" cy="392.7" r="0.31" fill="rgb(139,139,139)"/><circle cx="132.3" cy="410.3" r="0.35" fill="rgb(79,79,79)"/><circle cx="129.3" cy="410.8" r="0.59" fill="rgb(103,103,103)"/><circle cx="156.3" cy="395.6" r="0.45" fill="rgb(122,122,122)"/><circle cx="124.2" cy="388.0" r="0.53" fill="rgb(129,129,129)"/><circle cx="144.0" cy="403.3" r="0.34" fill="rgb(116,116,116)"/><circle cx="142.3" cy="408.7" r="0.43" fill="rgb(83,83,83)"/><circle cx="141.1" cy="378.4" r="0.46" fill="rgb(110,110,110)"/><circle cx="145.1" cy="399.5" r="0.40" fill="rgb(61,61,61)"/><circle cx="131.4" cy="393.3" r="0.41" fill="rgb(119,119,119)"/><circle cx="129.6" cy="382.8" r="0.35" fill="rgb(108,108,108)"/><circle cx="146.2" cy="385.9" r="0.49" fill="rgb(136,136,136)"/><circle cx="158.2" cy="392.4" r="0.38" fill="rgb(96,96,96)"/><circle cx="141.7" cy="383.6" r="0.49" fill="rgb(85,85,85)"/><circle cx="155.4" cy="398.4" r="0.54" fill="rgb(108,108,108)"/><circle cx="132.0" cy="409.5" r="0.30" fill="rgb(87,87,87)"/><circle cx="131.9" cy="389.0" r="0.39" fill="rgb(101,101,101)"/><circle cx="140.6" cy="386.4" r="0.46" fill="rgb(118,118,118)"/><circle cx="145.9" cy="387.2" r="0.30" fill="rgb(76,76,76)"/><circle cx="152.8" cy="410.7" r="0.34" fill="rgb(137,137,137)"/><circle cx="139.5" cy="409.4" r="0.53" fill="rgb(102,102,102)"/><circle cx="138.5" cy="396.3" r="0.34" fill="rgb(106,106,106)"/><circle cx="136.9" cy="406.2" r="0.47" fill="rgb(116,116,116)"/><circle cx="138.8" cy="378.2" r="0.38" fill="rgb(101,101,101)"/><circle cx="122.8" cy="391.0" r="0.32" fill="rgb(125,125,125)"/><circle cx="149.8" cy="387.5" r="0.51" fill="rgb(131,131,131)"/><circle cx="153.7" cy="406.1" r="0.38" fill="rgb(110,110,110)"/><circle cx="140.2" cy="394.1" r="0.50" fill="rgb(98,98,98)"/><circle cx="154.7" cy="408.1" r="0.57" fill="rgb(124,124,124)"/><circle cx="152.2" cy="394.6" r="0.33" fill="rgb(65,65,65)"/><circle cx="150.4" cy="401.3" r="0.41" fill="rgb(93,93,93)"/><circle cx="157.1" cy="388.0" r="0.31" fill="rgb(68,68,68)"/><circle cx="124.7" cy="391.2" r="0.53" fill="rgb(68,68,68)"/><circle cx="130.7" cy="409.1" r="0.37" fill="rgb(63,63,63)"/><circle cx="141.5" cy="389.5" r="0.33" fill="rgb(137,137,137)"/><circle cx="152.5" cy="403.1" r="0.41" fill="rgb(132,132,132)"/><circle cx="145.9" cy="400.9" r="0.33" fill="rgb(106,106,106)"/><circle cx="150.9" cy="380.8" r="0.40" fill="rgb(125,125,125)"/><circle cx="128.7" cy="407.5" r="0.42" fill="rgb(119,119,119)"/><circle cx="141.5" cy="376.7" r="0.55" fill="rgb(125,125,125)"/><circle cx="133.4" cy="386.9" r="0.35" fill="rgb(114,114,114)"/><circle cx="155.5" cy="387.8" r="0.33" fill="rgb(78,78,78)"/><circle cx="151.5" cy="412.6" r="0.57" fill="rgb(123,123,123)"/><circle cx="135.0" cy="403.8" r="0.40" fill="rgb(75,75,75)"/><circle cx="156.6" cy="397.2" r="0.54" fill="rgb(92,92,92)"/><circle cx="129.7" cy="403.5" r="0.52" fill="rgb(83,83,83)"/><circle cx="135.0" cy="407.6" r="0.53" fill="rgb(125,125,125)"/><circle cx="145.5" cy="381.5" r="0.33" fill="rgb(70,70,70)"/><circle cx="154.4" cy="381.2" r="0.38" fill="rgb(110,110,110)"/><circle cx="144.2" cy="405.3" r="0.41" fill="rgb(132,132,132)"/><circle cx="136.8" cy="377.5" r="0.57" fill="rgb(132,132,132)"/><circle cx="135.8" cy="405.0" r="0.32" fill="rgb(117,117,117)"/><circle cx="136.8" cy="406.0" r="0.60" fill="rgb(126,126,126)"/><circle cx="137.1" cy="380.7" r="0.42" fill="rgb(78,78,78)"/><circle cx="133.1" cy="393.9" r="0.46" fill="rgb(121,121,121)"/><circle cx="155.5" cy="382.3" r="0.48" fill="rgb(75,75,75)"/><circle cx="139.5" cy="387.5" r="0.51" fill="rgb(95,95,95)"/><circle cx="146.0" cy="400.3" r="0.43" fill="rgb(96,96,96)"/><circle cx="144.1" cy="389.6" r="0.45" fill="rgb(79,79,79)"/><circle cx="145.1" cy="382.5" r="0.38" fill="rgb(113,113,113)"/><circle cx="129.3" cy="395.6" r="0.48" fill="rgb(133,133,133)"/><circle cx="122.7" cy="392.1" r="0.41" fill="rgb(71,71,71)"/><circle cx="159.8" cy="389.2" r="0.55" fill="rgb(87,87,87)"/><circle cx="152.9" cy="393.3" r="0.37" fill="rgb(66,66,66)"/><circle cx="159.5" cy="395.6" r="0.56" fill="rgb(67,67,67)"/><circle cx="140.6" cy="406.5" r="0.38" fill="rgb(113,113,113)"/><circle cx="134.9" cy="398.6" r="0.40" fill="rgb(80,80,80)"/><circle cx="148.4" cy="390.3" r="0.59" fill="rgb(61,61,61)"/><circle cx="143.4" cy="408.1" r="0.49" fill="rgb(91,91,91)"/><circle cx="154.0" cy="388.7" r="0.38" fill="rgb(127,127,127)"/><circle cx="127.3" cy="391.4" r="0.59" fill="rgb(76,76,76)"/><circle cx="153.1" cy="402.8" r="0.59" fill="rgb(101,101,101)"/><circle cx="144.0" cy="384.8" r="0.46" fill="rgb(80,80,80)"/><circle cx="122.7" cy="396.7" r="0.57" fill="rgb(70,70,70)"/><circle cx="130.6" cy="395.1" r="0.36" fill="rgb(72,72,72)"/><circle cx="133.3" cy="412.7" r="0.46" fill="rgb(114,114,114)"/><circle cx="134.5" cy="399.9" r="0.33" fill="rgb(75,75,75)"/><circle cx="127.6" cy="397.3" r="0.33" fill="rgb(72,72,72)"/><circle cx="142.1" cy="410.8" r="0.47" fill="rgb(118,118,118)"/><circle cx="134.6" cy="406.0" r="0.46" fill="rgb(123,123,123)"/><circle cx="138.7" cy="388.0" r="0.38" fill="rgb(83,83,83)"/><circle cx="146.3" cy="415.1" r="0.55" fill="rgb(86,86,86)"/><circle cx="146.1" cy="399.5" r="0.57" fill="rgb(130,130,130)"/><circle cx="139.6" cy="380.4" r="0.49" fill="rgb(74,74,74)"/><circle cx="144.3" cy="411.0" r="0.34" fill="rgb(120,120,120)"/><circle cx="130.1" cy="383.5" r="0.39" fill="rgb(86,86,86)"/><circle cx="126.2" cy="390.5" r="0.50" fill="rgb(139,139,139)"/><circle cx="141.6" cy="413.4" r="0.34" fill="rgb(60,60,60)"/><circle cx="126.4" cy="385.9" r="0.40" fill="rgb(68,68,68)"/><circle cx="148.4" cy="402.1" r="0.55" fill="rgb(81,81,81)"/><circle cx="139.2" cy="381.7" r="0.53" fill="rgb(114,114,114)"/><circle cx="135.8" cy="386.9" r="0.59" fill="rgb(72,72,72)"/><circle cx="153.2" cy="411.9" r="0.31" fill="rgb(85,85,85)"/><circle cx="135.9" cy="402.3" r="0.56" fill="rgb(117,117,117)"/><circle cx="130.5" cy="395.0" r="0.38" fill="rgb(123,123,123)"/><circle cx="125.4" cy="405.6" r="0.60" fill="rgb(130,130,130)"/><circle cx="140.1" cy="385.6" r="0.42" fill="rgb(138,138,138)"/><circle cx="136.6" cy="379.9" r="0.41" fill="rgb(80,80,80)"/><circle cx="129.1" cy="407.3" r="0.44" fill="rgb(137,137,137)"/><circle cx="155.8" cy="397.3" r="0.50" fill="rgb(63,63,63)"/><circle cx="153.6" cy="387.1" r="0.55" fill="rgb(106,106,106)"/><circle cx="134.2" cy="392.1" r="0.36" fill="rgb(134,134,134)"/><circle cx="141.9" cy="389.1" r="0.36" fill="rgb(106,106,106)"/><circle cx="127.9" cy="396.7" r="0.36" fill="rgb(119,119,119)"/><circle cx="145.5" cy="385.3" r="0.53" fill="rgb(126,126,126)"/><circle cx="159.7" cy="402.5" r="0.42" fill="rgb(126,126,126)"/><circle cx="126.0" cy="405.5" r="0.31" fill="rgb(74,74,74)"/><circle cx="143.7" cy="376.7" r="0.33" fill="rgb(78,78,78)"/><circle cx="143.7" cy="390.7" r="0.38" fill="rgb(68,68,68)"/><circle cx="146.8" cy="381.4" r="0.47" fill="rgb(128,128,128)"/><circle cx="143.0" cy="411.5" r="0.34" fill="rgb(98,98,98)"/><circle cx="155.2" cy="383.8" r="0.47" fill="rgb(111,111,111)"/><circle cx="131.6" cy="405.1" r="0.57" fill="rgb(71,71,71)"/><circle cx="144.5" cy="386.1" r="0.32" fill="rgb(115,115,115)"/><circle cx="125.7" cy="401.8" r="0.54" fill="rgb(129,129,129)"/><circle cx="126.8" cy="407.1" r="0.42" fill="rgb(89,89,89)"/><circle cx="149.4" cy="398.5" r="0.46" fill="rgb(102,102,102)"/><circle cx="151.4" cy="381.7" r="0.60" fill="rgb(74,74,74)"/><circle cx="153.9" cy="401.2" r="0.46" fill="rgb(104,104,104)"/><circle cx="148.1" cy="401.8" r="0.32" fill="rgb(65,65,65)"/><circle cx="132.9" cy="388.2" r="0.31" fill="rgb(80,80,80)"/><circle cx="159.4" cy="393.4" r="0.32" fill="rgb(78,78,78)"/><circle cx="150.4" cy="397.5" r="0.53" fill="rgb(93,93,93)"/><circle cx="125.9" cy="388.8" r="0.41" fill="rgb(67,67,67)"/><circle cx="122.4" cy="391.7" r="0.59" fill="rgb(124,124,124)"/><circle cx="133.4" cy="383.8" r="0.50" fill="rgb(116,116,116)"/><circle cx="149.9" cy="408.3" r="0.35" fill="rgb(94,94,94)"/><circle cx="122.7" cy="392.0" r="0.47" fill="rgb(77,77,77)"/><circle cx="137.6" cy="382.9" r="0.50" fill="rgb(116,116,116)"/><circle cx="136.9" cy="386.6" r="0.40" fill="rgb(124,124,124)"/><circle cx="143.2" cy="394.7" r="0.55" fill="rgb(117,117,117)"/><circle cx="153.4" cy="394.4" r="0.52" fill="rgb(128,128,128)"/><circle cx="141.5" cy="376.9" r="0.48" fill="rgb(109,109,109)"/><circle cx="150.9" cy="381.6" r="0.60" fill="rgb(64,64,64)"/><circle cx="148.9" cy="393.4" r="0.43" fill="rgb(133,133,133)"/><circle cx="136.5" cy="414.8" r="0.49" fill="rgb(117,117,117)"/><circle cx="124.7" cy="404.0" r="0.44" fill="rgb(112,112,112)"/><circle cx="137.0" cy="392.8" r="0.53" fill="rgb(89,89,89)"/><circle cx="156.9" cy="401.0" r="0.50" fill="rgb(74,74,74)"/><circle cx="154.2" cy="393.6" r="0.58" fill="rgb(130,130,130)"/><circle cx="146.2" cy="402.5" r="0.56" fill="rgb(65,65,65)"/><circle cx="144.6" cy="410.0" r="0.59" fill="rgb(81,81,81)"/><circle cx="159.4" cy="400.0" r="0.53" fill="rgb(97,97,97)"/><circle cx="131.4" cy="394.9" r="0.37" fill="rgb(124,124,124)"/><circle cx="151.1" cy="400.7" r="0.32" fill="rgb(89,89,89)"/><circle cx="140.2" cy="397.2" r="0.39" fill="rgb(136,136,136)"/><circle cx="124.3" cy="399.7" r="0.32" fill="rgb(128,128,128)"/><circle cx="129.0" cy="409.8" r="0.57" fill="rgb(122,122,122)"/><circle cx="147.9" cy="397.4" r="0.54" fill="rgb(129,129,129)"/><circle cx="140.2" cy="398.2" r="0.48" fill="rgb(86,86,86)"/><circle cx="144.8" cy="405.8" r="0.32" fill="rgb(101,101,101)"/><circle cx="130.2" cy="381.5" r="0.54" fill="rgb(123,123,123)"/><circle cx="128.4" cy="410.0" r="0.40" fill="rgb(139,139,139)"/><circle cx="128.7" cy="401.7" r="0.41" fill="rgb(110,110,110)"/><circle cx="155.6" cy="382.4" r="0.59" fill="rgb(84,84,84)"/><circle cx="155.0" cy="393.4" r="0.56" fill="rgb(102,102,102)"/><circle cx="124.2" cy="390.5" r="0.31" fill="rgb(131,131,131)"/><circle cx="150.9" cy="392.9" r="0.49" fill="rgb(67,67,67)"/><circle cx="151.0" cy="403.4" r="0.43" fill="rgb(116,116,116)"/><circle cx="138.1" cy="404.5" r="0.43" fill="rgb(122,122,122)"/><circle cx="135.2" cy="394.4" r="0.33" fill="rgb(75,75,75)"/><circle cx="153.2" cy="383.2" r="0.60" fill="rgb(126,126,126)"/><circle cx="140.6" cy="378.1" r="0.53" fill="rgb(127,127,127)"/><circle cx="158.9" cy="389.4" r="0.60" fill="rgb(92,92,92)"/><circle cx="153.6" cy="388.9" r="0.56" fill="rgb(119,119,119)"/><circle cx="151.4" cy="388.3" r="0.50" fill="rgb(71,71,71)"/><circle cx="129.7" cy="387.2" r="0.48" fill="rgb(114,114,114)"/><circle cx="128.8" cy="386.4" r="0.31" fill="rgb(129,129,129)"/><circle cx="151.2" cy="399.9" r="0.35" fill="rgb(86,86,86)"/><circle cx="136.6" cy="407.2" r="0.44" fill="rgb(110,110,110)"/><circle cx="138.3" cy="386.1" r="0.34" fill="rgb(81,81,81)"/><circle cx="131.9" cy="413.0" r="0.52" fill="rgb(85,85,85)"/><circle cx="124.6" cy="399.5" r="0.43" fill="rgb(82,82,82)"/><circle cx="157.2" cy="396.5" r="0.44" fill="rgb(70,70,70)"/><circle cx="154.5" cy="406.8" r="0.57" fill="rgb(122,122,122)"/><circle cx="142.2" cy="394.2" r="0.39" fill="rgb(121,121,121)"/><circle cx="141.0" cy="404.7" r="0.38" fill="rgb(87,87,87)"/><circle cx="155.5" cy="404.2" r="0.53" fill="rgb(113,113,113)"/><circle cx="132.5" cy="404.1" r="0.58" fill="rgb(127,127,127)"/><circle cx="154.3" cy="407.7" r="0.46" fill="rgb(127,127,127)"/><circle cx="141.5" cy="378.6" r="0.56" fill="rgb(136,136,136)"/><circle cx="151.8" cy="382.9" r="0.33" fill="rgb(87,87,87)"/><circle cx="132.6" cy="399.1" r="0.39" fill="rgb(83,83,83)"/><circle cx="153.2" cy="396.0" r="0.43" fill="rgb(122,122,122)"/><circle cx="138.3" cy="379.8" r="0.31" fill="rgb(118,118,118)"/><circle cx="123.9" cy="396.5" r="0.52" fill="rgb(115,115,115)"/><circle cx="147.2" cy="395.4" r="0.42" fill="rgb(98,98,98)"/><circle cx="144.6" cy="404.6" r="0.39" fill="rgb(72,72,72)"/><circle cx="157.8" cy="399.6" r="0.44" fill="rgb(135,135,135)"/><circle cx="144.8" cy="407.9" r="0.38" fill="rgb(87,87,87)"/><circle cx="156.0" cy="383.9" r="0.37" fill="rgb(136,136,136)"/><circle cx="148.5" cy="381.2" r="0.36" fill="rgb(137,137,137)"/><circle cx="143.4" cy="407.5" r="0.55" fill="rgb(62,62,62)"/><circle cx="135.2" cy="388.2" r="0.40" fill="rgb(101,101,101)"/><circle cx="129.1" cy="386.3" r="0.47" fill="rgb(81,81,81)"/><circle cx="128.3" cy="401.3" r="0.37" fill="rgb(76,76,76)"/><circle cx="144.1" cy="378.7" r="0.38" fill="rgb(85,85,85)"/><circle cx="153.9" cy="407.4" r="0.44" fill="rgb(123,123,123)"/><circle cx="137.1" cy="400.9" r="0.46" fill="rgb(86,86,86)"/><circle cx="157.1" cy="384.2" r="0.45" fill="rgb(103,103,103)"/><circle cx="137.4" cy="397.0" r="0.44" fill="rgb(88,88,88)"/><circle cx="145.5" cy="407.7" r="0.31" fill="rgb(85,85,85)"/><circle cx="156.0" cy="394.9" r="0.45" fill="rgb(106,106,106)"/><circle cx="154.6" cy="387.5" r="0.38" fill="rgb(91,91,91)"/><circle cx="146.2" cy="410.9" r="0.55" fill="rgb(132,132,132)"/><circle cx="158.9" cy="404.8" r="0.39" fill="rgb(113,113,113)"/><circle cx="129.8" cy="406.7" r="0.36" fill="rgb(116,116,116)"/><circle cx="144.8" cy="412.2" r="0.41" fill="rgb(78,78,78)"/><circle cx="127.3" cy="406.8" r="0.46" fill="rgb(101,101,101)"/><circle cx="135.5" cy="410.0" r="0.43" fill="rgb(114,114,114)"/><circle cx="128.7" cy="394.9" r="0.59" fill="rgb(77,77,77)"/><circle cx="140.8" cy="377.9" r="0.39" fill="rgb(107,107,107)"/><circle cx="160.8" cy="398.2" r="0.37" fill="rgb(137,137,137)"/><circle cx="134.8" cy="391.0" r="0.45" fill="rgb(94,94,94)"/><circle cx="130.8" cy="392.8" r="0.55" fill="rgb(68,68,68)"/><circle cx="157.7" cy="392.8" r="0.37" fill="rgb(99,99,99)"/><circle cx="142.4" cy="381.8" r="0.33" fill="rgb(108,108,108)"/><circle cx="125.1" cy="398.3" r="0.34" fill="rgb(116,116,116)"/><circle cx="143.7" cy="410.2" r="0.48" fill="rgb(118,118,118)"/><circle cx="155.9" cy="395.5" r="0.37" fill="rgb(138,138,138)"/><circle cx="139.0" cy="388.2" r="0.58" fill="rgb(76,76,76)"/><circle cx="144.8" cy="392.8" r="0.35" fill="rgb(76,76,76)"/><circle cx="157.8" cy="406.2" r="0.40" fill="rgb(109,109,109)"/><circle cx="125.8" cy="384.5" r="0.53" fill="rgb(120,120,120)"/><circle cx="156.7" cy="400.7" r="0.33" fill="rgb(89,89,89)"/><circle cx="139.8" cy="385.9" r="0.42" fill="rgb(83,83,83)"/><circle cx="154.5" cy="410.1" r="0.51" fill="rgb(62,62,62)"/><circle cx="137.2" cy="380.1" r="0.45" fill="rgb(113,113,113)"/><circle cx="132.5" cy="412.2" r="0.37" fill="rgb(101,101,101)"/><circle cx="128.6" cy="399.3" r="0.48" fill="rgb(69,69,69)"/><circle cx="156.9" cy="389.4" r="0.33" fill="rgb(114,114,114)"/><circle cx="138.9" cy="377.9" r="0.45" fill="rgb(112,112,112)"/><circle cx="137.1" cy="387.9" r="0.33" fill="rgb(70,70,70)"/><circle cx="158.0" cy="404.0" r="0.43" fill="rgb(129,129,129)"/><circle cx="135.4" cy="405.1" r="0.49" fill="rgb(74,74,74)"/><circle cx="138.2" cy="400.1" r="0.52" fill="rgb(84,84,84)"/><circle cx="138.9" cy="413.1" r="0.46" fill="rgb(82,82,82)"/><circle cx="130.4" cy="397.4" r="0.56" fill="rgb(128,128,128)"/><circle cx="135.0" cy="392.9" r="0.30" fill="rgb(94,94,94)"/><circle cx="130.5" cy="392.5" r="0.40" fill="rgb(134,134,134)"/><circle cx="158.8" cy="399.4" r="0.46" fill="rgb(132,132,132)"/><circle cx="134.4" cy="378.3" r="0.37" fill="rgb(107,107,107)"/><circle cx="127.7" cy="383.7" r="0.47" fill="rgb(65,65,65)"/><circle cx="139.8" cy="390.7" r="0.34" fill="rgb(106,106,106)"/><circle cx="157.8" cy="404.2" r="0.31" fill="rgb(126,126,126)"/><circle cx="138.8" cy="396.5" r="0.37" fill="rgb(96,96,96)"/><circle cx="134.5" cy="407.2" r="0.42" fill="rgb(128,128,128)"/><circle cx="149.1" cy="386.6" r="0.49" fill="rgb(84,84,84)"/><circle cx="148.8" cy="396.5" r="0.49" fill="rgb(67,67,67)"/><circle cx="135.1" cy="390.1" r="0.43" fill="rgb(90,90,90)"/><circle cx="142.9" cy="408.8" r="0.37" fill="rgb(121,121,121)"/><circle cx="124.6" cy="386.8" r="0.40" fill="rgb(126,126,126)"/><circle cx="134.7" cy="396.4" r="0.43" fill="rgb(126,126,126)"/><circle cx="160.6" cy="394.9" r="0.54" fill="rgb(81,81,81)"/><circle cx="133.3" cy="388.1" r="0.30" fill="rgb(79,79,79)"/><circle cx="157.7" cy="396.9" r="0.41" fill="rgb(95,95,95)"/><circle cx="145.3" cy="413.8" r="0.47" fill="rgb(78,78,78)"/><circle cx="144.8" cy="407.0" r="0.56" fill="rgb(121,121,121)"/><circle cx="143.7" cy="404.3" r="0.55" fill="rgb(113,113,113)"/><circle cx="153.4" cy="407.6" r="0.34" fill="rgb(63,63,63)"/><circle cx="146.6" cy="395.1" r="0.39" fill="rgb(93,93,93)"/><circle cx="129.6" cy="387.8" r="0.47" fill="rgb(110,110,110)"/><circle cx="143.5" cy="408.8" r="0.34" fill="rgb(71,71,71)"/><circle cx="158.6" cy="405.7" r="0.35" fill="rgb(120,120,120)"/><circle cx="141.0" cy="396.1" r="0.39" fill="rgb(113,113,113)"/><circle cx="152.6" cy="384.3" r="0.57" fill="rgb(133,133,133)"/><circle cx="135.2" cy="394.0" r="0.34" fill="rgb(95,95,95)"/><circle cx="156.1" cy="404.6" r="0.60" fill="rgb(138,138,138)"/><circle cx="151.2" cy="383.0" r="0.55" fill="rgb(129,129,129)"/><circle cx="148.7" cy="380.8" r="0.42" fill="rgb(105,105,105)"/><circle cx="147.5" cy="410.6" r="0.59" fill="rgb(97,97,97)"/><circle cx="157.4" cy="384.4" r="0.54" fill="rgb(72,72,72)"/><circle cx="147.3" cy="398.5" r="0.51" fill="rgb(72,72,72)"/><circle cx="137.9" cy="383.4" r="0.34" fill="rgb(82,82,82)"/><circle cx="152.1" cy="402.4" r="0.37" fill="rgb(72,72,72)"/><circle cx="146.1" cy="412.7" r="0.33" fill="rgb(63,63,63)"/><circle cx="146.6" cy="408.9" r="0.55" fill="rgb(76,76,76)"/><circle cx="129.5" cy="407.8" r="0.34" fill="rgb(84,84,84)"/><circle cx="141.2" cy="403.4" r="0.60" fill="rgb(118,118,118)"/><circle cx="151.5" cy="401.5" r="0.33" fill="rgb(82,82,82)"/><circle cx="142.3" cy="414.4" r="0.44" fill="rgb(130,130,130)"/><circle cx="122.2" cy="393.9" r="0.42" fill="rgb(111,111,111)"/><circle cx="137.8" cy="383.6" r="0.59" fill="rgb(104,104,104)"/><circle cx="138.6" cy="410.8" r="0.50" fill="rgb(133,133,133)"/><circle cx="154.2" cy="393.7" r="0.37" fill="rgb(72,72,72)"/><circle cx="134.5" cy="384.4" r="0.39" fill="rgb(135,135,135)"/><circle cx="128.8" cy="394.2" r="0.51" fill="rgb(67,67,67)"/><circle cx="142.5" cy="379.4" r="0.53" fill="rgb(109,109,109)"/><circle cx="127.0" cy="394.6" r="0.30" fill="rgb(71,71,71)"/><circle cx="136.4" cy="386.3" r="0.40" fill="rgb(66,66,66)"/><circle cx="130.7" cy="380.8" r="0.54" fill="rgb(120,120,120)"/><circle cx="139.1" cy="404.7" r="0.59" fill="rgb(60,60,60)"/><circle cx="153.3" cy="394.6" r="0.50" fill="rgb(87,87,87)"/><circle cx="143.3" cy="393.9" r="0.56" fill="rgb(104,104,104)"/><circle cx="124.0" cy="401.9" r="0.43" fill="rgb(103,103,103)"/><circle cx="127.5" cy="384.3" r="0.42" fill="rgb(101,101,101)"/><circle cx="147.3" cy="411.5" r="0.39" fill="rgb(92,92,92)"/><circle cx="143.0" cy="405.3" r="0.52" fill="rgb(87,87,87)"/><circle cx="144.0" cy="388.4" r="0.50" fill="rgb(122,122,122)"/><circle cx="137.7" cy="406.2" r="0.46" fill="rgb(136,136,136)"/><circle cx="151.2" cy="386.2" r="0.42" fill="rgb(63,63,63)"/><circle cx="129.2" cy="401.3" r="0.44" fill="rgb(129,129,129)"/><circle cx="148.9" cy="413.0" r="0.34" fill="rgb(72,72,72)"/><circle cx="139.4" cy="401.4" r="0.39" fill="rgb(94,94,94)"/><circle cx="154.3" cy="386.4" r="0.56" fill="rgb(96,96,96)"/><circle cx="123.0" cy="396.8" r="0.45" fill="rgb(108,108,108)"/><circle cx="140.4" cy="382.0" r="0.39" fill="rgb(69,69,69)"/><circle cx="146.4" cy="405.7" r="0.38" fill="rgb(136,136,136)"/><circle cx="147.0" cy="409.3" r="0.59" fill="rgb(87,87,87)"/><circle cx="145.6" cy="377.6" r="0.37" fill="rgb(80,80,80)"/><circle cx="129.5" cy="407.2" r="0.52" fill="rgb(74,74,74)"/><circle cx="127.3" cy="395.1" r="0.38" fill="rgb(121,121,121)"/><circle cx="141.9" cy="389.9" r="0.57" fill="rgb(134,134,134)"/><circle cx="145.5" cy="386.6" r="0.58" fill="rgb(102,102,102)"/><circle cx="132.4" cy="379.8" r="0.9" fill="rgb(47,47,47)"/><circle cx="141.5" cy="413.2" r="0.9" fill="rgb(73,73,73)"/><circle cx="155.2" cy="398.3" r="0.5" fill="rgb(99,99,99)"/><circle cx="148.0" cy="378.5" r="0.9" fill="rgb(86,86,86)"/><circle cx="143.7" cy="392.2" r="0.9" fill="rgb(50,50,50)"/><circle cx="149.8" cy="393.8" r="0.9" fill="rgb(69,69,69)"/><circle cx="140.4" cy="391.4" r="0.5" fill="rgb(95,95,95)"/><circle cx="151.9" cy="397.4" r="0.5" fill="rgb(58,58,58)"/><circle cx="144.5" cy="396.4" r="0.7" fill="rgb(70,70,70)"/><circle cx="128.9" cy="389.8" r="0.7" fill="rgb(46,46,46)"/><circle cx="137.9" cy="407.7" r="0.5" fill="rgb(99,99,99)"/><circle cx="144.6" cy="391.5" r="0.5" fill="rgb(85,85,85)"/><circle cx="144.4" cy="408.8" r="0.9" fill="rgb(71,71,71)"/><circle cx="150.5" cy="390.9" r="0.9" fill="rgb(56,56,56)"/><circle cx="155.0" cy="387.6" r="0.7" fill="rgb(98,98,98)"/><circle cx="148.0" cy="409.1" r="0.9" fill="rgb(97,97,97)"/><circle cx="146.3" cy="382.7" r="0.5" fill="rgb(94,94,94)"/><circle cx="143.2" cy="393.6" r="0.7" fill="rgb(76,76,76)"/><circle cx="136.3" cy="388.1" r="0.9" fill="rgb(85,85,85)"/><circle cx="149.8" cy="400.6" r="0.7" fill="rgb(93,93,93)"/><circle cx="133.8" cy="392.8" r="0.5" fill="rgb(49,49,49)"/><circle cx="132.3" cy="411.6" r="0.9" fill="rgb(80,80,80)"/><circle cx="142.4" cy="402.0" r="0.5" fill="rgb(57,57,57)"/><circle cx="159.5" cy="392.4" r="0.7" fill="rgb(64,64,64)"/><circle cx="143.9" cy="405.4" r="0.9" fill="rgb(98,98,98)"/><circle cx="144.9" cy="401.7" r="0.9" fill="rgb(94,94,94)"/><circle cx="149.2" cy="406.7" r="0.9" fill="rgb(51,51,51)"/><circle cx="150.5" cy="399.1" r="0.9" fill="rgb(97,97,97)"/><circle cx="146.9" cy="407.1" r="0.9" fill="rgb(46,46,46)"/><circle cx="140.3" cy="383.7" r="0.9" fill="rgb(99,99,99)"/><circle cx="150.6" cy="381.9" r="0.9" fill="rgb(76,76,76)"/><circle cx="127.2" cy="396.1" r="0.7" fill="rgb(50,50,50)"/><circle cx="157.9" cy="405.2" r="0.5" fill="rgb(62,62,62)"/><circle cx="135.9" cy="390.7" r="0.5" fill="rgb(98,98,98)"/><circle cx="123.8" cy="395.0" r="0.5" fill="rgb(49,49,49)"/><circle cx="157.8" cy="395.5" r="0.7" fill="rgb(62,62,62)"/><circle cx="148.3" cy="391.7" r="0.9" fill="rgb(44,44,44)"/><circle cx="142.1" cy="387.9" r="0.7" fill="rgb(88,88,88)"/><circle cx="136.5" cy="396.0" r="0.5" fill="rgb(57,57,57)"/><circle cx="144.1" cy="386.2" r="0.9" fill="rgb(48,48,48)"/><circle cx="145.3" cy="380.7" r="0.5" fill="rgb(64,64,64)"/><circle cx="138.7" cy="411.9" r="0.9" fill="rgb(42,42,42)"/><circle cx="138.7" cy="392.3" r="0.7" fill="rgb(71,71,71)"/><circle cx="154.4" cy="385.5" r="0.9" fill="rgb(53,53,53)"/><circle cx="148.0" cy="408.9" r="0.7" fill="rgb(61,61,61)"/><circle cx="152.1" cy="393.6" r="0.9" fill="rgb(62,62,62)"/><circle cx="151.1" cy="397.8" r="0.5" fill="rgb(52,52,52)"/><circle cx="148.0" cy="410.1" r="0.9" fill="rgb(62,62,62)"/><circle cx="135.4" cy="391.8" r="0.5" fill="rgb(78,78,78)"/><circle cx="133.2" cy="385.4" r="0.5" fill="rgb(47,47,47)"/></g></g><circle cx="141.6" cy="396.0" r="19.8" fill="url(#well)"/><line x1="83.0" y1="248.8" x2="168.0" y2="248.8" stroke="#5a5a5a" stroke-width="1.0"/><line x1="83.0" y1="292.0" x2="168.0" y2="292.0" stroke="#5a5a5a" stroke-width="1.0"/><line x1="83.0" y1="333.8" x2="168.0" y2="333.8" stroke="#5a5a5a" stroke-width="1.0"/><line x1="83.0" y1="375.0" x2="168.0" y2="375.0" stroke="#5a5a5a" stroke-width="1.0"/><line x1="216.5" y1="201.3" x2="216.5" y2="362.8" stroke="#222" stroke-width="1.0"/><line x1="216.3" y1="362.3" x2="332.5" y2="362.3" stroke="#222" stroke-width="1.0"/><line x1="215.0" y1="227.5" x2="219.6" y2="227.5" stroke="#222" stroke-width="0.9"/><text x="214.6" y="230.8" font-size="8.9" text-anchor="end" font-weight="normal" >3,000</text><line x1="215.0" y1="272.5" x2="219.6" y2="272.5" stroke="#222" stroke-width="0.9"/><text x="214.6" y="275.8" font-size="8.9" text-anchor="end" font-weight="normal" >2,000</text><line x1="215.0" y1="317.5" x2="219.6" y2="317.5" stroke="#222" stroke-width="0.9"/><text x="214.6" y="320.8" font-size="8.9" text-anchor="end" font-weight="normal" >1,000</text><text transform="translate(188.0,288.3) rotate(-90)" font-size="9.9" text-anchor="middle" font-weight="normal">SFC per million cells</text><line x1="234.1" y1="330.5" x2="234.1" y2="327.0" stroke="#222" stroke-width="0.85"/><line x1="232.1" y1="327.0" x2="236.1" y2="327.0" stroke="#222" stroke-width="0.9"/><rect x="228.4" y="330.5" width="11.4" height="31.80000000000001" fill="#cacaca" stroke="#222" stroke-width="0.9"/><line x1="260.4" y1="305.8" x2="260.4" y2="303.0" stroke="#222" stroke-width="0.85"/><line x1="258.4" y1="303.0" x2="262.4" y2="303.0" stroke="#222" stroke-width="0.9"/><rect x="254.4" y="305.8" width="12.0" height="56.5" fill="#cacaca" stroke="#222" stroke-width="0.9"/><line x1="283.75" y1="257.0" x2="283.75" y2="243.5" stroke="#222" stroke-width="0.85"/><line x1="281.75" y1="243.5" x2="285.75" y2="243.5" stroke="#222" stroke-width="0.9"/><rect x="277.6" y="257.0" width="12.3" height="105.30000000000001" fill="#363636" stroke="#222" stroke-width="0.9"/><line x1="309.75" y1="276.0" x2="309.75" y2="273.2" stroke="#222" stroke-width="0.85"/><line x1="307.75" y1="273.2" x2="311.75" y2="273.2" stroke="#222" stroke-width="0.9"/><rect x="303.6" y="276.0" width="12.3" height="86.30000000000001" fill="#363636" stroke="#222" stroke-width="0.9"/><polyline points="260.00,224.60 260.00,220.50 312.20,220.50 312.20,230.30" stroke="#222" stroke-width="0.8" fill="none" stroke-linejoin="round"/><text x="286.6" y="217.4" font-size="8.5" text-anchor="middle" font-weight="normal" ><tspan font-style="italic">P</tspan> = 0.011</text><polyline points="260.00,244.00 260.00,236.50 283.70,236.50 283.70,240.00" stroke="#222" stroke-width="0.8" fill="none" stroke-linejoin="round"/><text x="270.4" y="233.8" font-size="8.4" text-anchor="middle" font-weight="normal" >0.045</text><text x="231.3" y="374.6" font-size="8.9" text-anchor="middle" font-weight="normal" >No</text><text x="232.0" y="382.8" font-size="8.9" text-anchor="middle" font-weight="normal" >peptide</text><text x="259.0" y="374.2" font-size="8.9" text-anchor="middle" font-weight="normal" >WT</text><text x="281.3" y="374.2" font-size="8.9" text-anchor="middle" font-weight="normal" >MUT</text><polyline points="250.00,377.00 250.00,379.50 290.50,379.50 290.50,377.00" stroke="#222" stroke-width="0.8" fill="none" stroke-linejoin="round"/><text x="272.5" y="389.2" font-size="9.0" text-anchor="middle" font-weight="normal" >E255K-B</text><text transform="translate(307.5,365.5) rotate(-90)" font-size="8.9" text-anchor="end" font-weight="normal">E255K</text><text transform="translate(316.2,365.5) rotate(-90)" font-size="8.9" text-anchor="end" font-weight="normal">minigene</text><polyline points="228.80,403.80 228.80,407.40 329.50,407.40 329.50,403.80" stroke="#222" stroke-width="0.85" fill="none" stroke-linejoin="round"/><text x="278.4" y="418.0" font-size="9.85" text-anchor="middle" font-weight="normal" >K562-A3 cells +</text><text x="333.5" y="192.0" font-size="17.5" text-anchor="start" font-weight="bold"  class="lt">C</text><line x1="362.8" y1="220.5" x2="366.4" y2="220.5" stroke="#111" stroke-width="1.0"/><text x="361.1" y="224.0" font-size="10.0" text-anchor="end" font-weight="normal"  class="lt">5</text><line x1="362.8" y1="237.5" x2="366.4" y2="237.5" stroke="#111" stroke-width="1.0"/><text x="361.1" y="241.0" font-size="10.0" text-anchor="end" font-weight="normal"  class="lt">4</text><line x1="362.8" y1="254.5" x2="366.4" y2="254.5" stroke="#111" stroke-width="1.0"/><text x="361.1" y="258.0" font-size="10.0" text-anchor="end" font-weight="normal"  class="lt">3</text><line x1="362.8" y1="271.5" x2="366.4" y2="271.5" stroke="#111" stroke-width="1.0"/><text x="361.1" y="275.0" font-size="10.0" text-anchor="end" font-weight="normal"  class="lt">2</text><line x1="362.8" y1="288.5" x2="366.4" y2="288.5" stroke="#111" stroke-width="1.0"/><text x="361.1" y="292.0" font-size="10.0" text-anchor="end" font-weight="normal"  class="lt">1</text><line x1="362.8" y1="315.5" x2="366.4" y2="315.5" stroke="#111" stroke-width="1.0"/><text x="361.1" y="319.0" font-size="10.0" text-anchor="end" font-weight="normal"  class="lt">5</text><line x1="362.8" y1="332.5" x2="366.4" y2="332.5" stroke="#111" stroke-width="1.0"/><text x="361.1" y="336.0" font-size="10.0" text-anchor="end" font-weight="normal"  class="lt">4</text><line x1="362.8" y1="349.5" x2="366.4" y2="349.5" stroke="#111" stroke-width="1.0"/><text x="361.1" y="353.0" font-size="10.0" text-anchor="end" font-weight="normal"  class="lt">3</text><line x1="362.8" y1="366.5" x2="366.4" y2="366.5" stroke="#111" stroke-width="1.0"/><text x="361.1" y="370.0" font-size="10.0" text-anchor="end" font-weight="normal"  class="lt">2</text><line x1="362.8" y1="384.5" x2="366.4" y2="384.5" stroke="#111" stroke-width="1.0"/><text x="361.1" y="388.0" font-size="10.0" text-anchor="end" font-weight="normal"  class="lt">1</text><line x1="375.5" y1="297.4" x2="375.5" y2="300.2" stroke="#111" stroke-width="1.0"/><line x1="375.5" y1="392.1" x2="375.5" y2="395.0" stroke="#111" stroke-width="1.0"/><text x="375.5" y="406.3" font-size="9.8" text-anchor="middle" font-weight="normal"  class="lt">1</text><line x1="392.5" y1="297.4" x2="392.5" y2="300.2" stroke="#111" stroke-width="1.0"/><line x1="392.5" y1="392.1" x2="392.5" y2="395.0" stroke="#111" stroke-width="1.0"/><text x="392.5" y="406.3" font-size="9.8" text-anchor="middle" font-weight="normal"  class="lt">2</text><line x1="409.5" y1="297.4" x2="409.5" y2="300.2" stroke="#111" stroke-width="1.0"/><line x1="409.5" y1="392.1" x2="409.5" y2="395.0" stroke="#111" stroke-width="1.0"/><text x="409.5" y="406.3" font-size="9.8" text-anchor="middle" font-weight="normal"  class="lt">3</text><line x1="426.5" y1="297.4" x2="426.5" y2="300.2" stroke="#111" stroke-width="1.0"/><line x1="426.5" y1="392.1" x2="426.5" y2="395.0" stroke="#111" stroke-width="1.0"/><text x="426.5" y="406.3" font-size="9.8" text-anchor="middle" font-weight="normal"  class="lt">4</text><line x1="443.5" y1="297.4" x2="443.5" y2="300.2" stroke="#111" stroke-width="1.0"/><line x1="443.5" y1="392.1" x2="443.5" y2="395.0" stroke="#111" stroke-width="1.0"/><text x="443.5" y="406.3" font-size="9.8" text-anchor="middle" font-weight="normal"  class="lt">5</text><text class="lt" transform="translate(348.4,303.0) rotate(-90)" font-size="10.2" text-anchor="middle" font-weight="normal">CD8<tspan font-size="7.6" dy="-3.5">+</tspan><tspan dy="3.5"> (Log)</tspan></text><text x="412.1" y="418.9" font-size="9.8" text-anchor="middle" font-weight="normal"  class="lt">E255K-B tetramer+ (log)</text><rect x="418.1" y="219.2" width="33.1" height="28.3" fill="none" stroke="#333" stroke-width="0.9"/><rect x="418.3" y="314.3" width="33" height="28.2" fill="none" stroke="#222" stroke-width="0.8"/><text x="434.6" y="244.6" font-size="9.3" text-anchor="middle" font-weight="normal"  class="lt">0.64%</text><text x="418.4" y="323.0" font-size="8.8" text-anchor="start" font-weight="normal" textLength="31.0" lengthAdjust="spacingAndGlyphs" class="lt">0.0005%</text><text x="459.6" y="247.5" font-size="9.2" text-anchor="start" font-weight="normal"  class="lt">E255K-B–</text><text x="479.6" y="257.6" font-size="9.65" text-anchor="middle" font-weight="normal"  class="lt">stimulated</text><text x="480.0" y="267.3" font-size="9.3" text-anchor="middle" font-weight="normal"  class="lt">T cells</text><text x="471.9" y="351.3" font-size="9.6" text-anchor="middle" font-weight="normal"  class="lt">PBMC</text><g filter="url(#fb5)"><filter id="fb5" x="-5%" y="-5%" width="110%" height="110%"><feGaussianBlur stdDeviation="0.3"/></filter><path d="M376 213h1v1h-1zM411 216h1v1h-1zM376 217h1v1h-1zM393 218h1v1h-1zM400 220h1v1h-1zM397 221h1v1h-1zM411 221h1v1h-1zM372 222h1v1h-1zM376 222h2v1h-2zM403 222h1v1h-1zM409 222h1v1h-1zM411 222h2v1h-2zM418 222h1v1h-1zM393 223h1v1h-1zM399 223h1v1h-1zM401 223h2v1h-2zM404 223h5v1h-5zM410 223h2v1h-2zM383 224h1v1h-1zM388 224h5v1h-5zM394 224h1v1h-1zM397 224h11v1h-11zM409 224h2v1h-2zM412 224h3v1h-3zM418 224h1v1h-1zM371 225h1v1h-1zM381 225h1v1h-1zM387 225h1v1h-1zM389 225h28v1h-28zM368 226h1v1h-1zM373 226h2v1h-2zM379 226h1v1h-1zM383 226h1v1h-1zM387 226h32v1h-32zM422 226h1v1h-1zM373 227h1v1h-1zM375 227h1v1h-1zM377 227h2v1h-2zM381 227h1v1h-1zM383 227h36v1h-36zM421 227h1v1h-1zM371 228h3v1h-3zM379 228h1v1h-1zM382 228h37v1h-37zM378 229h14v1h-14zM393 229h25v1h-25zM425 229h1v1h-1zM372 230h3v1h-3zM380 230h38v1h-38zM368 231h1v1h-1zM373 231h2v1h-2zM378 231h1v1h-1zM381 231h36v1h-36zM374 232h1v1h-1zM377 232h2v1h-2zM380 232h36v1h-36zM375 233h1v1h-1zM377 233h37v1h-37zM415 233h1v1h-1zM375 234h1v1h-1zM377 234h2v1h-2zM380 234h33v1h-33zM417 234h1v1h-1zM373 235h1v1h-1zM378 235h36v1h-36zM415 235h1v1h-1zM375 236h1v1h-1zM380 236h32v1h-32zM369 237h1v1h-1zM375 237h37v1h-37zM375 238h1v1h-1zM381 238h30v1h-30zM370 239h1v1h-1zM377 239h1v1h-1zM379 239h1v1h-1zM382 239h29v1h-29zM369 240h1v1h-1zM374 240h2v1h-2zM377 240h1v1h-1zM380 240h30v1h-30zM414 240h1v1h-1zM373 241h2v1h-2zM376 241h1v1h-1zM379 241h1v1h-1zM381 241h1v1h-1zM384 241h25v1h-25zM412 241h1v1h-1zM417 241h1v1h-1zM374 242h1v1h-1zM380 242h1v1h-1zM383 242h1v1h-1zM385 242h24v1h-24zM370 243h2v1h-2zM373 243h1v1h-1zM379 243h1v1h-1zM382 243h1v1h-1zM385 243h2v1h-2zM388 243h2v1h-2zM391 243h17v1h-17zM448 243h1v1h-1zM377 244h1v1h-1zM382 244h1v1h-1zM384 244h3v1h-3zM389 244h1v1h-1zM391 244h18v1h-18zM410 244h1v1h-1zM372 245h1v1h-1zM374 245h1v1h-1zM376 245h1v1h-1zM380 245h3v1h-3zM384 245h1v1h-1zM391 245h2v1h-2zM394 245h15v1h-15zM370 246h1v1h-1zM373 246h1v1h-1zM375 246h5v1h-5zM382 246h1v1h-1zM387 246h1v1h-1zM389 246h4v1h-4zM394 246h14v1h-14zM379 247h3v1h-3zM385 247h3v1h-3zM389 247h1v1h-1zM394 247h4v1h-4zM399 247h9v1h-9zM377 248h1v1h-1zM381 248h1v1h-1zM391 248h7v1h-7zM399 248h7v1h-7zM409 248h1v1h-1zM385 249h4v1h-4zM391 249h1v1h-1zM394 249h1v1h-1zM396 249h6v1h-6zM404 249h1v1h-1zM389 250h1v1h-1zM391 250h2v1h-2zM395 250h13v1h-13zM382 251h1v1h-1zM386 251h23v1h-23zM410 251h1v1h-1zM413 251h1v1h-1zM372 252h1v1h-1zM379 252h1v1h-1zM381 252h3v1h-3zM385 252h26v1h-26zM375 253h1v1h-1zM377 253h1v1h-1zM379 253h1v1h-1zM381 253h1v1h-1zM383 253h26v1h-26zM410 253h2v1h-2zM369 254h1v1h-1zM371 254h2v1h-2zM374 254h3v1h-3zM381 254h28v1h-28zM368 255h1v1h-1zM372 255h1v1h-1zM374 255h1v1h-1zM377 255h2v1h-2zM380 255h1v1h-1zM382 255h25v1h-25zM370 256h2v1h-2zM375 256h1v1h-1zM378 256h33v1h-33zM413 256h1v1h-1zM367 257h1v1h-1zM370 257h1v1h-1zM372 257h4v1h-4zM377 257h33v1h-33zM411 257h1v1h-1zM413 257h1v1h-1zM367 258h1v1h-1zM371 258h1v1h-1zM373 258h3v1h-3zM377 258h34v1h-34zM368 259h2v1h-2zM371 259h4v1h-4zM376 259h36v1h-36zM368 260h2v1h-2zM371 260h1v1h-1zM373 260h2v1h-2zM376 260h2v1h-2zM379 260h31v1h-31zM367 261h3v1h-3zM371 261h2v1h-2zM376 261h33v1h-33zM367 262h2v1h-2zM370 262h1v1h-1zM372 262h37v1h-37zM412 262h2v1h-2zM369 263h2v1h-2zM372 263h1v1h-1zM374 263h35v1h-35zM370 264h2v1h-2zM373 264h36v1h-36zM410 264h1v1h-1zM413 264h1v1h-1zM368 265h3v1h-3zM374 265h36v1h-36zM414 265h1v1h-1zM367 266h1v1h-1zM371 266h1v1h-1zM373 266h37v1h-37zM370 267h2v1h-2zM373 267h37v1h-37zM411 267h1v1h-1zM367 268h2v1h-2zM370 268h1v1h-1zM372 268h1v1h-1zM374 268h36v1h-36zM412 268h1v1h-1zM369 269h2v1h-2zM372 269h37v1h-37zM414 269h1v1h-1zM368 270h5v1h-5zM374 270h35v1h-35zM412 270h1v1h-1zM367 271h4v1h-4zM372 271h1v1h-1zM374 271h1v1h-1zM376 271h32v1h-32zM413 271h1v1h-1zM369 272h3v1h-3zM374 272h35v1h-35zM368 273h2v1h-2zM371 273h1v1h-1zM373 273h3v1h-3zM377 273h31v1h-31zM427 273h1v1h-1zM368 274h4v1h-4zM374 274h1v1h-1zM376 274h32v1h-32zM368 275h1v1h-1zM371 275h1v1h-1zM373 275h1v1h-1zM375 275h21v1h-21zM397 275h11v1h-11zM410 275h1v1h-1zM368 276h5v1h-5zM374 276h1v1h-1zM376 276h31v1h-31zM368 277h2v1h-2zM371 277h5v1h-5zM377 277h30v1h-30zM416 277h1v1h-1zM367 278h2v1h-2zM370 278h6v1h-6zM378 278h28v1h-28zM408 278h1v1h-1zM410 278h1v1h-1zM369 279h1v1h-1zM372 279h1v1h-1zM374 279h3v1h-3zM378 279h17v1h-17zM396 279h11v1h-11zM367 280h2v1h-2zM370 280h7v1h-7zM378 280h1v1h-1zM380 280h25v1h-25zM406 280h2v1h-2zM411 280h1v1h-1zM368 281h2v1h-2zM371 281h3v1h-3zM375 281h4v1h-4zM380 281h1v1h-1zM382 281h21v1h-21zM367 282h1v1h-1zM369 282h4v1h-4zM374 282h2v1h-2zM378 282h23v1h-23zM403 282h1v1h-1zM407 282h1v1h-1zM368 283h1v1h-1zM371 283h2v1h-2zM374 283h3v1h-3zM378 283h3v1h-3zM382 283h16v1h-16zM399 283h3v1h-3zM403 283h1v1h-1zM367 284h1v1h-1zM371 284h5v1h-5zM377 284h1v1h-1zM382 284h2v1h-2zM387 284h1v1h-1zM389 284h4v1h-4zM394 284h1v1h-1zM400 284h1v1h-1zM402 284h1v1h-1zM405 284h1v1h-1zM368 285h1v1h-1zM370 285h1v1h-1zM376 285h2v1h-2zM383 285h1v1h-1zM385 285h1v1h-1zM388 285h1v1h-1zM391 285h3v1h-3zM397 285h1v1h-1zM399 285h1v1h-1zM402 285h1v1h-1zM368 286h2v1h-2zM373 286h4v1h-4zM380 286h1v1h-1zM382 286h2v1h-2zM390 286h1v1h-1zM397 286h2v1h-2zM367 287h1v1h-1zM370 287h1v1h-1zM375 287h2v1h-2zM385 287h1v1h-1zM388 287h2v1h-2zM392 287h4v1h-4zM398 287h1v1h-1zM401 287h1v1h-1zM403 287h1v1h-1zM369 288h2v1h-2zM372 288h1v1h-1zM384 288h3v1h-3zM390 288h1v1h-1zM392 288h2v1h-2zM397 288h1v1h-1zM399 288h2v1h-2zM371 289h5v1h-5zM381 289h2v1h-2zM385 289h1v1h-1zM391 289h2v1h-2zM395 289h2v1h-2zM400 289h1v1h-1zM378 290h1v1h-1zM381 290h3v1h-3zM387 290h1v1h-1zM397 290h2v1h-2zM400 290h1v1h-1zM383 291h1v1h-1zM386 291h1v1h-1zM395 291h1v1h-1zM399 291h1v1h-1zM402 291h1v1h-1zM391 292h1v1h-1zM386 293h1v1h-1zM398 293h1v1h-1zM398 294h1v1h-1z" fill="#000000"/></g><path d="M418.2 229.6h1v1h-1zM430.7 226.7h1v1h-1zM428.4 226.6h1v1h-1zM420.2 228.6h1v1h-1zM427.1 226.6h1v1h-1zM439.7 225.0h1v1h-1zM433.4 226.4h1v1h-1zM440.2 224.8h1v1h-1zM438.3 226.8h1v1h-1zM435.2 226.8h1v1h-1zM425.6 227.5h1v1h-1zM439.2 225.4h1v1h-1zM422.9 229.2h1v1h-1zM421.7 228.8h1v1h-1zM433.0 225.6h1v1h-1zM434.9 227.1h1v1h-1zM437.1 226.4h1v1h-1zM420.4 229.5h1v1h-1zM437.4 225.0h1v1h-1zM425.4 228.4h1v1h-1zM420.8 228.8h1v1h-1zM430.9 225.2h1v1h-1zM437.4 226.5h1v1h-1zM431.3 224.9h1v1h-1zM435.8 225.5h1v1h-1zM425.4 228.2h1v1h-1zM423.1 228.5h1v1h-1zM423.5 229.9h1v1h-1zM440.1 225.9h1v1h-1zM429.7 226.3h1v1h-1zM433.8 225.3h1v1h-1zM432.7 226.7h1v1h-1zM429.6 225.5h1v1h-1zM421.0 229.8h1v1h-1zM435.1 226.2h1v1h-1zM430.0 226.4h1v1h-1zM426.4 228.3h1v1h-1zM427.8 229.2h1v1h-1zM427.5 227.0h1v1h-1zM439.0 223.9h1v1h-1zM439.8 224.4h1v1h-1zM435.8 225.9h1v1h-1zM429.6 227.2h1v1h-1zM430.7 228.4h1v1h-1zM431.6 226.0h1v1h-1zM426.1 229.2h1v1h-1zM421.2 228.2h1v1h-1zM432.5 225.8h1v1h-1zM440.2 225.1h1v1h-1zM423.4 226.9h1v1h-1zM430.3 227.1h1v1h-1zM427.1 227.8h1v1h-1zM440.4 224.7h1v1h-1zM437.4 225.2h1v1h-1zM421.3 229.7h1v1h-1zM435.6 221.1h1v1h-1zM421.9 227.2h1v1h-1zM444.6 224.6h1v1h-1zM439.4 227.1h1v1h-1zM427.7 231.6h1v1h-1zM428.9 226.6h1v1h-1zM442.2 228.4h1v1h-1zM442.7 228.7h1v1h-1z" fill="#111"/><g filter="url(#fb9)"><filter id="fb9" x="-5%" y="-5%" width="110%" height="110%"><feGaussianBlur stdDeviation="0.3"/></filter><path d="M393 312h1v1h-1zM415 317h1v1h-1zM389 318h1v1h-1zM391 318h1v1h-1zM404 318h1v1h-1zM395 319h1v1h-1zM406 319h1v1h-1zM408 319h1v1h-1zM410 319h1v1h-1zM418 319h1v1h-1zM386 320h1v1h-1zM391 320h1v1h-1zM396 320h1v1h-1zM407 320h1v1h-1zM412 320h1v1h-1zM388 321h1v1h-1zM390 321h2v1h-2zM401 321h1v1h-1zM408 321h1v1h-1zM415 321h1v1h-1zM369 322h1v1h-1zM382 322h1v1h-1zM384 322h2v1h-2zM387 322h1v1h-1zM392 322h1v1h-1zM394 322h2v1h-2zM397 322h4v1h-4zM403 322h1v1h-1zM408 322h1v1h-1zM374 323h2v1h-2zM378 323h2v1h-2zM381 323h2v1h-2zM393 323h1v1h-1zM395 323h1v1h-1zM397 323h1v1h-1zM401 323h7v1h-7zM409 323h1v1h-1zM413 323h1v1h-1zM421 323h1v1h-1zM374 324h1v1h-1zM376 324h1v1h-1zM379 324h1v1h-1zM381 324h1v1h-1zM384 324h11v1h-11zM396 324h2v1h-2zM399 324h3v1h-3zM403 324h2v1h-2zM406 324h1v1h-1zM409 324h1v1h-1zM421 324h1v1h-1zM367 325h1v1h-1zM372 325h3v1h-3zM376 325h5v1h-5zM382 325h3v1h-3zM386 325h30v1h-30zM422 325h1v1h-1zM371 326h10v1h-10zM411 326h3v1h-3zM428 326h1v1h-1zM367 327h1v1h-1zM369 327h5v1h-5zM375 327h1v1h-1zM379 327h1v1h-1zM412 327h2v1h-2zM415 327h2v1h-2zM418 327h1v1h-1zM367 328h5v1h-5zM373 328h1v1h-1zM375 328h2v1h-2zM413 328h1v1h-1zM415 328h1v1h-1zM417 328h1v1h-1zM434 328h1v1h-1zM436 328h1v1h-1zM367 329h4v1h-4zM373 329h1v1h-1zM375 329h1v1h-1zM415 329h1v1h-1zM419 329h2v1h-2zM428 329h1v1h-1zM438 329h1v1h-1zM367 330h4v1h-4zM414 330h1v1h-1zM416 330h1v1h-1zM419 330h1v1h-1zM431 330h1v1h-1zM438 330h1v1h-1zM367 331h2v1h-2zM414 331h2v1h-2zM417 331h1v1h-1zM423 331h1v1h-1zM367 332h2v1h-2zM414 332h2v1h-2zM422 332h1v1h-1zM424 332h1v1h-1zM431 332h1v1h-1zM435 332h1v1h-1zM368 333h2v1h-2zM414 333h3v1h-3zM427 333h1v1h-1zM367 334h1v1h-1zM369 334h1v1h-1zM414 334h2v1h-2zM419 334h1v1h-1zM429 334h1v1h-1zM367 335h2v1h-2zM413 335h2v1h-2zM367 336h1v1h-1zM369 336h1v1h-1zM413 336h1v1h-1zM412 337h3v1h-3zM418 337h1v1h-1zM420 337h1v1h-1zM367 338h1v1h-1zM412 338h3v1h-3zM416 338h2v1h-2zM367 339h1v1h-1zM412 339h2v1h-2zM415 339h2v1h-2zM367 340h1v1h-1zM411 340h2v1h-2zM414 340h2v1h-2zM420 340h1v1h-1zM367 341h1v1h-1zM411 341h5v1h-5zM437 341h1v1h-1zM367 342h3v1h-3zM410 342h5v1h-5zM418 342h1v1h-1zM369 343h2v1h-2zM372 343h1v1h-1zM376 343h2v1h-2zM410 343h5v1h-5zM367 344h5v1h-5zM373 344h7v1h-7zM381 344h1v1h-1zM410 344h1v1h-1zM412 344h1v1h-1zM415 344h1v1h-1zM367 345h2v1h-2zM370 345h2v1h-2zM373 345h1v1h-1zM375 345h1v1h-1zM377 345h2v1h-2zM380 345h2v1h-2zM410 345h2v1h-2zM413 345h3v1h-3zM367 346h3v1h-3zM372 346h2v1h-2zM375 346h3v1h-3zM380 346h1v1h-1zM382 346h2v1h-2zM410 346h5v1h-5zM416 346h1v1h-1zM367 347h8v1h-8zM376 347h1v1h-1zM378 347h1v1h-1zM380 347h2v1h-2zM410 347h3v1h-3zM367 348h9v1h-9zM378 348h2v1h-2zM383 348h2v1h-2zM410 348h2v1h-2zM413 348h3v1h-3zM418 348h1v1h-1zM424 348h1v1h-1zM367 349h2v1h-2zM370 349h3v1h-3zM374 349h4v1h-4zM381 349h5v1h-5zM410 349h3v1h-3zM414 349h1v1h-1zM418 349h1v1h-1zM421 349h1v1h-1zM367 350h3v1h-3zM377 350h3v1h-3zM382 350h1v1h-1zM384 350h2v1h-2zM410 350h2v1h-2zM416 350h1v1h-1zM367 351h3v1h-3zM373 351h6v1h-6zM380 351h7v1h-7zM411 351h4v1h-4zM416 351h1v1h-1zM423 351h1v1h-1zM367 352h2v1h-2zM371 352h1v1h-1zM373 352h4v1h-4zM378 352h6v1h-6zM385 352h1v1h-1zM411 352h4v1h-4zM417 352h4v1h-4zM367 353h3v1h-3zM371 353h4v1h-4zM376 353h1v1h-1zM378 353h2v1h-2zM381 353h4v1h-4zM386 353h1v1h-1zM412 353h3v1h-3zM416 353h1v1h-1zM418 353h1v1h-1zM423 353h1v1h-1zM367 354h8v1h-8zM377 354h4v1h-4zM384 354h1v1h-1zM386 354h2v1h-2zM413 354h7v1h-7zM421 354h1v1h-1zM423 354h1v1h-1zM427 354h1v1h-1zM367 355h5v1h-5zM374 355h4v1h-4zM379 355h1v1h-1zM382 355h3v1h-3zM386 355h2v1h-2zM412 355h1v1h-1zM414 355h5v1h-5zM421 355h2v1h-2zM367 356h7v1h-7zM375 356h7v1h-7zM387 356h1v1h-1zM411 356h7v1h-7zM419 356h2v1h-2zM424 356h1v1h-1zM427 356h1v1h-1zM367 357h1v1h-1zM372 357h1v1h-1zM375 357h1v1h-1zM381 357h1v1h-1zM384 357h2v1h-2zM412 357h9v1h-9zM428 357h1v1h-1zM367 358h1v1h-1zM369 358h2v1h-2zM384 358h2v1h-2zM413 358h1v1h-1zM415 358h5v1h-5zM421 358h1v1h-1zM435 358h1v1h-1zM417 359h5v1h-5zM424 359h1v1h-1zM431 359h1v1h-1zM416 360h2v1h-2zM419 360h2v1h-2zM422 360h1v1h-1zM415 361h1v1h-1zM417 361h1v1h-1zM421 361h2v1h-2zM424 361h1v1h-1zM418 362h6v1h-6zM430 362h1v1h-1zM417 363h6v1h-6zM424 363h1v1h-1zM435 363h1v1h-1zM418 364h6v1h-6zM426 364h2v1h-2zM419 365h3v1h-3zM423 365h3v1h-3zM428 365h1v1h-1zM418 366h1v1h-1zM421 366h3v1h-3zM427 366h1v1h-1zM429 366h1v1h-1zM420 367h4v1h-4zM425 367h1v1h-1zM428 367h1v1h-1zM432 367h1v1h-1zM418 368h5v1h-5zM426 368h1v1h-1zM428 368h1v1h-1zM417 369h8v1h-8zM418 370h1v1h-1zM420 370h4v1h-4zM429 370h1v1h-1zM433 370h1v1h-1zM443 370h1v1h-1zM421 371h5v1h-5zM428 371h1v1h-1zM417 372h9v1h-9zM414 373h1v1h-1zM418 373h7v1h-7zM429 373h3v1h-3zM415 374h3v1h-3zM419 374h5v1h-5zM425 374h2v1h-2zM413 375h1v1h-1zM415 375h1v1h-1zM417 375h2v1h-2zM420 375h7v1h-7zM368 376h1v1h-1zM412 376h4v1h-4zM417 376h3v1h-3zM422 376h4v1h-4zM427 376h2v1h-2zM445 376h1v1h-1zM367 377h2v1h-2zM410 377h2v1h-2zM413 377h5v1h-5zM419 377h5v1h-5zM427 377h1v1h-1zM368 378h4v1h-4zM409 378h2v1h-2zM412 378h4v1h-4zM417 378h2v1h-2zM424 378h1v1h-1zM428 378h1v1h-1zM432 378h1v1h-1zM367 379h1v1h-1zM369 379h6v1h-6zM377 379h2v1h-2zM383 379h6v1h-6zM403 379h2v1h-2zM406 379h6v1h-6zM413 379h5v1h-5zM421 379h1v1h-1zM370 380h5v1h-5zM376 380h2v1h-2zM379 380h1v1h-1zM382 380h3v1h-3zM387 380h2v1h-2zM390 380h1v1h-1zM400 380h1v1h-1zM404 380h5v1h-5zM411 380h7v1h-7zM420 380h1v1h-1zM422 380h2v1h-2zM368 381h1v1h-1zM371 381h1v1h-1zM374 381h3v1h-3zM379 381h2v1h-2zM382 381h3v1h-3zM386 381h5v1h-5zM392 381h1v1h-1zM394 381h1v1h-1zM396 381h2v1h-2zM399 381h16v1h-16zM416 381h3v1h-3zM421 381h1v1h-1zM425 381h2v1h-2zM367 382h1v1h-1zM371 382h3v1h-3zM375 382h2v1h-2zM378 382h1v1h-1zM380 382h1v1h-1zM382 382h4v1h-4zM387 382h6v1h-6zM394 382h4v1h-4zM399 382h2v1h-2zM402 382h1v1h-1zM406 382h13v1h-13zM420 382h1v1h-1zM424 382h2v1h-2zM369 383h1v1h-1zM372 383h1v1h-1zM374 383h17v1h-17zM393 383h2v1h-2zM396 383h6v1h-6zM405 383h5v1h-5zM411 383h4v1h-4zM417 383h2v1h-2zM421 383h2v1h-2zM424 383h1v1h-1zM428 383h1v1h-1zM442 383h1v1h-1zM370 384h1v1h-1zM372 384h1v1h-1zM374 384h10v1h-10zM385 384h8v1h-8zM394 384h1v1h-1zM396 384h3v1h-3zM400 384h2v1h-2zM403 384h2v1h-2zM406 384h6v1h-6zM413 384h2v1h-2zM419 384h1v1h-1zM421 384h1v1h-1zM367 385h2v1h-2zM371 385h1v1h-1zM373 385h2v1h-2zM377 385h17v1h-17zM395 385h15v1h-15zM411 385h3v1h-3zM417 385h1v1h-1zM441 385h1v1h-1zM369 386h1v1h-1zM371 386h3v1h-3zM375 386h12v1h-12zM388 386h14v1h-14zM403 386h9v1h-9zM416 386h1v1h-1zM421 386h1v1h-1zM437 386h1v1h-1zM368 387h1v1h-1zM372 387h1v1h-1zM376 387h1v1h-1zM378 387h13v1h-13zM393 387h2v1h-2zM396 387h2v1h-2zM399 387h8v1h-8zM408 387h5v1h-5zM414 387h2v1h-2zM367 388h1v1h-1zM370 388h6v1h-6zM377 388h3v1h-3zM382 388h3v1h-3zM386 388h1v1h-1zM388 388h2v1h-2zM391 388h3v1h-3zM395 388h1v1h-1zM397 388h2v1h-2zM400 388h1v1h-1zM402 388h1v1h-1zM405 388h2v1h-2zM408 388h2v1h-2zM411 388h1v1h-1zM413 388h1v1h-1zM416 388h3v1h-3zM369 389h2v1h-2zM376 389h2v1h-2zM379 389h1v1h-1zM381 389h1v1h-1zM388 389h3v1h-3zM392 389h1v1h-1zM394 389h1v1h-1zM396 389h2v1h-2zM399 389h1v1h-1zM402 389h3v1h-3zM406 389h3v1h-3zM412 389h1v1h-1zM416 389h1v1h-1zM367 390h1v1h-1zM370 390h1v1h-1zM377 390h3v1h-3zM381 390h3v1h-3zM385 390h1v1h-1zM390 390h1v1h-1zM394 390h3v1h-3zM404 390h3v1h-3zM413 390h2v1h-2zM422 390h1v1h-1zM367 391h3v1h-3zM375 391h1v1h-1zM378 391h1v1h-1zM384 391h2v1h-2zM387 391h1v1h-1zM389 391h3v1h-3zM393 391h3v1h-3zM400 391h1v1h-1zM402 391h2v1h-2zM405 391h1v1h-1z" fill="#a2a2a2"/><path d="M381 326h15v1h-15zM398 326h8v1h-8zM407 326h3v1h-3zM374 327h1v1h-1zM376 327h3v1h-3zM380 327h1v1h-1zM411 327h1v1h-1zM372 328h1v1h-1zM374 328h1v1h-1zM377 328h2v1h-2zM371 329h2v1h-2zM374 329h1v1h-1zM376 329h2v1h-2zM413 329h1v1h-1zM371 330h7v1h-7zM413 330h1v1h-1zM369 331h8v1h-8zM413 331h1v1h-1zM369 332h8v1h-8zM413 332h1v1h-1zM367 333h1v1h-1zM370 333h6v1h-6zM413 333h1v1h-1zM368 334h1v1h-1zM370 334h4v1h-4zM375 334h1v1h-1zM412 334h2v1h-2zM369 335h4v1h-4zM374 335h2v1h-2zM368 336h1v1h-1zM370 336h1v1h-1zM373 336h1v1h-1zM376 336h2v1h-2zM367 337h5v1h-5zM373 337h1v1h-1zM375 337h2v1h-2zM368 338h6v1h-6zM376 338h1v1h-1zM411 338h1v1h-1zM368 339h3v1h-3zM373 339h2v1h-2zM376 339h1v1h-1zM411 339h1v1h-1zM368 340h3v1h-3zM372 340h1v1h-1zM374 340h4v1h-4zM368 341h10v1h-10zM410 341h1v1h-1zM370 342h10v1h-10zM367 343h2v1h-2zM371 343h1v1h-1zM373 343h3v1h-3zM378 343h4v1h-4zM409 343h1v1h-1zM372 344h1v1h-1zM380 344h1v1h-1zM382 344h1v1h-1zM369 345h1v1h-1zM372 345h1v1h-1zM374 345h1v1h-1zM376 345h1v1h-1zM379 345h1v1h-1zM382 345h2v1h-2zM409 345h1v1h-1zM370 346h2v1h-2zM374 346h1v1h-1zM378 346h2v1h-2zM381 346h1v1h-1zM409 346h1v1h-1zM375 347h1v1h-1zM377 347h1v1h-1zM379 347h1v1h-1zM382 347h4v1h-4zM409 347h1v1h-1zM376 348h2v1h-2zM380 348h3v1h-3zM385 348h1v1h-1zM409 348h1v1h-1zM369 349h1v1h-1zM373 349h1v1h-1zM378 349h3v1h-3zM386 349h1v1h-1zM409 349h1v1h-1zM370 350h7v1h-7zM380 350h2v1h-2zM383 350h1v1h-1zM386 350h2v1h-2zM370 351h3v1h-3zM379 351h1v1h-1zM387 351h1v1h-1zM409 351h2v1h-2zM369 352h2v1h-2zM372 352h1v1h-1zM377 352h1v1h-1zM384 352h1v1h-1zM386 352h2v1h-2zM409 352h2v1h-2zM370 353h1v1h-1zM375 353h1v1h-1zM377 353h1v1h-1zM380 353h1v1h-1zM385 353h1v1h-1zM387 353h2v1h-2zM411 353h1v1h-1zM375 354h2v1h-2zM381 354h3v1h-3zM385 354h1v1h-1zM388 354h1v1h-1zM411 354h2v1h-2zM372 355h2v1h-2zM378 355h1v1h-1zM380 355h2v1h-2zM385 355h1v1h-1zM388 355h1v1h-1zM410 355h2v1h-2zM413 355h1v1h-1zM374 356h1v1h-1zM382 356h5v1h-5zM368 357h4v1h-4zM373 357h2v1h-2zM376 357h5v1h-5zM382 357h2v1h-2zM386 357h1v1h-1zM411 357h1v1h-1zM368 358h1v1h-1zM371 358h8v1h-8zM380 358h4v1h-4zM386 358h1v1h-1zM411 358h2v1h-2zM414 358h1v1h-1zM367 359h8v1h-8zM376 359h10v1h-10zM413 359h4v1h-4zM367 360h6v1h-6zM376 360h1v1h-1zM380 360h1v1h-1zM382 360h1v1h-1zM384 360h1v1h-1zM414 360h2v1h-2zM418 360h1v1h-1zM367 361h2v1h-2zM374 361h2v1h-2zM377 361h1v1h-1zM381 361h1v1h-1zM383 361h2v1h-2zM416 361h1v1h-1zM418 361h3v1h-3zM367 362h5v1h-5zM375 362h1v1h-1zM378 362h2v1h-2zM414 362h4v1h-4zM367 363h1v1h-1zM369 363h1v1h-1zM378 363h1v1h-1zM381 363h1v1h-1zM415 363h2v1h-2zM367 364h3v1h-3zM374 364h1v1h-1zM378 364h1v1h-1zM415 364h3v1h-3zM367 365h3v1h-3zM372 365h2v1h-2zM376 365h1v1h-1zM378 365h1v1h-1zM416 365h3v1h-3zM367 366h2v1h-2zM370 366h1v1h-1zM373 366h1v1h-1zM417 366h1v1h-1zM419 366h2v1h-2zM367 367h4v1h-4zM374 367h2v1h-2zM417 367h3v1h-3zM367 368h3v1h-3zM373 368h1v1h-1zM416 368h2v1h-2zM367 369h1v1h-1zM371 369h3v1h-3zM415 369h2v1h-2zM367 370h1v1h-1zM369 370h2v1h-2zM374 370h2v1h-2zM416 370h2v1h-2zM419 370h1v1h-1zM367 371h3v1h-3zM371 371h1v1h-1zM375 371h2v1h-2zM415 371h6v1h-6zM367 372h3v1h-3zM374 372h1v1h-1zM414 372h3v1h-3zM367 373h4v1h-4zM372 373h1v1h-1zM374 373h1v1h-1zM415 373h3v1h-3zM367 374h11v1h-11zM412 374h3v1h-3zM418 374h1v1h-1zM367 375h3v1h-3zM371 375h5v1h-5zM377 375h2v1h-2zM410 375h3v1h-3zM414 375h1v1h-1zM416 375h1v1h-1zM419 375h1v1h-1zM367 376h1v1h-1zM369 376h7v1h-7zM377 376h2v1h-2zM381 376h1v1h-1zM408 376h1v1h-1zM410 376h2v1h-2zM416 376h1v1h-1zM369 377h11v1h-11zM381 377h1v1h-1zM383 377h1v1h-1zM385 377h1v1h-1zM408 377h2v1h-2zM412 377h1v1h-1zM372 378h7v1h-7zM380 378h9v1h-9zM403 378h1v1h-1zM406 378h3v1h-3zM411 378h1v1h-1zM375 379h2v1h-2zM379 379h4v1h-4zM389 379h2v1h-2zM392 379h1v1h-1zM402 379h1v1h-1zM405 379h1v1h-1zM412 379h1v1h-1zM375 380h1v1h-1zM378 380h1v1h-1zM380 380h2v1h-2zM385 380h2v1h-2zM389 380h1v1h-1zM391 380h5v1h-5zM397 380h3v1h-3zM401 380h3v1h-3zM409 380h2v1h-2zM377 381h2v1h-2zM381 381h1v1h-1zM385 381h1v1h-1zM391 381h1v1h-1zM393 381h1v1h-1zM395 381h1v1h-1zM398 381h1v1h-1zM377 382h1v1h-1zM379 382h1v1h-1zM381 382h1v1h-1zM386 382h1v1h-1zM393 382h1v1h-1zM398 382h1v1h-1zM401 382h1v1h-1zM403 382h3v1h-3zM391 383h2v1h-2zM395 383h1v1h-1zM402 383h3v1h-3zM384 384h1v1h-1zM393 384h1v1h-1zM395 384h1v1h-1zM399 384h1v1h-1zM402 384h1v1h-1zM405 384h1v1h-1zM394 385h1v1h-1z" fill="#515151"/><path d="M396 326h2v1h-2zM406 326h1v1h-1zM410 326h1v1h-1zM381 327h30v1h-30zM379 328h34v1h-34zM378 329h35v1h-35zM378 330h35v1h-35zM377 331h36v1h-36zM377 332h36v1h-36zM376 333h37v1h-37zM374 334h1v1h-1zM376 334h36v1h-36zM373 335h1v1h-1zM376 335h37v1h-37zM371 336h2v1h-2zM374 336h2v1h-2zM378 336h35v1h-35zM372 337h1v1h-1zM374 337h1v1h-1zM377 337h35v1h-35zM374 338h2v1h-2zM377 338h34v1h-34zM371 339h2v1h-2zM375 339h1v1h-1zM377 339h34v1h-34zM371 340h1v1h-1zM373 340h1v1h-1zM378 340h33v1h-33zM378 341h32v1h-32zM380 342h30v1h-30zM382 343h27v1h-27zM383 344h27v1h-27zM384 345h25v1h-25zM384 346h25v1h-25zM386 347h23v1h-23zM386 348h23v1h-23zM387 349h22v1h-22zM388 350h22v1h-22zM388 351h21v1h-21zM388 352h21v1h-21zM389 353h22v1h-22zM389 354h22v1h-22zM389 355h21v1h-21zM388 356h23v1h-23zM387 357h24v1h-24zM379 358h1v1h-1zM387 358h24v1h-24zM375 359h1v1h-1zM386 359h27v1h-27zM373 360h3v1h-3zM377 360h3v1h-3zM381 360h1v1h-1zM383 360h1v1h-1zM385 360h29v1h-29zM369 361h5v1h-5zM376 361h1v1h-1zM378 361h3v1h-3zM382 361h1v1h-1zM385 361h30v1h-30zM372 362h3v1h-3zM376 362h2v1h-2zM380 362h34v1h-34zM368 363h1v1h-1zM370 363h8v1h-8zM379 363h2v1h-2zM382 363h33v1h-33zM370 364h4v1h-4zM375 364h3v1h-3zM379 364h36v1h-36zM370 365h2v1h-2zM374 365h2v1h-2zM377 365h1v1h-1zM379 365h37v1h-37zM369 366h1v1h-1zM371 366h2v1h-2zM374 366h43v1h-43zM371 367h3v1h-3zM376 367h41v1h-41zM370 368h3v1h-3zM374 368h42v1h-42zM368 369h3v1h-3zM374 369h41v1h-41zM368 370h1v1h-1zM371 370h3v1h-3zM376 370h40v1h-40zM370 371h1v1h-1zM372 371h3v1h-3zM377 371h38v1h-38zM370 372h4v1h-4zM375 372h39v1h-39zM371 373h1v1h-1zM373 373h1v1h-1zM375 373h39v1h-39zM378 374h34v1h-34zM370 375h1v1h-1zM376 375h1v1h-1zM379 375h31v1h-31zM376 376h1v1h-1zM379 376h2v1h-2zM382 376h26v1h-26zM409 376h1v1h-1zM380 377h1v1h-1zM382 377h1v1h-1zM384 377h1v1h-1zM386 377h22v1h-22zM379 378h1v1h-1zM389 378h14v1h-14zM404 378h2v1h-2zM391 379h1v1h-1zM393 379h9v1h-9zM396 380h1v1h-1z" fill="#000000"/></g><rect x="366.4" y="212.3" width="86.0" height="85.09999999999997" fill="none" stroke="#111" stroke-width="1.15"/><rect x="366.4" y="307.3" width="86.0" height="84.80000000000001" fill="none" stroke="#111" stroke-width="1.15"/>
<rect x="0" y="0" width="520" height="1" fill="#5a5a5a"/>
<rect x="0" y="0" width="1.2" height="439" fill="#5a5a5a"/>
<rect x="518" y="0" width="2" height="439" fill="#6a6a6a"/>
<rect x="0" y="436.8" width="520" height="2.2" fill="#6a6a6a"/>
</svg>
</body></html>
